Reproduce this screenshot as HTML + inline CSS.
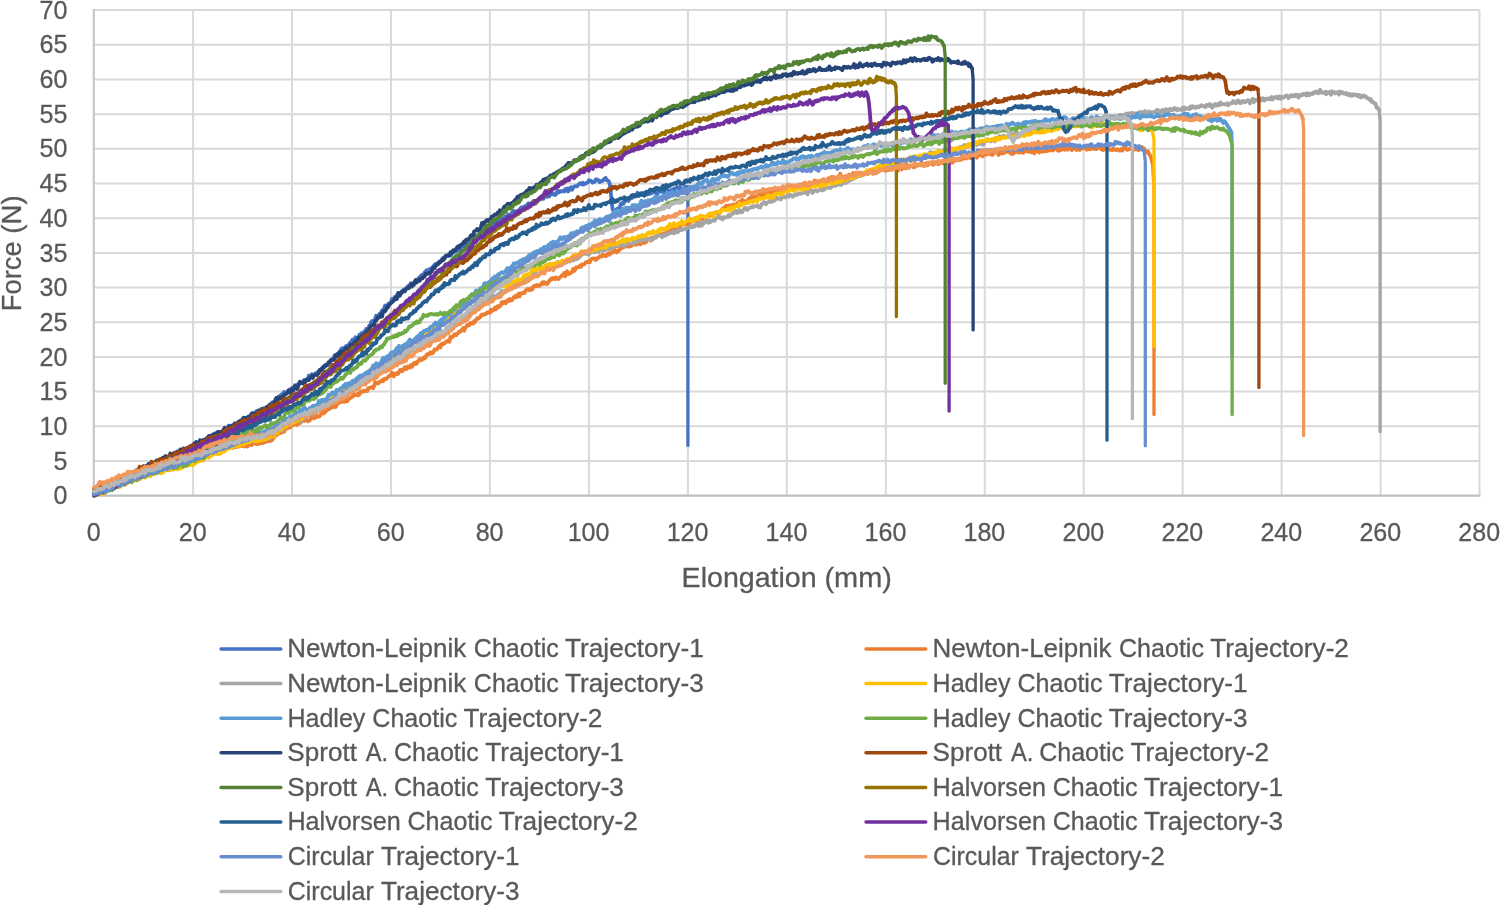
<!DOCTYPE html>
<html lang="en"><head><meta charset="utf-8"><title>Force vs Elongation</title>
<style>
html,body{margin:0;padding:0;background:#fff}
svg{display:block}
text{font-family:"Liberation Sans",sans-serif;fill:#595959;stroke:#595959;stroke-width:0.3px}
</style></head>
<body>
<svg width="1500" height="905" viewBox="0 0 1500 905">
<rect width="1500" height="905" fill="#ffffff"/>
<path d="M94.1,461.0H1479.5M94.1,426.3H1479.5M94.1,391.6H1479.5M94.1,357.0H1479.5M94.1,322.3H1479.5M94.1,287.6H1479.5M94.1,252.9H1479.5M94.1,218.2H1479.5M94.1,183.5H1479.5M94.1,148.8H1479.5M94.1,114.2H1479.5M94.1,79.5H1479.5M94.1,44.8H1479.5M94.1,10.1H1479.5M193.1,10.1V495.7M292.0,10.1V495.7M391.0,10.1V495.7M489.9,10.1V495.7M588.9,10.1V495.7M687.9,10.1V495.7M786.8,10.1V495.7M885.8,10.1V495.7M984.7,10.1V495.7M1083.7,10.1V495.7M1182.7,10.1V495.7M1281.6,10.1V495.7M1380.6,10.1V495.7M1479.5,10.1V495.7" stroke="#D9D9D9" stroke-width="2" fill="none"/>
<path d="M93.8,9.1V496.7" stroke="#C8C8C8" stroke-width="2.2" fill="none"/>
<path d="M93.1,495.7H1480.5" stroke="#BFBFBF" stroke-width="2.2" fill="none"/>
<g font-size="26" text-anchor="end" lengthAdjust="spacingAndGlyphs">
<text x="67.4" y="504.3" textLength="13.9" lengthAdjust="spacingAndGlyphs">0</text><text x="67.4" y="469.6" textLength="13.9" lengthAdjust="spacingAndGlyphs">5</text><text x="67.4" y="434.9" textLength="27.9" lengthAdjust="spacingAndGlyphs">10</text><text x="67.4" y="400.2" textLength="27.9" lengthAdjust="spacingAndGlyphs">15</text><text x="67.4" y="365.6" textLength="27.9" lengthAdjust="spacingAndGlyphs">20</text><text x="67.4" y="330.9" textLength="27.9" lengthAdjust="spacingAndGlyphs">25</text><text x="67.4" y="296.2" textLength="27.9" lengthAdjust="spacingAndGlyphs">30</text><text x="67.4" y="261.5" textLength="27.9" lengthAdjust="spacingAndGlyphs">35</text><text x="67.4" y="226.8" textLength="27.9" lengthAdjust="spacingAndGlyphs">40</text><text x="67.4" y="192.1" textLength="27.9" lengthAdjust="spacingAndGlyphs">45</text><text x="67.4" y="157.4" textLength="27.9" lengthAdjust="spacingAndGlyphs">50</text><text x="67.4" y="122.8" textLength="27.9" lengthAdjust="spacingAndGlyphs">55</text><text x="67.4" y="88.1" textLength="27.9" lengthAdjust="spacingAndGlyphs">60</text><text x="67.4" y="53.4" textLength="27.9" lengthAdjust="spacingAndGlyphs">65</text><text x="67.4" y="18.7" textLength="27.9" lengthAdjust="spacingAndGlyphs">70</text>
</g>
<g font-size="26" text-anchor="middle">
<text x="93.8" y="540.7" textLength="13.9" lengthAdjust="spacingAndGlyphs">0</text><text x="192.8" y="540.7" textLength="27.9" lengthAdjust="spacingAndGlyphs">20</text><text x="291.7" y="540.7" textLength="27.9" lengthAdjust="spacingAndGlyphs">40</text><text x="390.7" y="540.7" textLength="27.9" lengthAdjust="spacingAndGlyphs">60</text><text x="489.6" y="540.7" textLength="27.9" lengthAdjust="spacingAndGlyphs">80</text><text x="588.6" y="540.7" textLength="41.8" lengthAdjust="spacingAndGlyphs">100</text><text x="687.6" y="540.7" textLength="41.8" lengthAdjust="spacingAndGlyphs">120</text><text x="786.5" y="540.7" textLength="41.8" lengthAdjust="spacingAndGlyphs">140</text><text x="885.5" y="540.7" textLength="41.8" lengthAdjust="spacingAndGlyphs">160</text><text x="984.4" y="540.7" textLength="41.8" lengthAdjust="spacingAndGlyphs">180</text><text x="1083.4" y="540.7" textLength="41.8" lengthAdjust="spacingAndGlyphs">200</text><text x="1182.4" y="540.7" textLength="41.8" lengthAdjust="spacingAndGlyphs">220</text><text x="1281.3" y="540.7" textLength="41.8" lengthAdjust="spacingAndGlyphs">240</text><text x="1380.3" y="540.7" textLength="41.8" lengthAdjust="spacingAndGlyphs">260</text><text x="1479.2" y="540.7" textLength="41.8" lengthAdjust="spacingAndGlyphs">280</text>
</g>
<g font-size="28.5"><text y="586.8"><tspan x="681.59" textLength="135.06" lengthAdjust="spacingAndGlyphs">Elongation</tspan> <tspan x="824.48" textLength="67.53" lengthAdjust="spacingAndGlyphs">(mm)</tspan></text></g>
<g font-size="28.5" transform="translate(21.4,0) rotate(-90)"><text y="0"><tspan x="-311.2" textLength="69.8" lengthAdjust="spacingAndGlyphs">Force</tspan> <tspan x="-233.7" textLength="38.3" lengthAdjust="spacingAndGlyphs">(N)</tspan></text></g>
<g fill="none" stroke-width="3.8" stroke-linejoin="round" stroke-linecap="round">
<path stroke="#4472C4" d="M94.1,492.9 95.1,492.4 96.1,491.6 97.1,491.1 98.1,491.4 99.0,489.5 100.0,488.9 101.0,488.5 102.0,487.8 103.0,486.9 104.0,485.4 105.0,487.5 106.0,486.8 107.0,484.5 108.0,486.9 108.9,485.2 109.9,485.6 110.9,484.8 111.9,483.8 112.9,485.5 113.9,484.3 114.9,484.3 115.9,482.7 116.9,482.4 117.9,479.8 118.8,480.9 119.8,478.4 120.8,479.8 121.8,479.1 122.8,478.6 123.8,478.5 124.8,479.0 125.8,477.3 126.8,476.7 127.7,476.0 128.7,475.3 129.7,476.2 130.7,475.5 131.7,475.3 132.7,475.8 133.7,473.4 134.7,473.9 135.7,472.9 136.7,470.0 137.6,471.0 138.6,470.8 139.6,469.6 140.6,468.7 141.6,467.7 142.6,469.5 143.6,467.1 144.6,468.2 145.6,469.0 146.5,468.6 147.5,466.1 148.5,465.6 149.5,464.7 150.5,466.2 151.5,465.5 152.5,465.7 153.5,466.1 154.5,464.1 155.5,461.9 156.4,461.5 157.4,462.7 158.4,460.5 159.4,461.5 160.4,460.5 161.4,459.4 162.4,460.1 163.4,460.3 164.4,458.5 165.4,458.6 166.3,458.7 167.3,457.3 168.3,457.2 169.3,456.3 170.3,457.0 171.3,455.1 172.3,456.0 173.3,455.2 174.3,455.8 175.2,452.7 176.2,452.8 177.2,452.1 178.2,453.7 179.2,451.7 180.2,451.7 181.2,449.9 182.2,451.9 183.2,449.9 184.2,448.7 185.1,450.2 186.1,448.8 187.1,449.5 188.1,448.4 189.1,447.5 190.1,446.0 191.1,446.4 192.1,447.0 193.1,445.3 194.0,445.2 195.0,443.7 196.0,444.4 197.0,442.3 198.0,442.7 199.0,442.4 200.0,441.3 201.0,442.2 202.0,442.1 203.0,440.8 203.9,440.9 204.9,440.3 205.9,440.2 206.9,439.5 207.9,437.9 208.9,436.2 209.9,438.8 210.9,436.1 211.9,435.8 212.9,435.2 213.8,435.5 214.8,435.8 215.8,435.0 216.8,435.1 217.8,435.2 218.8,433.3 219.8,432.5 220.8,432.5 221.8,431.4 222.7,432.7 223.7,429.7 224.7,430.1 225.7,429.4 226.7,428.3 227.7,429.0 228.7,425.6 229.7,426.2 230.7,425.8 231.7,426.5 232.6,427.0 233.6,425.6 234.6,426.0 235.6,424.5 236.6,423.9 237.6,422.4 238.6,422.4 239.6,422.2 240.6,420.5 241.6,421.2 242.5,421.2 243.5,420.8 244.5,418.4 245.5,418.7 246.5,418.9 247.5,419.8 248.5,418.5 249.5,416.6 250.5,415.4 251.4,413.8 252.4,415.5 253.4,414.2 254.4,412.8 255.4,415.6 256.4,411.3 257.4,413.3 258.4,413.1 259.4,410.5 260.4,410.1 261.3,408.9 262.3,408.8 263.3,408.7 264.3,408.6 265.3,408.6 266.3,407.0 267.3,408.7 268.3,406.5 269.3,404.8 270.2,405.8 271.2,403.4 272.2,402.5 273.2,402.7 274.2,402.1 275.2,400.8 276.2,399.8 277.2,399.9 278.2,397.1 279.2,396.4 280.1,396.0 281.1,394.8 282.1,394.1 283.1,396.0 284.1,391.9 285.1,394.4 286.1,392.7 287.1,392.9 288.1,390.6 289.1,389.8 290.0,389.3 291.0,391.7 292.0,388.0 293.0,387.4 294.0,389.0 295.0,385.1 296.0,385.6 297.0,385.7 298.0,384.1 298.9,384.2 299.9,382.8 300.9,382.6 301.9,382.6 302.9,382.3 303.9,380.1 304.9,379.7 305.9,380.2 306.9,379.5 307.9,379.1 308.8,375.6 309.8,376.4 310.8,376.3 311.8,374.3 312.8,375.5 313.8,375.2 314.8,374.2 315.8,373.0 316.8,372.7 317.7,372.2 318.7,371.1 319.7,370.8 320.7,370.6 321.7,368.2 322.7,368.1 323.7,367.4 324.7,365.8 325.7,364.8 326.7,365.4 327.6,364.4 328.6,363.9 329.6,362.8 330.6,360.2 331.6,359.9 332.6,359.4 333.6,358.8 334.6,355.4 335.6,355.8 336.6,354.5 337.5,353.7 338.5,353.7 339.5,351.6 340.5,350.7 341.5,348.5 342.5,348.1 343.5,349.2 344.5,347.8 345.5,346.7 346.4,345.7 347.4,346.0 348.4,346.1 349.4,343.7 350.4,342.3 351.4,343.1 352.4,339.6 353.4,339.5 354.4,340.2 355.4,337.3 356.3,339.6 357.3,338.8 358.3,338.2 359.3,334.9 360.3,335.5 361.3,333.4 362.3,332.7 363.3,332.9 364.3,331.5 365.3,331.6 366.2,328.9 367.2,329.4 368.2,328.4 369.2,325.7 370.2,325.3 371.2,322.1 372.2,321.0 373.2,322.8 374.2,320.3 375.1,319.1 376.1,315.7 377.1,316.8 378.1,315.9 379.1,314.3 380.1,313.3 381.1,312.7 382.1,310.5 383.1,309.7 384.1,308.9 385.0,305.6 386.0,305.4 387.0,305.5 388.0,304.9 389.0,303.2 390.0,302.9 391.0,302.2 392.0,298.8 393.0,298.7 393.9,298.4 394.9,296.8 395.9,296.6 396.9,295.3 397.9,292.9 398.9,293.7 399.9,293.5 400.9,293.5 401.9,291.0 402.9,290.7 403.8,289.4 404.8,290.5 405.8,288.8 406.8,287.5 407.8,286.4 408.8,285.7 409.8,285.4 410.8,283.1 411.8,283.4 412.8,285.0 413.7,283.8 414.7,281.9 415.7,280.5 416.7,281.3 417.7,280.4 418.7,278.1 419.7,277.2 420.7,276.2 421.7,275.0 422.6,274.9 423.6,274.8 424.6,272.4 425.6,271.6 426.6,270.2 427.6,270.4 428.6,270.2 429.6,269.2 430.6,268.4 431.6,269.3 432.5,267.2 433.5,266.3 434.5,264.8 435.5,263.9 436.5,263.9 437.5,263.5 438.5,263.6 439.5,261.4 440.5,261.2 441.4,260.5 442.4,258.5 443.4,257.6 444.4,258.1 445.4,255.8 446.4,255.8 447.4,255.8 448.4,256.2 449.4,255.7 450.4,253.4 451.3,255.3 452.3,251.6 453.3,251.4 454.3,251.9 455.3,249.7 456.3,250.2 457.3,251.2 458.3,250.1 459.3,249.8 460.3,249.4 461.2,245.9 462.2,246.6 463.2,246.5 464.2,245.0 465.2,244.4 466.2,244.5 467.2,244.4 468.2,244.7 469.2,241.3 470.1,241.2 471.1,239.5 472.1,239.4 473.1,240.2 474.1,238.7 475.1,235.9 476.1,236.9 477.1,235.4 478.1,237.3 479.1,235.5 480.0,232.7 481.0,234.5 482.0,231.3 483.0,231.7 484.0,231.3 485.0,228.7 486.0,229.8 487.0,228.0 488.0,228.6 489.0,227.3 489.9,225.7 490.9,224.9 491.9,225.4 492.9,227.0 493.9,222.8 494.9,223.8 495.9,221.5 496.9,222.5 497.9,221.8 498.8,220.8 499.8,220.4 500.8,218.2 501.8,220.7 502.8,219.5 503.8,217.9 504.8,216.9 505.8,216.7 506.8,216.0 507.8,214.6 508.7,215.6 509.7,215.3 510.7,214.3 511.7,212.9 512.7,214.1 513.7,210.8 514.7,212.2 515.7,212.0 516.7,211.2 517.6,211.3 518.6,210.7 519.6,209.6 520.6,208.2 521.6,207.3 522.6,207.9 523.6,207.3 524.6,206.2 525.6,208.0 526.6,206.2 527.5,204.4 528.5,203.3 529.5,204.4 530.5,205.5 531.5,204.6 532.5,202.3 533.5,200.9 534.5,202.4 535.5,203.6 536.5,201.9 537.4,200.8 538.4,199.8 539.4,199.8 540.4,197.4 541.4,198.9 542.4,195.9 543.4,198.9 544.4,196.5 545.4,196.0 546.3,195.9 547.3,196.8 548.3,196.0 549.3,196.4 550.3,194.8 551.3,194.2 552.3,193.3 553.3,194.6 554.3,194.2 555.3,195.1 556.2,192.7 557.2,193.2 558.2,191.0 559.2,192.1 560.2,191.1 561.2,191.6 562.2,191.0 563.2,190.8 564.2,191.4 565.1,189.3 566.1,190.5 567.1,188.4 568.1,191.5 569.1,189.8 570.1,187.9 571.1,187.3 572.1,189.7 573.1,187.3 574.1,186.7 575.0,186.2 576.0,186.4 577.0,186.4 578.0,185.0 579.0,184.2 580.0,183.2 581.0,183.7 582.0,184.4 583.0,182.8 584.0,184.4 584.9,183.7 585.9,183.4 586.9,182.7 587.9,182.3 588.9,180.3 589.9,181.2 590.9,180.8 591.9,181.9 592.9,182.6 593.8,181.9 594.8,181.8 595.8,179.3 596.8,179.4 597.8,179.8 598.8,180.7 599.8,182.0 600.8,181.1 601.8,181.0 602.8,180.9 603.7,179.8 604.7,178.4 605.7,177.9 606.7,180.2 607.7,180.5 608.7,181.1 609.7,183.9 610.7,191.3 611.7,203.1 612.7,209.7 613.6,210.4 614.6,211.7 615.6,211.2 616.6,209.3 617.6,208.6 618.6,208.3 619.6,208.8 620.6,204.0 621.6,204.2 622.5,202.7 623.5,203.8 624.5,201.7 625.5,200.9 626.5,200.4 627.5,198.9 628.5,201.0 629.5,197.9 630.5,198.5 631.5,198.3 632.4,197.4 633.4,196.6 634.4,196.3 635.4,196.6 636.4,195.3 637.4,192.8 638.4,194.1 639.4,195.2 640.4,193.6 641.3,193.4 642.3,194.9 643.3,193.0 644.3,195.3 645.3,193.7 646.3,192.1 647.3,194.5 648.3,194.1 649.3,194.2 650.3,192.0 651.2,193.4 652.2,192.9 653.2,192.4 654.2,191.8 655.2,191.7 656.2,193.1 657.2,194.1 658.2,191.1 659.2,191.5 660.2,190.9 661.1,191.8 662.1,191.4 663.1,189.9 664.1,192.3 665.1,191.2 666.1,192.4 667.1,189.8 668.1,190.2 669.1,191.2 670.0,191.9 671.0,190.3 672.0,189.8 673.0,190.1 674.0,188.6 675.0,190.3 676.0,188.6 677.0,187.3 678.0,189.0 679.0,187.5 679.9,186.7 680.9,189.4 681.9,189.2 682.9,189.8 683.9,188.2 684.9,186.6 685.9,188.1 686.9,187.3 687.4,187.0"/>
<path stroke="#4472C4" stroke-width="3.3" d="M687.4,187.0L687.9,197.4V445.5"/>
<path stroke="#ED7D31" d="M94.1,493.6 95.1,493.6 96.1,492.8 97.1,492.2 98.1,492.4 99.0,491.7 100.0,490.1 101.0,490.0 102.0,490.2 103.0,490.0 104.0,490.9 105.0,489.1 106.0,491.3 107.0,489.8 108.0,489.4 108.9,490.4 109.9,488.8 110.9,486.5 111.9,487.9 112.9,488.8 113.9,487.4 114.9,486.0 115.9,486.0 116.9,486.0 117.9,486.9 118.8,485.1 119.8,484.5 120.8,483.3 121.8,482.6 122.8,482.8 123.8,484.7 124.8,484.6 125.8,484.0 126.8,482.2 127.7,482.5 128.7,480.2 129.7,480.6 130.7,480.2 131.7,479.3 132.7,479.1 133.7,480.6 134.7,476.9 135.7,476.9 136.7,476.7 137.6,478.5 138.6,479.6 139.6,479.1 140.6,478.2 141.6,475.8 142.6,475.0 143.6,474.0 144.6,473.0 145.6,474.0 146.5,474.2 147.5,474.7 148.5,474.5 149.5,475.1 150.5,473.1 151.5,472.6 152.5,472.8 153.5,473.0 154.5,471.6 155.5,470.3 156.4,471.0 157.4,470.7 158.4,471.1 159.4,470.7 160.4,470.4 161.4,469.9 162.4,469.9 163.4,468.9 164.4,467.7 165.4,469.4 166.3,467.2 167.3,468.3 168.3,468.3 169.3,469.5 170.3,469.8 171.3,466.4 172.3,467.5 173.3,465.8 174.3,465.9 175.2,465.4 176.2,463.9 177.2,464.8 178.2,467.7 179.2,466.5 180.2,463.6 181.2,461.9 182.2,463.3 183.2,463.8 184.2,464.2 185.1,462.0 186.1,463.6 187.1,463.0 188.1,461.3 189.1,460.9 190.1,461.1 191.1,459.6 192.1,461.1 193.1,461.0 194.0,459.8 195.0,458.8 196.0,459.1 197.0,456.4 198.0,458.4 199.0,457.2 200.0,457.9 201.0,456.9 202.0,457.0 203.0,456.6 203.9,454.5 204.9,455.7 205.9,453.7 206.9,455.3 207.9,454.8 208.9,453.0 209.9,455.8 210.9,455.0 211.9,452.9 212.9,451.8 213.8,451.3 214.8,451.7 215.8,452.6 216.8,450.3 217.8,450.0 218.8,451.5 219.8,450.2 220.8,448.0 221.8,449.2 222.7,450.4 223.7,449.9 224.7,449.5 225.7,448.4 226.7,447.4 227.7,448.6 228.7,448.4 229.7,446.6 230.7,446.3 231.7,445.5 232.6,447.8 233.6,447.7 234.6,445.5 235.6,447.0 236.6,446.0 237.6,445.9 238.6,446.5 239.6,444.3 240.6,445.3 241.6,446.1 242.5,445.6 243.5,444.9 244.5,446.4 245.5,445.8 246.5,445.9 247.5,446.5 248.5,443.7 249.5,442.6 250.5,442.4 251.4,445.3 252.4,443.5 253.4,442.8 254.4,443.7 255.4,442.4 256.4,444.0 257.4,444.0 258.4,443.7 259.4,443.5 260.4,443.4 261.3,441.4 262.3,443.1 263.3,442.5 264.3,442.5 265.3,439.4 266.3,441.8 267.3,440.5 268.3,438.7 269.3,441.1 270.2,441.0 271.2,440.1 272.2,440.2 273.2,437.1 274.2,437.6 275.2,435.4 276.2,435.1 277.2,434.9 278.2,433.3 279.2,433.4 280.1,431.3 281.1,432.8 282.1,431.9 283.1,429.3 284.1,431.8 285.1,429.0 286.1,428.8 287.1,428.5 288.1,428.1 289.1,425.7 290.0,427.5 291.0,425.0 292.0,424.7 293.0,425.2 294.0,424.4 295.0,423.3 296.0,424.0 297.0,425.0 298.0,423.3 298.9,423.7 299.9,423.1 300.9,422.3 301.9,421.3 302.9,419.8 303.9,420.8 304.9,420.8 305.9,419.7 306.9,419.7 307.9,421.4 308.8,420.4 309.8,420.5 310.8,418.5 311.8,417.1 312.8,417.4 313.8,418.4 314.8,416.4 315.8,417.5 316.8,415.9 317.7,416.7 318.7,416.7 319.7,416.1 320.7,414.3 321.7,414.0 322.7,412.3 323.7,413.3 324.7,411.3 325.7,411.7 326.7,409.5 327.6,408.8 328.6,409.4 329.6,408.7 330.6,408.0 331.6,407.2 332.6,407.3 333.6,405.5 334.6,406.3 335.6,407.1 336.6,404.7 337.5,404.2 338.5,402.8 339.5,402.4 340.5,402.3 341.5,401.9 342.5,401.4 343.5,401.7 344.5,401.9 345.5,401.1 346.4,399.8 347.4,401.2 348.4,399.3 349.4,398.9 350.4,397.6 351.4,397.6 352.4,396.4 353.4,396.0 354.4,394.1 355.4,395.1 356.3,394.8 357.3,394.1 358.3,395.5 359.3,394.6 360.3,391.8 361.3,391.8 362.3,391.9 363.3,390.7 364.3,391.3 365.3,390.9 366.2,390.3 367.2,391.2 368.2,388.2 369.2,388.3 370.2,387.6 371.2,387.3 372.2,387.0 373.2,388.2 374.2,385.5 375.1,382.6 376.1,382.7 377.1,383.4 378.1,383.7 379.1,382.3 380.1,381.5 381.1,381.5 382.1,380.3 383.1,381.2 384.1,378.9 385.0,378.9 386.0,379.1 387.0,378.2 388.0,377.0 389.0,376.0 390.0,375.9 391.0,374.8 392.0,372.4 393.0,375.8 393.9,376.3 394.9,373.9 395.9,374.2 396.9,373.0 397.9,374.0 398.9,372.2 399.9,370.3 400.9,369.8 401.9,371.3 402.9,370.5 403.8,368.7 404.8,367.2 405.8,369.1 406.8,368.8 407.8,366.5 408.8,367.1 409.8,367.5 410.8,365.1 411.8,366.8 412.8,365.5 413.7,363.3 414.7,364.0 415.7,362.4 416.7,363.8 417.7,361.5 418.7,360.6 419.7,358.9 420.7,360.0 421.7,360.1 422.6,359.1 423.6,357.4 424.6,358.4 425.6,357.3 426.6,354.5 427.6,354.3 428.6,353.7 429.6,354.1 430.6,352.2 431.6,353.4 432.5,353.3 433.5,352.1 434.5,349.3 435.5,349.4 436.5,349.7 437.5,348.5 438.5,347.0 439.5,345.6 440.5,347.4 441.4,344.3 442.4,343.6 443.4,344.2 444.4,343.5 445.4,342.1 446.4,341.9 447.4,340.8 448.4,341.3 449.4,341.8 450.4,336.9 451.3,337.6 452.3,337.1 453.3,336.1 454.3,334.5 455.3,334.1 456.3,335.1 457.3,333.7 458.3,332.8 459.3,331.4 460.3,331.8 461.2,330.3 462.2,329.7 463.2,328.0 464.2,330.7 465.2,327.9 466.2,326.6 467.2,325.2 468.2,325.1 469.2,325.4 470.1,323.4 471.1,322.9 472.1,323.5 473.1,323.7 474.1,321.2 475.1,321.8 476.1,319.9 477.1,318.2 478.1,318.5 479.1,318.0 480.0,317.4 481.0,315.4 482.0,314.5 483.0,315.0 484.0,314.1 485.0,314.1 486.0,314.1 487.0,312.4 488.0,312.3 489.0,312.6 489.9,312.9 490.9,309.8 491.9,311.0 492.9,310.7 493.9,309.4 494.9,307.6 495.9,309.3 496.9,306.7 497.9,306.0 498.8,307.0 499.8,306.5 500.8,305.0 501.8,302.2 502.8,303.3 503.8,301.9 504.8,301.7 505.8,303.3 506.8,301.8 507.8,300.1 508.7,300.9 509.7,299.0 510.7,300.5 511.7,300.4 512.7,298.8 513.7,297.2 514.7,297.4 515.7,295.7 516.7,297.2 517.6,296.0 518.6,293.8 519.6,296.4 520.6,293.5 521.6,293.6 522.6,293.0 523.6,292.4 524.6,293.0 525.6,290.4 526.6,290.0 527.5,288.9 528.5,289.3 529.5,290.2 530.5,288.4 531.5,289.8 532.5,289.2 533.5,286.0 534.5,285.8 535.5,286.2 536.5,284.9 537.4,286.0 538.4,285.1 539.4,285.7 540.4,284.9 541.4,283.9 542.4,282.2 543.4,283.8 544.4,282.1 545.4,282.6 546.3,284.0 547.3,284.0 548.3,282.6 549.3,280.4 550.3,280.4 551.3,278.4 552.3,279.3 553.3,277.9 554.3,278.5 555.3,279.2 556.2,277.5 557.2,278.5 558.2,279.0 559.2,278.1 560.2,277.3 561.2,276.2 562.2,275.1 563.2,274.8 564.2,273.0 565.1,276.4 566.1,274.7 567.1,271.3 568.1,273.1 569.1,274.0 570.1,273.2 571.1,272.8 572.1,271.7 573.1,269.0 574.1,271.1 575.0,270.1 576.0,267.4 577.0,267.5 578.0,267.0 579.0,267.2 580.0,265.4 581.0,266.7 582.0,264.5 583.0,264.6 584.0,264.4 584.9,263.9 585.9,262.2 586.9,262.0 587.9,262.2 588.9,261.1 589.9,262.1 590.9,259.6 591.9,258.7 592.9,258.4 593.8,258.8 594.8,258.5 595.8,259.9 596.8,258.9 597.8,258.0 598.8,257.4 599.8,256.2 600.8,256.7 601.8,256.6 602.8,254.4 603.7,255.2 604.7,255.4 605.7,256.3 606.7,255.4 607.7,254.1 608.7,253.2 609.7,254.7 610.7,252.9 611.7,252.1 612.7,252.5 613.6,251.7 614.6,250.0 615.6,251.5 616.6,252.4 617.6,251.0 618.6,251.0 619.6,249.9 620.6,248.5 621.6,247.7 622.5,247.9 623.5,246.6 624.5,247.1 625.5,246.3 626.5,246.4 627.5,246.3 628.5,246.7 629.5,246.0 630.5,246.3 631.5,245.7 632.4,245.0 633.4,243.4 634.4,244.2 635.4,243.3 636.4,244.8 637.4,243.8 638.4,242.0 639.4,242.5 640.4,244.4 641.3,242.7 642.3,242.2 643.3,242.8 644.3,243.1 645.3,242.0 646.3,241.8 647.3,239.8 648.3,239.4 649.3,239.0 650.3,238.0 651.2,240.5 652.2,238.8 653.2,237.5 654.2,237.8 655.2,237.4 656.2,237.0 657.2,235.7 658.2,235.2 659.2,233.7 660.2,234.2 661.1,234.2 662.1,234.0 663.1,234.5 664.1,233.4 665.1,232.3 666.1,232.1 667.1,233.3 668.1,233.6 669.1,231.1 670.0,230.8 671.0,230.3 672.0,231.0 673.0,229.1 674.0,228.3 675.0,229.0 676.0,228.0 677.0,229.0 678.0,227.9 679.0,229.3 679.9,227.5 680.9,224.1 681.9,224.9 682.9,223.8 683.9,224.4 684.9,224.5 685.9,224.0 686.9,224.4 687.9,223.1 688.8,223.9 689.8,222.8 690.8,219.2 691.8,220.9 692.8,221.6 693.8,220.2 694.8,220.2 695.8,220.6 696.8,221.1 697.8,220.1 698.7,219.8 699.7,219.0 700.7,218.2 701.7,218.0 702.7,218.8 703.7,217.1 704.7,216.8 705.7,218.1 706.7,216.2 707.7,215.7 708.6,214.9 709.6,215.9 710.6,215.0 711.6,214.4 712.6,215.1 713.6,213.2 714.6,213.3 715.6,212.3 716.6,213.2 717.5,213.4 718.5,212.9 719.5,213.3 720.5,211.7 721.5,210.1 722.5,208.4 723.5,208.0 724.5,207.3 725.5,206.6 726.5,205.4 727.4,206.6 728.4,205.7 729.4,205.4 730.4,208.2 731.4,205.6 732.4,205.0 733.4,204.5 734.4,205.0 735.4,205.1 736.4,204.5 737.3,203.1 738.3,202.7 739.3,201.5 740.3,203.7 741.3,201.4 742.3,199.8 743.3,202.1 744.3,201.1 745.3,202.1 746.2,203.1 747.2,201.4 748.2,199.4 749.2,198.5 750.2,198.5 751.2,197.0 752.2,196.7 753.2,194.9 754.2,197.9 755.2,197.5 756.1,197.0 757.1,196.5 758.1,196.0 759.1,192.9 760.1,194.9 761.1,194.0 762.1,195.8 763.1,195.2 764.1,193.2 765.0,192.3 766.0,194.6 767.0,190.9 768.0,191.7 769.0,192.9 770.0,191.6 771.0,192.4 772.0,193.4 773.0,191.7 774.0,190.5 774.9,189.9 775.9,192.5 776.9,191.9 777.9,190.7 778.9,189.2 779.9,188.4 780.9,189.6 781.9,190.5 782.9,188.6 783.9,189.3 784.8,188.5 785.8,187.6 786.8,187.6 787.8,189.0 788.8,189.3 789.8,189.2 790.8,186.8 791.8,185.8 792.8,187.6 793.7,187.3 794.7,187.6 795.7,186.7 796.7,187.2 797.7,187.0 798.7,184.7 799.7,184.6 800.7,185.5 801.7,184.4 802.7,185.9 803.6,184.9 804.6,186.0 805.6,185.6 806.6,183.5 807.6,185.3 808.6,184.6 809.6,185.2 810.6,185.1 811.6,183.5 812.5,182.9 813.5,184.3 814.5,180.6 815.5,180.7 816.5,183.0 817.5,181.7 818.5,181.5 819.5,182.0 820.5,182.6 821.5,181.2 822.4,181.0 823.4,179.2 824.4,179.6 825.4,180.8 826.4,180.7 827.4,179.7 828.4,178.3 829.4,180.0 830.4,178.5 831.4,177.1 832.3,179.5 833.3,176.9 834.3,178.2 835.3,177.8 836.3,178.1 837.3,177.2 838.3,176.6 839.3,176.3 840.3,173.7 841.2,178.7 842.2,177.4 843.2,177.7 844.2,176.6 845.2,176.7 846.2,176.1 847.2,175.7 848.2,176.0 849.2,174.6 850.2,176.4 851.1,175.5 852.1,174.6 853.1,172.9 854.1,175.3 855.1,175.2 856.1,173.4 857.1,173.6 858.1,174.9 859.1,172.4 860.1,172.9 861.0,173.2 862.0,173.4 863.0,172.8 864.0,173.1 865.0,172.3 866.0,172.0 867.0,173.2 868.0,174.0 869.0,170.8 869.9,172.2 870.9,169.8 871.9,170.9 872.9,173.9 873.9,171.4 874.9,172.1 875.9,173.3 876.9,171.0 877.9,171.9 878.9,171.0 879.8,169.3 880.8,169.4 881.8,169.9 882.8,169.9 883.8,169.7 884.8,170.4 885.8,170.8 886.8,170.3 887.8,169.5 888.7,170.0 889.7,169.5 890.7,169.0 891.7,169.6 892.7,167.8 893.7,167.3 894.7,168.1 895.7,169.1 896.7,170.3 897.7,171.1 898.6,167.5 899.6,167.9 900.6,168.5 901.6,169.4 902.6,168.2 903.6,166.6 904.6,166.9 905.6,168.2 906.6,164.1 907.6,165.8 908.5,167.5 909.5,166.2 910.5,165.8 911.5,165.3 912.5,165.7 913.5,167.3 914.5,165.8 915.5,166.5 916.5,165.6 917.4,165.6 918.4,164.6 919.4,164.8 920.4,165.3 921.4,162.2 922.4,164.7 923.4,164.9 924.4,164.0 925.4,163.7 926.4,163.1 927.3,165.4 928.3,164.7 929.3,162.6 930.3,163.0 931.3,162.9 932.3,164.3 933.3,164.7 934.3,164.0 935.3,162.8 936.2,162.1 937.2,161.8 938.2,164.3 939.2,162.9 940.2,162.4 941.2,162.9 942.2,162.7 943.2,163.2 944.2,162.2 945.2,163.8 946.1,160.4 947.1,160.9 948.1,159.5 949.1,161.4 950.1,162.6 951.1,159.4 952.1,162.6 953.1,161.9 954.1,159.9 955.1,158.6 956.0,160.4 957.0,160.1 958.0,160.0 959.0,159.0 960.0,160.1 961.0,158.7 962.0,158.0 963.0,158.9 964.0,158.6 964.9,156.2 965.9,157.6 966.9,158.4 967.9,156.8 968.9,156.2 969.9,157.7 970.9,158.2 971.9,155.8 972.9,155.6 973.9,155.1 974.8,154.5 975.8,157.0 976.8,157.7 977.8,155.1 978.8,154.5 979.8,155.1 980.8,154.5 981.8,155.7 982.8,156.2 983.8,155.1 984.7,154.3 985.7,153.9 986.7,154.5 987.7,153.8 988.7,153.0 989.7,153.7 990.7,154.5 991.7,152.4 992.7,154.7 993.6,153.6 994.6,151.5 995.6,150.7 996.6,151.5 997.6,153.4 998.6,154.9 999.6,153.8 1000.6,153.0 1001.6,152.4 1002.6,153.5 1003.5,153.1 1004.5,152.5 1005.5,152.4 1006.5,151.1 1007.5,151.5 1008.5,151.3 1009.5,152.4 1010.5,152.1 1011.5,154.0 1012.4,152.6 1013.4,153.7 1014.4,152.2 1015.4,151.4 1016.4,151.8 1017.4,150.5 1018.4,152.5 1019.4,152.0 1020.4,152.4 1021.4,152.1 1022.3,150.5 1023.3,152.8 1024.3,150.2 1025.3,150.0 1026.3,150.9 1027.3,151.6 1028.3,151.1 1029.3,151.7 1030.3,150.0 1031.3,152.2 1032.2,152.4 1033.2,151.4 1034.2,153.5 1035.2,150.0 1036.2,151.2 1037.2,150.3 1038.2,150.5 1039.2,152.6 1040.2,151.1 1041.1,150.3 1042.1,151.7 1043.1,151.7 1044.1,151.4 1045.1,149.4 1046.1,151.2 1047.1,151.2 1048.1,150.3 1049.1,149.8 1050.1,150.5 1051.0,148.3 1052.0,148.0 1053.0,150.6 1054.0,148.2 1055.0,149.0 1056.0,148.8 1057.0,148.7 1058.0,150.7 1059.0,150.8 1059.9,149.0 1060.9,150.0 1061.9,146.6 1062.9,149.3 1063.9,148.2 1064.9,149.8 1065.9,146.9 1066.9,146.6 1067.9,149.8 1068.9,148.3 1069.8,148.3 1070.8,146.8 1071.8,150.3 1072.8,148.7 1073.8,147.5 1074.8,148.5 1075.8,149.2 1076.8,150.1 1077.8,148.4 1078.8,148.7 1079.7,149.9 1080.7,148.4 1081.7,148.9 1082.7,148.4 1083.7,147.6 1084.7,147.3 1085.7,148.3 1086.7,149.7 1087.7,149.1 1088.6,149.2 1089.6,147.7 1090.6,149.2 1091.6,147.4 1092.6,148.5 1093.6,148.1 1094.6,149.0 1095.6,147.6 1096.6,149.1 1097.6,146.9 1098.5,147.7 1099.5,147.6 1100.5,148.0 1101.5,149.4 1102.5,147.6 1103.5,150.0 1104.5,148.7 1105.5,148.1 1106.5,147.8 1107.5,149.3 1108.4,149.3 1109.4,149.2 1110.4,149.9 1111.4,149.4 1112.4,150.0 1113.4,148.6 1114.4,149.3 1115.4,150.0 1116.4,149.9 1117.3,149.2 1118.3,150.1 1119.3,150.6 1120.3,150.4 1121.3,148.9 1122.3,150.6 1123.3,148.8 1124.3,147.7 1125.3,148.9 1126.3,148.9 1127.2,149.8 1128.2,149.6 1129.2,149.2 1130.2,148.2 1131.2,148.8 1132.2,149.7 1133.2,149.2 1134.2,149.6 1135.2,147.0 1136.1,149.1 1137.1,147.3 1138.1,150.1 1139.1,149.9 1140.1,147.6 1141.1,149.1 1142.1,147.1 1143.1,148.4 1144.1,148.5 1145.1,151.8 1146.0,151.2 1147.0,152.3 1148.0,151.3 1149.0,154.1 1150.0,155.1 1151.0,157.4 1152.0,161.1 1153.0,165.5 1153.7,180.1"/>
<path stroke="#ED7D31" stroke-width="3.3" d="M1153.7,180.1L1154.0,190.5V414.5"/>
<path stroke="#A5A5A5" d="M94.1,492.2 95.1,491.5 96.1,491.0 97.1,491.4 98.1,491.1 99.0,489.6 100.0,489.6 101.0,488.3 102.0,490.8 103.0,487.0 104.0,486.1 105.0,488.9 106.0,487.8 107.0,487.8 108.0,486.9 108.9,485.1 109.9,485.8 110.9,485.8 111.9,483.9 112.9,482.7 113.9,484.0 114.9,483.0 115.9,484.4 116.9,481.7 117.9,479.5 118.8,480.6 119.8,481.1 120.8,482.7 121.8,480.8 122.8,481.9 123.8,478.6 124.8,476.9 125.8,476.6 126.8,477.1 127.7,476.6 128.7,477.4 129.7,476.1 130.7,475.7 131.7,475.4 132.7,477.9 133.7,475.0 134.7,474.4 135.7,475.3 136.7,474.1 137.6,473.3 138.6,475.7 139.6,472.6 140.6,473.4 141.6,474.1 142.6,473.0 143.6,473.4 144.6,472.9 145.6,473.1 146.5,472.4 147.5,472.5 148.5,471.4 149.5,471.3 150.5,471.1 151.5,468.4 152.5,468.9 153.5,468.4 154.5,466.7 155.5,467.2 156.4,467.9 157.4,468.8 158.4,466.8 159.4,466.3 160.4,465.5 161.4,466.3 162.4,466.4 163.4,467.7 164.4,465.3 165.4,466.6 166.3,465.7 167.3,464.3 168.3,464.1 169.3,464.1 170.3,463.3 171.3,465.2 172.3,463.6 173.3,461.7 174.3,461.3 175.2,463.6 176.2,461.3 177.2,461.2 178.2,462.3 179.2,462.5 180.2,461.2 181.2,459.2 182.2,459.5 183.2,460.8 184.2,459.6 185.1,458.3 186.1,458.9 187.1,459.2 188.1,458.3 189.1,460.5 190.1,457.9 191.1,458.7 192.1,457.5 193.1,456.8 194.0,456.8 195.0,456.8 196.0,456.4 197.0,454.8 198.0,456.5 199.0,455.9 200.0,454.6 201.0,453.5 202.0,453.9 203.0,454.2 203.9,452.8 204.9,453.3 205.9,450.5 206.9,450.8 207.9,450.0 208.9,452.3 209.9,452.1 210.9,451.5 211.9,452.0 212.9,451.1 213.8,449.5 214.8,451.0 215.8,450.3 216.8,448.1 217.8,448.7 218.8,448.3 219.8,448.4 220.8,448.8 221.8,448.4 222.7,447.5 223.7,447.9 224.7,447.1 225.7,447.4 226.7,446.8 227.7,444.8 228.7,445.4 229.7,447.2 230.7,446.2 231.7,443.9 232.6,443.2 233.6,445.9 234.6,444.7 235.6,444.6 236.6,446.8 237.6,444.4 238.6,442.0 239.6,444.1 240.6,443.7 241.6,442.1 242.5,443.1 243.5,442.9 244.5,442.0 245.5,443.3 246.5,441.5 247.5,442.8 248.5,441.4 249.5,440.4 250.5,439.2 251.4,441.3 252.4,440.3 253.4,440.2 254.4,441.9 255.4,440.4 256.4,439.8 257.4,439.3 258.4,437.4 259.4,438.8 260.4,438.9 261.3,438.7 262.3,438.5 263.3,437.7 264.3,436.1 265.3,438.2 266.3,437.4 267.3,439.1 268.3,438.4 269.3,436.3 270.2,437.9 271.2,434.9 272.2,433.1 273.2,434.6 274.2,434.4 275.2,433.3 276.2,433.2 277.2,432.1 278.2,431.9 279.2,429.8 280.1,429.5 281.1,429.2 282.1,430.8 283.1,428.8 284.1,427.3 285.1,425.8 286.1,426.7 287.1,425.3 288.1,424.2 289.1,425.0 290.0,423.5 291.0,423.4 292.0,423.7 293.0,422.3 294.0,420.3 295.0,420.6 296.0,420.8 297.0,419.6 298.0,419.2 298.9,419.3 299.9,420.9 300.9,421.5 301.9,420.3 302.9,416.4 303.9,416.5 304.9,418.3 305.9,415.8 306.9,417.1 307.9,415.4 308.8,414.0 309.8,414.6 310.8,413.4 311.8,412.7 312.8,414.7 313.8,412.8 314.8,411.5 315.8,411.8 316.8,412.1 317.7,409.0 318.7,409.0 319.7,409.4 320.7,409.2 321.7,407.9 322.7,406.0 323.7,406.9 324.7,405.6 325.7,405.2 326.7,405.0 327.6,404.2 328.6,403.5 329.6,403.9 330.6,403.9 331.6,401.3 332.6,399.8 333.6,399.9 334.6,400.9 335.6,399.7 336.6,399.5 337.5,400.0 338.5,399.4 339.5,398.3 340.5,396.4 341.5,397.3 342.5,394.7 343.5,394.9 344.5,393.2 345.5,392.7 346.4,392.9 347.4,392.5 348.4,391.4 349.4,390.8 350.4,389.8 351.4,388.1 352.4,388.6 353.4,387.4 354.4,387.4 355.4,388.1 356.3,386.9 357.3,386.1 358.3,385.1 359.3,385.6 360.3,383.7 361.3,384.2 362.3,383.4 363.3,381.9 364.3,381.5 365.3,382.0 366.2,382.0 367.2,380.7 368.2,380.1 369.2,376.7 370.2,378.7 371.2,378.7 372.2,374.8 373.2,377.5 374.2,376.3 375.1,374.4 376.1,374.2 377.1,373.3 378.1,371.4 379.1,369.8 380.1,371.1 381.1,370.5 382.1,370.5 383.1,370.1 384.1,369.5 385.0,368.2 386.0,368.1 387.0,366.8 388.0,366.9 389.0,366.8 390.0,365.4 391.0,364.6 392.0,364.0 393.0,363.5 393.9,361.9 394.9,362.9 395.9,360.6 396.9,361.1 397.9,360.2 398.9,358.1 399.9,357.4 400.9,359.2 401.9,356.8 402.9,354.9 403.8,356.1 404.8,355.2 405.8,352.9 406.8,354.4 407.8,351.1 408.8,352.8 409.8,352.0 410.8,351.0 411.8,350.1 412.8,348.4 413.7,347.7 414.7,347.2 415.7,346.4 416.7,347.5 417.7,346.2 418.7,344.1 419.7,345.4 420.7,342.6 421.7,343.4 422.6,344.1 423.6,342.2 424.6,341.5 425.6,342.5 426.6,342.2 427.6,342.2 428.6,341.5 429.6,342.5 430.6,340.8 431.6,338.2 432.5,339.2 433.5,338.3 434.5,337.2 435.5,337.3 436.5,337.6 437.5,337.2 438.5,336.6 439.5,335.0 440.5,335.0 441.4,333.4 442.4,331.4 443.4,331.8 444.4,333.2 445.4,331.2 446.4,330.9 447.4,330.5 448.4,330.2 449.4,329.2 450.4,324.9 451.3,323.5 452.3,324.0 453.3,326.1 454.3,324.6 455.3,323.2 456.3,323.7 457.3,322.3 458.3,320.8 459.3,319.4 460.3,319.5 461.2,318.9 462.2,318.8 463.2,318.2 464.2,317.0 465.2,316.3 466.2,314.7 467.2,314.1 468.2,313.9 469.2,311.5 470.1,312.1 471.1,310.8 472.1,309.9 473.1,310.1 474.1,309.0 475.1,307.9 476.1,307.9 477.1,307.9 478.1,303.8 479.1,305.6 480.0,304.9 481.0,304.4 482.0,303.2 483.0,301.7 484.0,300.8 485.0,301.5 486.0,300.1 487.0,299.0 488.0,299.1 489.0,297.6 489.9,297.6 490.9,296.8 491.9,298.0 492.9,295.1 493.9,296.1 494.9,296.7 495.9,296.4 496.9,295.7 497.9,294.2 498.8,296.0 499.8,294.4 500.8,291.8 501.8,290.8 502.8,292.6 503.8,291.5 504.8,290.8 505.8,291.0 506.8,290.8 507.8,289.1 508.7,289.3 509.7,288.5 510.7,287.4 511.7,288.3 512.7,287.9 513.7,284.3 514.7,286.3 515.7,284.2 516.7,283.5 517.6,283.6 518.6,283.6 519.6,282.8 520.6,282.9 521.6,281.5 522.6,281.1 523.6,280.7 524.6,279.8 525.6,277.8 526.6,277.5 527.5,277.2 528.5,274.4 529.5,275.4 530.5,274.2 531.5,274.7 532.5,274.3 533.5,272.0 534.5,270.6 535.5,273.6 536.5,269.9 537.4,268.8 538.4,268.9 539.4,267.9 540.4,268.8 541.4,267.3 542.4,268.2 543.4,267.1 544.4,266.9 545.4,266.1 546.3,267.1 547.3,265.5 548.3,265.0 549.3,264.0 550.3,265.3 551.3,264.4 552.3,265.4 553.3,264.1 554.3,264.8 555.3,265.2 556.2,264.7 557.2,262.4 558.2,262.0 559.2,263.3 560.2,263.1 561.2,262.6 562.2,264.2 563.2,260.9 564.2,262.9 565.1,263.1 566.1,261.9 567.1,262.1 568.1,260.7 569.1,259.7 570.1,260.3 571.1,259.6 572.1,259.8 573.1,260.5 574.1,259.9 575.0,256.4 576.0,257.6 577.0,259.2 578.0,258.3 579.0,257.6 580.0,255.9 581.0,255.8 582.0,254.3 583.0,253.2 584.0,254.0 584.9,253.7 585.9,252.7 586.9,254.0 587.9,253.6 588.9,254.6 589.9,252.1 590.9,252.9 591.9,251.7 592.9,249.3 593.8,252.4 594.8,251.7 595.8,251.8 596.8,251.6 597.8,249.8 598.8,251.8 599.8,250.0 600.8,249.4 601.8,248.2 602.8,250.5 603.7,250.2 604.7,248.0 605.7,250.0 606.7,248.2 607.7,246.9 608.7,249.1 609.7,248.8 610.7,246.9 611.7,248.5 612.7,246.5 613.6,245.8 614.6,246.6 615.6,246.5 616.6,246.1 617.6,246.5 618.6,244.9 619.6,244.3 620.6,245.0 621.6,244.3 622.5,245.6 623.5,245.2 624.5,246.2 625.5,244.8 626.5,243.1 627.5,243.3 628.5,243.7 629.5,243.4 630.5,243.2 631.5,241.4 632.4,243.2 633.4,240.9 634.4,241.1 635.4,242.7 636.4,240.9 637.4,240.4 638.4,241.0 639.4,238.8 640.4,240.7 641.3,240.3 642.3,239.4 643.3,239.0 644.3,239.6 645.3,238.6 646.3,239.7 647.3,238.9 648.3,239.0 649.3,238.8 650.3,239.6 651.2,238.6 652.2,239.4 653.2,239.2 654.2,237.8 655.2,236.2 656.2,237.6 657.2,236.2 658.2,234.2 659.2,235.3 660.2,235.1 661.1,235.7 662.1,237.2 663.1,235.8 664.1,234.8 665.1,235.8 666.1,234.4 667.1,234.7 668.1,233.2 669.1,233.5 670.0,233.2 671.0,232.8 672.0,232.9 673.0,231.0 674.0,233.2 675.0,232.7 676.0,231.7 677.0,231.1 678.0,232.1 679.0,229.7 679.9,230.3 680.9,229.3 681.9,230.0 682.9,229.7 683.9,228.8 684.9,229.1 685.9,229.3 686.9,228.0 687.9,227.1 688.8,227.5 689.8,226.8 690.8,227.4 691.8,226.2 692.8,227.0 693.8,225.6 694.8,226.5 695.8,225.1 696.8,223.7 697.8,224.5 698.7,226.1 699.7,223.1 700.7,224.4 701.7,225.8 702.7,221.8 703.7,223.5 704.7,222.2 705.7,222.1 706.7,220.3 707.7,220.0 708.6,222.8 709.6,220.9 710.6,221.9 711.6,220.8 712.6,220.4 713.6,219.9 714.6,220.7 715.6,218.9 716.6,218.2 717.5,217.7 718.5,216.2 719.5,217.5 720.5,218.3 721.5,217.3 722.5,219.4 723.5,217.1 724.5,217.6 725.5,217.3 726.5,217.1 727.4,216.8 728.4,215.1 729.4,216.4 730.4,215.5 731.4,214.2 732.4,214.0 733.4,212.1 734.4,212.7 735.4,210.8 736.4,211.3 737.3,213.0 738.3,212.2 739.3,210.0 740.3,212.1 741.3,211.7 742.3,212.2 743.3,210.2 744.3,208.6 745.3,207.8 746.2,208.9 747.2,210.1 748.2,208.5 749.2,208.4 750.2,207.3 751.2,207.3 752.2,206.1 753.2,207.3 754.2,206.4 755.2,206.2 756.1,206.2 757.1,205.2 758.1,207.0 759.1,206.9 760.1,207.6 761.1,205.0 762.1,203.7 763.1,203.7 764.1,202.1 765.0,203.1 766.0,204.1 767.0,202.7 768.0,202.3 769.0,201.8 770.0,200.6 771.0,202.0 772.0,201.8 773.0,200.7 774.0,199.1 774.9,200.4 775.9,198.3 776.9,197.4 777.9,198.7 778.9,198.8 779.9,198.3 780.9,199.4 781.9,196.5 782.9,197.2 783.9,196.4 784.8,197.5 785.8,196.6 786.8,196.5 787.8,194.7 788.8,196.8 789.8,194.6 790.8,195.2 791.8,195.4 792.8,196.8 793.7,195.4 794.7,195.3 795.7,194.2 796.7,194.8 797.7,194.7 798.7,193.2 799.7,193.4 800.7,193.9 801.7,193.1 802.7,192.4 803.6,192.8 804.6,192.6 805.6,191.0 806.6,192.1 807.6,194.3 808.6,191.4 809.6,190.2 810.6,190.1 811.6,190.1 812.5,193.0 813.5,192.0 814.5,190.7 815.5,190.3 816.5,190.4 817.5,191.3 818.5,190.7 819.5,190.1 820.5,188.9 821.5,187.3 822.4,190.5 823.4,189.2 824.4,189.6 825.4,187.6 826.4,187.8 827.4,187.4 828.4,187.4 829.4,188.0 830.4,187.8 831.4,187.3 832.3,185.9 833.3,184.3 834.3,184.8 835.3,185.9 836.3,184.0 837.3,184.6 838.3,184.8 839.3,184.1 840.3,184.6 841.2,184.9 842.2,183.8 843.2,183.0 844.2,182.3 845.2,183.0 846.2,181.6 847.2,182.5 848.2,179.4 849.2,180.2 850.2,180.5 851.1,178.5 852.1,178.4 853.1,179.1 854.1,176.2 855.1,177.9 856.1,176.6 857.1,177.1 858.1,175.6 859.1,175.1 860.1,176.0 861.0,175.9 862.0,173.9 863.0,174.4 864.0,173.3 865.0,173.5 866.0,172.4 867.0,172.4 868.0,173.1 869.0,170.9 869.9,171.8 870.9,171.4 871.9,170.8 872.9,169.3 873.9,170.5 874.9,169.9 875.9,169.5 876.9,169.4 877.9,169.9 878.9,171.4 879.8,169.3 880.8,167.0 881.8,167.4 882.8,167.4 883.8,166.9 884.8,165.5 885.8,166.1 886.8,166.1 887.8,165.1 888.7,164.4 889.7,164.6 890.7,164.5 891.7,166.3 892.7,166.2 893.7,164.3 894.7,164.2 895.7,164.1 896.7,162.9 897.7,162.1 898.6,159.5 899.6,162.5 900.6,161.8 901.6,159.4 902.6,161.8 903.6,160.8 904.6,162.1 905.6,159.9 906.6,161.1 907.6,159.8 908.5,159.1 909.5,160.0 910.5,161.0 911.5,160.6 912.5,159.3 913.5,158.5 914.5,158.0 915.5,159.3 916.5,157.2 917.4,157.9 918.4,158.3 919.4,158.6 920.4,158.7 921.4,159.7 922.4,158.1 923.4,156.9 924.4,154.9 925.4,155.1 926.4,156.4 927.3,154.8 928.3,156.0 929.3,152.8 930.3,151.9 931.3,153.8 932.3,154.7 933.3,152.6 934.3,152.8 935.3,152.6 936.2,152.5 937.2,153.3 938.2,152.0 939.2,151.1 940.2,151.5 941.2,151.9 942.2,151.7 943.2,150.7 944.2,150.0 945.2,151.1 946.1,151.8 947.1,150.2 948.1,150.4 949.1,149.8 950.1,147.8 951.1,148.0 952.1,151.0 953.1,150.2 954.1,148.8 955.1,150.1 956.0,150.4 957.0,148.7 958.0,148.3 959.0,147.7 960.0,146.9 961.0,147.4 962.0,146.7 963.0,146.4 964.0,145.0 964.9,147.4 965.9,145.3 966.9,146.8 967.9,146.7 968.9,144.9 969.9,144.4 970.9,144.3 971.9,144.4 972.9,144.2 973.9,144.6 974.8,143.8 975.8,142.2 976.8,145.0 977.8,143.4 978.8,143.3 979.8,144.0 980.8,142.8 981.8,142.2 982.8,144.7 983.8,144.0 984.7,141.7 985.7,141.4 986.7,139.7 987.7,141.1 988.7,139.5 989.7,140.6 990.7,141.3 991.7,139.7 992.7,139.8 993.6,139.3 994.6,141.4 995.6,138.6 996.6,138.5 997.6,137.9 998.6,137.4 999.6,136.1 1000.6,137.4 1001.6,137.4 1002.6,136.3 1003.5,135.6 1004.5,135.9 1005.5,136.6 1006.5,136.6 1007.5,136.8 1008.5,136.7 1009.5,135.0 1010.5,135.7 1011.5,134.5 1012.4,135.4 1013.4,133.5 1014.4,134.1 1015.4,132.6 1016.4,132.8 1017.4,133.2 1018.4,134.1 1019.4,134.0 1020.4,133.3 1021.4,132.7 1022.3,133.0 1023.3,131.7 1024.3,131.4 1025.3,131.9 1026.3,130.1 1027.3,131.1 1028.3,132.6 1029.3,131.5 1030.3,131.0 1031.3,131.1 1032.2,130.4 1033.2,131.1 1034.2,130.3 1035.2,129.7 1036.2,129.0 1037.2,129.6 1038.2,129.8 1039.2,129.3 1040.2,128.7 1041.1,129.0 1042.1,128.6 1043.1,129.4 1044.1,126.7 1045.1,128.8 1046.1,125.5 1047.1,127.5 1048.1,126.2 1049.1,127.5 1050.1,126.6 1051.0,126.5 1052.0,126.8 1053.0,127.4 1054.0,126.6 1055.0,127.3 1056.0,124.8 1057.0,126.4 1058.0,124.2 1059.0,125.4 1059.9,126.7 1060.9,123.2 1061.9,123.4 1062.9,124.6 1063.9,124.7 1064.9,124.7 1065.9,122.9 1066.9,124.8 1067.9,124.2 1068.9,122.7 1069.8,121.4 1070.8,123.4 1071.8,123.5 1072.8,123.5 1073.8,121.5 1074.8,123.0 1075.8,122.5 1076.8,121.7 1077.8,121.2 1078.8,120.7 1079.7,122.2 1080.7,121.4 1081.7,121.0 1082.7,120.3 1083.7,119.7 1084.7,120.0 1085.7,121.4 1086.7,120.6 1087.7,121.6 1088.6,119.3 1089.6,120.1 1090.6,120.2 1091.6,119.7 1092.6,120.3 1093.6,118.8 1094.6,118.6 1095.6,118.9 1096.6,119.2 1097.6,122.3 1098.5,119.8 1099.5,118.7 1100.5,118.3 1101.5,121.6 1102.5,118.2 1103.5,117.3 1104.5,118.6 1105.5,118.9 1106.5,117.8 1107.5,118.6 1108.4,118.8 1109.4,119.0 1110.4,116.3 1111.4,117.0 1112.4,117.6 1113.4,117.9 1114.4,116.1 1115.4,116.8 1116.4,116.6 1117.3,116.1 1118.3,116.1 1119.3,115.5 1120.3,114.8 1121.3,116.7 1122.3,116.7 1123.3,115.1 1124.3,116.1 1125.3,115.1 1126.3,113.5 1127.2,114.1 1128.2,113.6 1129.2,113.3 1130.2,113.3 1131.2,113.9 1132.2,112.7 1133.2,114.5 1134.2,114.5 1135.2,113.2 1136.1,114.2 1137.1,113.3 1138.1,113.5 1139.1,112.1 1140.1,112.2 1141.1,111.9 1142.1,113.2 1143.1,114.6 1144.1,111.7 1145.1,110.9 1146.0,113.0 1147.0,113.5 1148.0,114.2 1149.0,111.5 1150.0,113.5 1151.0,112.3 1152.0,111.9 1153.0,112.4 1154.0,112.2 1155.0,112.1 1155.9,110.9 1156.9,110.0 1157.9,109.9 1158.9,112.3 1159.9,112.5 1160.9,111.5 1161.9,110.3 1162.9,109.9 1163.9,112.5 1164.8,110.5 1165.8,109.2 1166.8,109.6 1167.8,109.9 1168.8,111.7 1169.8,108.9 1170.8,109.0 1171.8,110.0 1172.8,110.1 1173.8,108.7 1174.7,107.9 1175.7,109.2 1176.7,110.3 1177.7,108.8 1178.7,109.8 1179.7,109.3 1180.7,109.4 1181.7,110.0 1182.7,107.6 1183.6,109.8 1184.6,107.5 1185.6,109.1 1186.6,108.7 1187.6,108.5 1188.6,108.0 1189.6,109.1 1190.6,106.5 1191.6,107.9 1192.6,106.2 1193.5,106.6 1194.5,107.5 1195.5,108.1 1196.5,106.8 1197.5,106.5 1198.5,107.3 1199.5,106.7 1200.5,105.8 1201.5,105.3 1202.5,106.1 1203.4,106.2 1204.4,106.7 1205.4,107.1 1206.4,104.9 1207.4,105.2 1208.4,105.7 1209.4,104.2 1210.4,104.4 1211.4,106.7 1212.3,107.7 1213.3,105.2 1214.3,105.5 1215.3,104.0 1216.3,105.7 1217.3,104.1 1218.3,103.9 1219.3,105.3 1220.3,102.4 1221.3,104.3 1222.2,103.8 1223.2,104.1 1224.2,104.2 1225.2,104.5 1226.2,104.4 1227.2,103.3 1228.2,105.2 1229.2,104.0 1230.2,103.5 1231.2,103.4 1232.1,103.2 1233.1,101.0 1234.1,102.5 1235.1,102.9 1236.1,103.3 1237.1,101.0 1238.1,100.5 1239.1,102.4 1240.1,103.0 1241.0,103.1 1242.0,101.1 1243.0,101.5 1244.0,101.0 1245.0,102.3 1246.0,101.6 1247.0,101.3 1248.0,100.0 1249.0,101.5 1250.0,103.5 1250.9,101.5 1251.9,99.9 1252.9,98.8 1253.9,102.3 1254.9,100.0 1255.9,99.6 1256.9,100.1 1257.9,100.5 1258.9,99.8 1259.8,100.2 1260.8,98.7 1261.8,100.4 1262.8,98.2 1263.8,99.6 1264.8,100.4 1265.8,98.6 1266.8,99.1 1267.8,98.4 1268.8,98.4 1269.7,99.3 1270.7,99.2 1271.7,96.9 1272.7,99.5 1273.7,98.3 1274.7,97.2 1275.7,97.4 1276.7,96.8 1277.7,98.5 1278.7,96.9 1279.6,96.3 1280.6,98.8 1281.6,97.0 1282.6,97.5 1283.6,97.6 1284.6,96.3 1285.6,96.4 1286.6,95.4 1287.6,96.1 1288.5,98.1 1289.5,97.2 1290.5,95.8 1291.5,95.1 1292.5,96.3 1293.5,95.4 1294.5,96.3 1295.5,94.6 1296.5,95.0 1297.5,94.9 1298.4,97.6 1299.4,95.4 1300.4,94.7 1301.4,95.4 1302.4,95.1 1303.4,93.7 1304.4,94.4 1305.4,93.8 1306.4,95.5 1307.3,93.2 1308.3,95.1 1309.3,95.2 1310.3,93.5 1311.3,93.7 1312.3,94.1 1313.3,92.6 1314.3,93.1 1315.3,91.7 1316.3,92.5 1317.2,91.6 1318.2,93.3 1319.2,92.6 1320.2,89.8 1321.2,91.6 1322.2,92.9 1323.2,92.8 1324.2,92.7 1325.2,91.8 1326.2,94.2 1327.1,92.0 1328.1,92.3 1329.1,93.0 1330.1,91.8 1331.1,94.8 1332.1,91.3 1333.1,92.3 1334.1,91.9 1335.1,93.5 1336.0,92.7 1337.0,92.8 1338.0,92.1 1339.0,94.5 1340.0,91.5 1341.0,93.1 1342.0,91.9 1343.0,93.3 1344.0,93.7 1345.0,93.8 1345.9,92.9 1346.9,93.3 1347.9,94.9 1348.9,95.0 1349.9,94.1 1350.9,95.7 1351.9,94.6 1352.9,95.6 1353.9,94.2 1354.9,94.7 1355.8,94.8 1356.8,95.7 1357.8,94.8 1358.8,96.4 1359.8,95.1 1360.8,97.4 1361.8,96.4 1362.8,96.9 1363.8,95.4 1364.7,96.0 1365.7,96.3 1366.7,97.9 1367.7,97.9 1368.7,99.2 1369.7,99.8 1370.7,98.9 1371.7,101.9 1372.7,101.7 1373.7,102.3 1374.6,103.6 1375.6,103.9 1376.6,107.8 1377.6,107.6 1378.6,108.9 1379.1,110.0"/>
<path stroke="#A5A5A5" stroke-width="3.3" d="M1379.1,110.0L1380.1,120.4V431.5"/>
<path stroke="#FFC000" d="M94.1,495.7 95.1,495.5 96.1,494.6 97.1,494.8 98.1,493.2 99.0,494.5 100.0,493.8 101.0,493.1 102.0,494.3 103.0,491.0 104.0,492.4 105.0,492.0 106.0,491.0 107.0,489.2 108.0,490.1 108.9,487.4 109.9,488.6 110.9,488.4 111.9,487.4 112.9,487.4 113.9,487.9 114.9,487.2 115.9,486.1 116.9,484.2 117.9,485.0 118.8,484.5 119.8,486.9 120.8,485.1 121.8,484.3 122.8,482.1 123.8,481.8 124.8,482.8 125.8,482.2 126.8,482.3 127.7,482.6 128.7,481.6 129.7,481.6 130.7,480.7 131.7,479.9 132.7,480.4 133.7,478.9 134.7,480.4 135.7,479.1 136.7,478.5 137.6,480.1 138.6,477.8 139.6,477.2 140.6,475.9 141.6,476.9 142.6,476.2 143.6,475.9 144.6,477.6 145.6,475.9 146.5,477.1 147.5,475.3 148.5,474.3 149.5,474.2 150.5,476.3 151.5,473.0 152.5,473.3 153.5,472.5 154.5,473.8 155.5,473.7 156.4,471.1 157.4,472.8 158.4,473.0 159.4,472.9 160.4,471.2 161.4,473.2 162.4,472.1 163.4,472.3 164.4,469.0 165.4,469.5 166.3,470.3 167.3,470.0 168.3,470.3 169.3,470.3 170.3,469.8 171.3,467.8 172.3,469.4 173.3,469.6 174.3,469.0 175.2,467.4 176.2,468.1 177.2,469.3 178.2,468.1 179.2,467.7 180.2,468.7 181.2,468.1 182.2,466.6 183.2,467.0 184.2,464.7 185.1,465.2 186.1,465.8 187.1,465.2 188.1,465.6 189.1,465.2 190.1,463.7 191.1,463.9 192.1,465.3 193.1,464.9 194.0,462.7 195.0,463.6 196.0,462.6 197.0,460.7 198.0,461.5 199.0,461.4 200.0,461.2 201.0,459.3 202.0,460.4 203.0,460.6 203.9,459.1 204.9,457.1 205.9,457.5 206.9,456.3 207.9,456.0 208.9,457.7 209.9,456.5 210.9,456.1 211.9,455.6 212.9,454.1 213.8,453.3 214.8,453.5 215.8,452.9 216.8,454.3 217.8,452.6 218.8,453.9 219.8,453.1 220.8,453.5 221.8,451.0 222.7,451.7 223.7,450.2 224.7,451.4 225.7,449.7 226.7,448.5 227.7,448.7 228.7,448.3 229.7,448.0 230.7,447.8 231.7,447.8 232.6,447.8 233.6,445.8 234.6,446.3 235.6,445.8 236.6,445.4 237.6,446.5 238.6,446.3 239.6,446.0 240.6,442.6 241.6,443.8 242.5,442.9 243.5,444.8 244.5,443.5 245.5,442.6 246.5,442.8 247.5,441.1 248.5,442.0 249.5,442.1 250.5,440.5 251.4,439.5 252.4,440.6 253.4,441.2 254.4,441.0 255.4,439.5 256.4,441.3 257.4,441.3 258.4,441.2 259.4,439.1 260.4,439.0 261.3,440.2 262.3,440.0 263.3,439.1 264.3,439.4 265.3,439.6 266.3,438.9 267.3,437.8 268.3,437.9 269.3,436.9 270.2,436.8 271.2,436.5 272.2,435.2 273.2,434.3 274.2,436.2 275.2,433.7 276.2,433.4 277.2,433.4 278.2,430.9 279.2,430.5 280.1,429.4 281.1,429.9 282.1,427.1 283.1,427.3 284.1,427.6 285.1,424.8 286.1,426.5 287.1,423.8 288.1,424.6 289.1,424.6 290.0,424.3 291.0,423.9 292.0,423.4 293.0,421.7 294.0,421.4 295.0,422.3 296.0,420.3 297.0,421.2 298.0,418.9 298.9,419.2 299.9,418.7 300.9,416.7 301.9,419.0 302.9,414.6 303.9,412.7 304.9,413.9 305.9,414.2 306.9,415.2 307.9,413.3 308.8,413.7 309.8,413.4 310.8,413.3 311.8,410.7 312.8,410.4 313.8,412.2 314.8,410.7 315.8,411.1 316.8,408.7 317.7,409.5 318.7,408.2 319.7,406.8 320.7,406.9 321.7,407.4 322.7,405.8 323.7,406.0 324.7,402.8 325.7,402.1 326.7,404.3 327.6,403.3 328.6,399.2 329.6,399.4 330.6,399.7 331.6,398.1 332.6,397.8 333.6,396.6 334.6,397.3 335.6,394.7 336.6,395.1 337.5,395.9 338.5,394.3 339.5,393.7 340.5,392.3 341.5,391.6 342.5,390.9 343.5,391.2 344.5,389.7 345.5,389.5 346.4,386.8 347.4,388.7 348.4,387.5 349.4,387.0 350.4,386.7 351.4,384.6 352.4,383.9 353.4,383.4 354.4,381.4 355.4,382.6 356.3,381.3 357.3,380.8 358.3,380.1 359.3,381.0 360.3,380.3 361.3,377.7 362.3,378.6 363.3,376.0 364.3,374.6 365.3,375.9 366.2,374.6 367.2,374.0 368.2,372.0 369.2,370.6 370.2,370.7 371.2,370.0 372.2,369.0 373.2,370.5 374.2,369.2 375.1,367.4 376.1,367.9 377.1,365.2 378.1,366.8 379.1,365.4 380.1,364.4 381.1,363.1 382.1,364.0 383.1,362.8 384.1,361.3 385.0,360.8 386.0,359.6 387.0,360.2 388.0,360.1 389.0,361.2 390.0,359.3 391.0,357.6 392.0,357.8 393.0,356.2 393.9,354.0 394.9,354.2 395.9,352.3 396.9,351.6 397.9,351.5 398.9,350.2 399.9,348.9 400.9,350.4 401.9,347.1 402.9,349.3 403.8,347.0 404.8,346.9 405.8,346.3 406.8,345.0 407.8,345.0 408.8,344.3 409.8,343.5 410.8,343.5 411.8,341.7 412.8,342.2 413.7,340.2 414.7,341.1 415.7,339.4 416.7,339.3 417.7,336.7 418.7,338.2 419.7,335.9 420.7,336.6 421.7,337.2 422.6,333.8 423.6,333.3 424.6,331.9 425.6,333.2 426.6,331.8 427.6,330.4 428.6,331.0 429.6,327.8 430.6,329.9 431.6,328.4 432.5,329.4 433.5,328.9 434.5,327.9 435.5,327.0 436.5,326.1 437.5,325.1 438.5,326.9 439.5,324.5 440.5,324.4 441.4,325.1 442.4,323.6 443.4,321.5 444.4,320.8 445.4,322.3 446.4,321.0 447.4,319.9 448.4,317.3 449.4,318.0 450.4,318.1 451.3,316.8 452.3,318.4 453.3,315.6 454.3,313.8 455.3,313.5 456.3,314.9 457.3,310.4 458.3,310.7 459.3,311.0 460.3,310.5 461.2,308.8 462.2,309.0 463.2,308.4 464.2,306.9 465.2,307.7 466.2,305.3 467.2,306.0 468.2,304.1 469.2,302.6 470.1,302.1 471.1,301.1 472.1,301.5 473.1,301.4 474.1,299.0 475.1,299.0 476.1,299.1 477.1,298.4 478.1,298.1 479.1,296.0 480.0,295.5 481.0,294.0 482.0,295.8 483.0,294.4 484.0,293.9 485.0,295.0 486.0,293.0 487.0,291.5 488.0,292.4 489.0,292.5 489.9,288.8 490.9,291.3 491.9,288.6 492.9,288.8 493.9,288.3 494.9,289.0 495.9,289.2 496.9,286.6 497.9,285.5 498.8,287.5 499.8,285.4 500.8,286.1 501.8,285.3 502.8,285.9 503.8,286.1 504.8,286.8 505.8,286.7 506.8,285.1 507.8,284.8 508.7,285.2 509.7,285.3 510.7,284.4 511.7,282.9 512.7,281.9 513.7,281.3 514.7,281.8 515.7,280.9 516.7,281.9 517.6,278.9 518.6,279.5 519.6,280.1 520.6,279.8 521.6,279.3 522.6,277.9 523.6,275.9 524.6,276.6 525.6,274.6 526.6,274.4 527.5,275.6 528.5,274.8 529.5,274.2 530.5,273.1 531.5,270.3 532.5,268.9 533.5,270.3 534.5,270.1 535.5,270.5 536.5,268.4 537.4,269.6 538.4,269.2 539.4,268.2 540.4,267.1 541.4,267.0 542.4,269.4 543.4,267.0 544.4,267.3 545.4,266.3 546.3,265.1 547.3,267.6 548.3,265.9 549.3,264.6 550.3,266.6 551.3,263.8 552.3,263.7 553.3,264.1 554.3,264.8 555.3,263.4 556.2,262.6 557.2,263.8 558.2,263.6 559.2,263.7 560.2,262.3 561.2,261.7 562.2,260.7 563.2,260.8 564.2,261.0 565.1,260.3 566.1,260.6 567.1,258.7 568.1,260.0 569.1,259.7 570.1,258.3 571.1,259.4 572.1,257.0 573.1,255.4 574.1,255.4 575.0,254.8 576.0,254.6 577.0,254.9 578.0,254.7 579.0,255.2 580.0,253.5 581.0,252.5 582.0,251.1 583.0,252.7 584.0,251.9 584.9,251.3 585.9,251.6 586.9,251.7 587.9,251.4 588.9,251.0 589.9,248.9 590.9,251.5 591.9,251.1 592.9,251.0 593.8,249.2 594.8,248.4 595.8,249.6 596.8,247.8 597.8,249.2 598.8,246.5 599.8,247.2 600.8,246.4 601.8,248.2 602.8,246.2 603.7,246.4 604.7,247.0 605.7,247.7 606.7,245.3 607.7,244.9 608.7,245.5 609.7,244.1 610.7,243.6 611.7,243.2 612.7,244.9 613.6,243.3 614.6,243.4 615.6,244.1 616.6,243.1 617.6,243.5 618.6,241.9 619.6,242.6 620.6,241.7 621.6,240.9 622.5,239.6 623.5,240.4 624.5,242.2 625.5,239.4 626.5,240.0 627.5,238.9 628.5,239.6 629.5,239.8 630.5,240.6 631.5,238.9 632.4,237.7 633.4,238.6 634.4,238.6 635.4,238.5 636.4,237.7 637.4,237.1 638.4,236.1 639.4,237.0 640.4,236.1 641.3,236.8 642.3,235.0 643.3,235.1 644.3,236.4 645.3,236.1 646.3,235.1 647.3,233.3 648.3,233.8 649.3,232.2 650.3,232.8 651.2,233.7 652.2,233.6 653.2,230.9 654.2,232.5 655.2,232.6 656.2,232.3 657.2,232.4 658.2,230.1 659.2,229.3 660.2,231.0 661.1,228.3 662.1,228.3 663.1,229.0 664.1,230.0 665.1,228.7 666.1,228.4 667.1,226.9 668.1,227.4 669.1,225.9 670.0,223.9 671.0,226.4 672.0,226.4 673.0,224.3 674.0,223.0 675.0,226.2 676.0,225.1 677.0,225.8 678.0,223.7 679.0,223.2 679.9,223.7 680.9,222.6 681.9,221.1 682.9,224.8 683.9,223.8 684.9,222.6 685.9,221.6 686.9,220.8 687.9,220.7 688.8,218.8 689.8,219.9 690.8,220.6 691.8,220.4 692.8,221.3 693.8,219.3 694.8,218.0 695.8,219.4 696.8,217.4 697.8,219.1 698.7,217.0 699.7,217.4 700.7,215.4 701.7,216.3 702.7,216.1 703.7,216.6 704.7,217.1 705.7,216.5 706.7,216.5 707.7,216.9 708.6,213.9 709.6,213.4 710.6,213.6 711.6,213.4 712.6,215.0 713.6,216.5 714.6,213.3 715.6,212.8 716.6,212.4 717.5,211.7 718.5,211.6 719.5,212.6 720.5,211.1 721.5,210.8 722.5,209.3 723.5,209.8 724.5,210.0 725.5,209.8 726.5,210.3 727.4,209.8 728.4,208.2 729.4,210.4 730.4,209.3 731.4,207.2 732.4,208.0 733.4,209.0 734.4,206.9 735.4,206.2 736.4,206.0 737.3,205.8 738.3,207.0 739.3,203.0 740.3,205.4 741.3,205.4 742.3,203.9 743.3,203.6 744.3,203.8 745.3,203.5 746.2,202.6 747.2,202.4 748.2,203.2 749.2,202.2 750.2,201.6 751.2,201.2 752.2,201.2 753.2,202.0 754.2,200.4 755.2,199.9 756.1,199.9 757.1,201.5 758.1,199.6 759.1,197.9 760.1,198.4 761.1,199.0 762.1,198.3 763.1,198.2 764.1,198.2 765.0,197.3 766.0,197.0 767.0,197.6 768.0,195.0 769.0,195.2 770.0,197.7 771.0,196.3 772.0,195.8 773.0,197.8 774.0,196.5 774.9,193.8 775.9,194.3 776.9,193.6 777.9,193.5 778.9,193.5 779.9,193.7 780.9,194.2 781.9,194.6 782.9,193.6 783.9,191.3 784.8,190.9 785.8,190.2 786.8,191.4 787.8,191.9 788.8,189.6 789.8,189.5 790.8,189.8 791.8,189.9 792.8,190.4 793.7,188.6 794.7,191.1 795.7,189.9 796.7,188.6 797.7,188.9 798.7,187.2 799.7,188.0 800.7,189.0 801.7,189.3 802.7,190.5 803.6,187.3 804.6,187.7 805.6,187.1 806.6,188.7 807.6,188.6 808.6,186.9 809.6,187.5 810.6,187.0 811.6,185.3 812.5,186.0 813.5,186.0 814.5,186.0 815.5,186.6 816.5,185.7 817.5,185.7 818.5,183.3 819.5,184.3 820.5,186.6 821.5,185.5 822.4,185.7 823.4,183.5 824.4,184.4 825.4,185.4 826.4,184.3 827.4,182.6 828.4,182.3 829.4,182.9 830.4,182.6 831.4,183.9 832.3,183.0 833.3,182.6 834.3,183.1 835.3,181.7 836.3,182.8 837.3,180.7 838.3,181.7 839.3,181.9 840.3,182.0 841.2,181.0 842.2,180.0 843.2,179.8 844.2,180.5 845.2,179.4 846.2,180.2 847.2,179.1 848.2,178.0 849.2,177.8 850.2,178.3 851.1,178.1 852.1,176.8 853.1,176.6 854.1,178.2 855.1,177.4 856.1,176.2 857.1,175.3 858.1,175.0 859.1,173.3 860.1,175.2 861.0,172.8 862.0,174.0 863.0,173.0 864.0,173.3 865.0,172.3 866.0,173.4 867.0,170.3 868.0,171.5 869.0,171.0 869.9,172.9 870.9,170.8 871.9,170.8 872.9,168.9 873.9,168.7 874.9,169.3 875.9,169.8 876.9,166.7 877.9,167.5 878.9,166.0 879.8,165.3 880.8,164.7 881.8,167.0 882.8,167.1 883.8,165.9 884.8,165.7 885.8,164.0 886.8,163.8 887.8,163.2 888.7,163.5 889.7,163.1 890.7,162.7 891.7,162.7 892.7,163.4 893.7,161.4 894.7,162.2 895.7,163.2 896.7,163.4 897.7,160.9 898.6,161.2 899.6,161.1 900.6,161.8 901.6,160.4 902.6,159.2 903.6,159.4 904.6,160.7 905.6,159.8 906.6,159.2 907.6,160.0 908.5,160.2 909.5,160.0 910.5,157.0 911.5,157.0 912.5,158.1 913.5,157.5 914.5,156.3 915.5,156.0 916.5,156.2 917.4,157.6 918.4,157.7 919.4,156.7 920.4,155.6 921.4,155.4 922.4,155.9 923.4,156.3 924.4,154.1 925.4,156.0 926.4,155.2 927.3,154.9 928.3,154.4 929.3,153.4 930.3,156.2 931.3,157.3 932.3,154.3 933.3,153.1 934.3,152.9 935.3,152.7 936.2,153.2 937.2,153.2 938.2,150.8 939.2,152.8 940.2,151.3 941.2,152.3 942.2,152.1 943.2,153.0 944.2,152.1 945.2,152.3 946.1,153.1 947.1,152.3 948.1,152.9 949.1,150.3 950.1,151.4 951.1,150.8 952.1,148.5 953.1,148.8 954.1,149.8 955.1,148.5 956.0,148.6 957.0,148.1 958.0,149.2 959.0,147.6 960.0,147.6 961.0,148.0 962.0,148.5 963.0,147.7 964.0,147.6 964.9,146.6 965.9,146.1 966.9,146.5 967.9,144.4 968.9,144.4 969.9,146.4 970.9,143.8 971.9,145.4 972.9,146.1 973.9,144.3 974.8,142.8 975.8,142.0 976.8,143.7 977.8,142.7 978.8,142.4 979.8,140.9 980.8,140.6 981.8,140.8 982.8,140.8 983.8,140.8 984.7,140.8 985.7,140.8 986.7,141.2 987.7,139.2 988.7,140.1 989.7,139.9 990.7,140.0 991.7,139.3 992.7,140.0 993.6,139.2 994.6,139.4 995.6,137.7 996.6,140.3 997.6,137.7 998.6,138.1 999.6,139.4 1000.6,137.8 1001.6,138.2 1002.6,137.4 1003.5,137.9 1004.5,137.5 1005.5,137.4 1006.5,137.5 1007.5,137.6 1008.5,136.4 1009.5,136.1 1010.5,136.1 1011.5,137.0 1012.4,136.7 1013.4,136.7 1014.4,136.3 1015.4,136.3 1016.4,135.5 1017.4,136.3 1018.4,135.2 1019.4,136.6 1020.4,135.9 1021.4,135.9 1022.3,135.7 1023.3,134.4 1024.3,136.1 1025.3,135.1 1026.3,134.6 1027.3,133.7 1028.3,134.7 1029.3,134.9 1030.3,134.4 1031.3,133.8 1032.2,133.4 1033.2,131.9 1034.2,131.6 1035.2,132.3 1036.2,132.7 1037.2,132.1 1038.2,132.1 1039.2,132.7 1040.2,132.9 1041.1,130.6 1042.1,131.3 1043.1,132.5 1044.1,130.6 1045.1,132.1 1046.1,131.5 1047.1,130.8 1048.1,130.8 1049.1,130.8 1050.1,130.8 1051.0,130.6 1052.0,130.9 1053.0,129.4 1054.0,128.2 1055.0,129.6 1056.0,128.4 1057.0,127.7 1058.0,129.3 1059.0,127.5 1059.9,127.2 1060.9,127.8 1061.9,128.1 1062.9,126.7 1063.9,126.5 1064.9,127.3 1065.9,128.9 1066.9,125.5 1067.9,128.7 1068.9,126.6 1069.8,128.6 1070.8,127.0 1071.8,126.8 1072.8,126.1 1073.8,125.5 1074.8,125.0 1075.8,126.5 1076.8,125.0 1077.8,125.0 1078.8,126.3 1079.7,125.3 1080.7,125.8 1081.7,124.8 1082.7,126.0 1083.7,125.0 1084.7,123.8 1085.7,125.4 1086.7,124.9 1087.7,123.3 1088.6,122.4 1089.6,126.0 1090.6,125.9 1091.6,127.4 1092.6,127.0 1093.6,123.8 1094.6,125.3 1095.6,125.6 1096.6,125.5 1097.6,124.2 1098.5,126.1 1099.5,125.9 1100.5,125.4 1101.5,125.9 1102.5,124.9 1103.5,123.6 1104.5,125.4 1105.5,124.9 1106.5,123.5 1107.5,124.6 1108.4,126.1 1109.4,124.8 1110.4,124.7 1111.4,123.8 1112.4,125.4 1113.4,124.6 1114.4,124.2 1115.4,126.9 1116.4,125.6 1117.3,123.4 1118.3,125.7 1119.3,124.0 1120.3,125.2 1121.3,126.5 1122.3,127.8 1123.3,126.4 1124.3,126.8 1125.3,124.1 1126.3,127.4 1127.2,124.9 1128.2,125.9 1129.2,124.9 1130.2,127.3 1131.2,126.2 1132.2,127.2 1133.2,125.7 1134.2,125.2 1135.2,126.1 1136.1,126.6 1137.1,126.1 1138.1,126.5 1139.1,128.0 1140.1,130.1 1141.1,128.9 1142.1,130.5 1143.1,129.6 1144.1,126.2 1145.1,126.6 1146.0,128.8 1147.0,128.6 1148.0,127.8 1149.0,129.2 1150.0,130.2 1151.0,129.8 1152.0,129.4"/>
<path stroke="#FFC000" stroke-width="3.3" d="M1152.0,129.4L1154.0,139.8V346.6"/>
<path stroke="#5B9BD5" d="M94.1,492.9 95.1,492.4 96.1,492.2 97.1,491.6 98.1,491.0 99.0,490.4 100.0,487.8 101.0,489.4 102.0,489.3 103.0,489.0 104.0,487.1 105.0,488.0 106.0,487.6 107.0,486.3 108.0,485.9 108.9,487.1 109.9,484.1 110.9,484.8 111.9,484.1 112.9,484.3 113.9,482.8 114.9,484.2 115.9,484.2 116.9,483.0 117.9,481.5 118.8,482.3 119.8,481.2 120.8,480.0 121.8,482.3 122.8,479.7 123.8,479.2 124.8,480.2 125.8,479.6 126.8,479.5 127.7,477.9 128.7,478.6 129.7,477.2 130.7,476.1 131.7,478.7 132.7,476.6 133.7,476.5 134.7,476.6 135.7,475.6 136.7,475.6 137.6,476.7 138.6,475.5 139.6,474.5 140.6,474.7 141.6,474.7 142.6,470.6 143.6,470.6 144.6,470.6 145.6,471.2 146.5,473.0 147.5,471.3 148.5,470.0 149.5,470.6 150.5,470.6 151.5,469.4 152.5,467.2 153.5,468.3 154.5,468.3 155.5,468.8 156.4,466.4 157.4,466.8 158.4,467.1 159.4,467.1 160.4,467.1 161.4,465.9 162.4,463.9 163.4,465.1 164.4,464.8 165.4,465.8 166.3,464.5 167.3,466.0 168.3,463.2 169.3,464.3 170.3,463.1 171.3,463.1 172.3,461.6 173.3,461.9 174.3,461.8 175.2,463.5 176.2,463.2 177.2,463.0 178.2,462.5 179.2,462.0 180.2,460.0 181.2,460.3 182.2,460.1 183.2,460.9 184.2,461.0 185.1,461.0 186.1,458.3 187.1,458.6 188.1,457.6 189.1,457.8 190.1,458.7 191.1,457.6 192.1,459.3 193.1,456.6 194.0,456.6 195.0,456.2 196.0,455.9 197.0,455.0 198.0,455.4 199.0,454.9 200.0,455.1 201.0,454.4 202.0,453.4 203.0,452.2 203.9,453.1 204.9,453.8 205.9,453.7 206.9,451.9 207.9,451.9 208.9,450.4 209.9,448.9 210.9,450.5 211.9,448.3 212.9,447.8 213.8,449.7 214.8,449.1 215.8,447.3 216.8,448.4 217.8,448.3 218.8,446.2 219.8,446.7 220.8,446.4 221.8,444.6 222.7,444.4 223.7,443.8 224.7,442.2 225.7,441.8 226.7,444.3 227.7,441.9 228.7,442.0 229.7,441.7 230.7,440.7 231.7,439.5 232.6,439.9 233.6,440.6 234.6,439.5 235.6,440.9 236.6,438.9 237.6,438.5 238.6,439.4 239.6,439.6 240.6,439.3 241.6,438.3 242.5,436.9 243.5,437.2 244.5,437.5 245.5,436.7 246.5,435.1 247.5,436.1 248.5,436.6 249.5,433.4 250.5,435.6 251.4,434.4 252.4,433.8 253.4,434.4 254.4,434.5 255.4,432.6 256.4,433.3 257.4,432.8 258.4,433.0 259.4,431.3 260.4,433.5 261.3,433.8 262.3,433.1 263.3,431.9 264.3,431.6 265.3,430.9 266.3,431.2 267.3,429.8 268.3,431.0 269.3,430.6 270.2,429.2 271.2,429.0 272.2,428.6 273.2,427.8 274.2,427.2 275.2,425.6 276.2,424.5 277.2,423.3 278.2,423.6 279.2,424.1 280.1,423.9 281.1,423.3 282.1,423.3 283.1,420.5 284.1,418.6 285.1,419.5 286.1,418.8 287.1,420.6 288.1,418.4 289.1,417.8 290.0,416.4 291.0,416.7 292.0,416.1 293.0,415.8 294.0,415.0 295.0,412.1 296.0,412.7 297.0,414.3 298.0,413.1 298.9,412.5 299.9,409.7 300.9,412.6 301.9,410.4 302.9,409.5 303.9,407.8 304.9,407.8 305.9,409.1 306.9,410.5 307.9,409.9 308.8,409.1 309.8,408.0 310.8,407.9 311.8,408.3 312.8,405.8 313.8,405.7 314.8,405.5 315.8,405.3 316.8,405.0 317.7,404.8 318.7,400.9 319.7,402.6 320.7,402.5 321.7,400.0 322.7,401.0 323.7,399.8 324.7,400.3 325.7,399.3 326.7,400.0 327.6,397.3 328.6,394.7 329.6,395.4 330.6,394.9 331.6,393.4 332.6,392.6 333.6,393.9 334.6,393.5 335.6,392.3 336.6,390.0 337.5,391.3 338.5,390.4 339.5,389.3 340.5,388.5 341.5,387.8 342.5,387.6 343.5,385.7 344.5,386.8 345.5,383.9 346.4,384.7 347.4,383.8 348.4,384.9 349.4,383.0 350.4,383.7 351.4,383.6 352.4,380.9 353.4,380.7 354.4,381.1 355.4,381.6 356.3,378.4 357.3,378.3 358.3,377.1 359.3,376.3 360.3,375.5 361.3,378.2 362.3,379.0 363.3,374.8 364.3,376.2 365.3,373.1 366.2,372.6 367.2,372.3 368.2,371.6 369.2,372.3 370.2,370.1 371.2,369.2 372.2,368.0 373.2,365.5 374.2,366.8 375.1,365.3 376.1,363.3 377.1,364.6 378.1,364.5 379.1,363.6 380.1,363.3 381.1,363.0 382.1,359.9 383.1,358.0 384.1,358.0 385.0,358.5 386.0,357.9 387.0,356.4 388.0,356.4 389.0,355.2 390.0,354.9 391.0,352.9 392.0,352.3 393.0,352.1 393.9,352.6 394.9,351.7 395.9,349.7 396.9,348.0 397.9,349.4 398.9,345.9 399.9,347.6 400.9,347.6 401.9,346.2 402.9,346.3 403.8,345.3 404.8,344.4 405.8,344.4 406.8,343.6 407.8,342.5 408.8,341.0 409.8,339.5 410.8,340.9 411.8,342.1 412.8,340.7 413.7,341.1 414.7,338.9 415.7,338.6 416.7,337.0 417.7,336.6 418.7,335.6 419.7,335.4 420.7,333.1 421.7,335.5 422.6,332.5 423.6,331.2 424.6,330.8 425.6,330.7 426.6,329.7 427.6,330.1 428.6,330.4 429.6,328.1 430.6,327.1 431.6,326.3 432.5,326.6 433.5,324.8 434.5,324.4 435.5,322.5 436.5,323.6 437.5,325.1 438.5,323.8 439.5,321.2 440.5,322.1 441.4,319.5 442.4,320.0 443.4,318.4 444.4,317.2 445.4,317.6 446.4,315.6 447.4,314.1 448.4,314.9 449.4,314.0 450.4,313.6 451.3,311.6 452.3,310.2 453.3,310.8 454.3,310.0 455.3,308.0 456.3,307.9 457.3,305.6 458.3,306.5 459.3,306.7 460.3,306.5 461.2,305.2 462.2,305.5 463.2,302.8 464.2,300.3 465.2,302.6 466.2,302.0 467.2,301.0 468.2,299.2 469.2,299.0 470.1,296.3 471.1,295.1 472.1,296.1 473.1,295.1 474.1,294.7 475.1,292.6 476.1,290.4 477.1,292.1 478.1,291.1 479.1,291.0 480.0,288.7 481.0,287.8 482.0,288.1 483.0,287.1 484.0,284.0 485.0,283.1 486.0,285.0 487.0,283.9 488.0,283.4 489.0,281.9 489.9,282.7 490.9,280.5 491.9,279.2 492.9,278.2 493.9,280.0 494.9,276.4 495.9,277.9 496.9,278.0 497.9,274.7 498.8,274.0 499.8,274.3 500.8,272.9 501.8,272.3 502.8,272.2 503.8,273.0 504.8,271.8 505.8,270.7 506.8,268.9 507.8,267.9 508.7,268.7 509.7,268.8 510.7,268.4 511.7,266.1 512.7,266.6 513.7,263.4 514.7,264.2 515.7,263.8 516.7,262.6 517.6,262.5 518.6,262.7 519.6,261.4 520.6,260.4 521.6,260.7 522.6,259.9 523.6,259.1 524.6,260.3 525.6,259.1 526.6,257.7 527.5,257.9 528.5,255.8 529.5,254.9 530.5,256.8 531.5,255.0 532.5,253.1 533.5,253.3 534.5,252.2 535.5,251.6 536.5,253.0 537.4,251.0 538.4,251.2 539.4,252.2 540.4,249.3 541.4,249.7 542.4,248.9 543.4,247.7 544.4,246.8 545.4,247.6 546.3,247.9 547.3,247.2 548.3,245.0 549.3,245.7 550.3,243.5 551.3,242.6 552.3,244.3 553.3,241.7 554.3,243.1 555.3,242.4 556.2,241.9 557.2,242.4 558.2,240.9 559.2,239.7 560.2,237.4 561.2,237.5 562.2,239.1 563.2,238.2 564.2,236.9 565.1,237.5 566.1,237.8 567.1,236.7 568.1,237.2 569.1,235.7 570.1,235.5 571.1,233.3 572.1,234.1 573.1,234.8 574.1,232.4 575.0,232.7 576.0,232.8 577.0,231.3 578.0,231.9 579.0,232.3 580.0,231.4 581.0,228.5 582.0,227.4 583.0,228.6 584.0,227.3 584.9,228.7 585.9,226.0 586.9,226.1 587.9,225.1 588.9,225.3 589.9,224.5 590.9,225.3 591.9,223.2 592.9,223.5 593.8,222.4 594.8,220.5 595.8,224.0 596.8,220.8 597.8,220.5 598.8,220.2 599.8,219.0 600.8,220.1 601.8,221.3 602.8,219.9 603.7,219.1 604.7,220.7 605.7,217.5 606.7,216.6 607.7,217.6 608.7,216.2 609.7,215.8 610.7,215.6 611.7,215.1 612.7,213.5 613.6,213.6 614.6,211.5 615.6,212.6 616.6,211.3 617.6,210.5 618.6,213.1 619.6,211.4 620.6,210.6 621.6,210.0 622.5,209.7 623.5,208.5 624.5,208.3 625.5,209.1 626.5,207.5 627.5,208.5 628.5,207.7 629.5,208.0 630.5,208.3 631.5,208.1 632.4,205.2 633.4,205.2 634.4,206.2 635.4,204.9 636.4,205.8 637.4,205.6 638.4,206.3 639.4,204.6 640.4,202.9 641.3,200.6 642.3,202.9 643.3,202.2 644.3,201.7 645.3,200.9 646.3,202.0 647.3,202.5 648.3,200.3 649.3,201.8 650.3,200.0 651.2,200.4 652.2,199.5 653.2,198.7 654.2,200.4 655.2,196.6 656.2,199.1 657.2,198.9 658.2,197.1 659.2,200.3 660.2,198.3 661.1,196.6 662.1,196.6 663.1,196.0 664.1,195.9 665.1,195.8 666.1,195.5 667.1,192.7 668.1,193.4 669.1,194.9 670.0,194.1 671.0,192.6 672.0,191.6 673.0,194.0 674.0,193.2 675.0,195.1 676.0,193.3 677.0,190.7 678.0,191.2 679.0,192.0 679.9,192.7 680.9,191.3 681.9,190.5 682.9,189.8 683.9,188.8 684.9,189.0 685.9,190.8 686.9,189.7 687.9,189.1 688.8,189.4 689.8,186.7 690.8,188.5 691.8,186.9 692.8,186.6 693.8,186.3 694.8,186.3 695.8,186.5 696.8,185.3 697.8,184.0 698.7,185.3 699.7,182.8 700.7,184.1 701.7,182.6 702.7,183.3 703.7,181.1 704.7,180.6 705.7,180.2 706.7,179.5 707.7,181.3 708.6,184.2 709.6,182.9 710.6,182.3 711.6,179.9 712.6,179.1 713.6,180.9 714.6,179.2 715.6,179.8 716.6,179.6 717.5,178.5 718.5,179.6 719.5,177.4 720.5,177.1 721.5,175.6 722.5,175.9 723.5,176.3 724.5,175.3 725.5,176.2 726.5,175.7 727.4,176.7 728.4,176.2 729.4,175.2 730.4,173.9 731.4,172.9 732.4,172.6 733.4,174.3 734.4,174.0 735.4,174.6 736.4,175.0 737.3,172.6 738.3,174.3 739.3,172.1 740.3,172.9 741.3,172.5 742.3,171.1 743.3,172.4 744.3,171.0 745.3,172.1 746.2,171.2 747.2,171.1 748.2,170.5 749.2,171.6 750.2,170.5 751.2,169.7 752.2,170.5 753.2,169.2 754.2,168.9 755.2,169.0 756.1,169.1 757.1,168.3 758.1,168.9 759.1,167.8 760.1,167.7 761.1,166.4 762.1,167.4 763.1,168.1 764.1,166.6 765.0,166.7 766.0,164.9 767.0,166.8 768.0,166.3 769.0,165.9 770.0,165.6 771.0,164.8 772.0,162.3 773.0,164.3 774.0,162.9 774.9,164.6 775.9,164.6 776.9,164.2 777.9,161.9 778.9,162.7 779.9,162.6 780.9,163.3 781.9,162.8 782.9,160.0 783.9,162.7 784.8,163.8 785.8,162.0 786.8,162.3 787.8,162.7 788.8,163.4 789.8,160.7 790.8,160.3 791.8,160.4 792.8,159.0 793.7,158.1 794.7,158.7 795.7,158.0 796.7,159.9 797.7,158.4 798.7,159.4 799.7,158.6 800.7,156.8 801.7,157.8 802.7,156.1 803.6,156.5 804.6,156.8 805.6,158.6 806.6,157.4 807.6,156.8 808.6,156.0 809.6,156.5 810.6,157.9 811.6,155.6 812.5,157.6 813.5,157.0 814.5,158.1 815.5,156.3 816.5,155.0 817.5,154.7 818.5,156.2 819.5,154.7 820.5,154.1 821.5,153.6 822.4,153.2 823.4,153.4 824.4,152.0 825.4,154.4 826.4,152.8 827.4,152.9 828.4,154.1 829.4,152.8 830.4,152.9 831.4,153.3 832.3,151.7 833.3,151.9 834.3,150.8 835.3,151.9 836.3,150.2 837.3,150.7 838.3,150.7 839.3,150.1 840.3,148.9 841.2,150.6 842.2,150.4 843.2,150.4 844.2,150.1 845.2,152.0 846.2,148.8 847.2,148.0 848.2,147.9 849.2,149.3 850.2,151.1 851.1,150.6 852.1,149.2 853.1,149.4 854.1,150.4 855.1,149.5 856.1,150.1 857.1,150.0 858.1,148.3 859.1,148.9 860.1,149.2 861.0,148.6 862.0,148.2 863.0,147.0 864.0,146.3 865.0,146.1 866.0,147.2 867.0,147.4 868.0,144.9 869.0,146.2 869.9,147.0 870.9,145.5 871.9,147.2 872.9,144.8 873.9,144.2 874.9,144.8 875.9,148.5 876.9,145.8 877.9,145.0 878.9,145.2 879.8,142.9 880.8,145.7 881.8,146.1 882.8,144.5 883.8,145.2 884.8,144.0 885.8,144.6 886.8,145.1 887.8,145.6 888.7,144.6 889.7,144.8 890.7,143.4 891.7,143.4 892.7,145.7 893.7,143.1 894.7,143.9 895.7,144.7 896.7,141.4 897.7,142.8 898.6,142.8 899.6,142.3 900.6,143.6 901.6,142.4 902.6,142.0 903.6,142.7 904.6,141.8 905.6,141.1 906.6,141.1 907.6,143.1 908.5,141.8 909.5,140.7 910.5,139.3 911.5,139.8 912.5,139.9 913.5,141.4 914.5,139.7 915.5,137.5 916.5,139.5 917.4,139.8 918.4,139.2 919.4,138.3 920.4,139.1 921.4,138.7 922.4,139.6 923.4,138.9 924.4,138.2 925.4,138.4 926.4,138.8 927.3,136.0 928.3,137.1 929.3,136.4 930.3,138.3 931.3,137.3 932.3,137.1 933.3,134.8 934.3,135.4 935.3,136.1 936.2,135.4 937.2,135.5 938.2,134.9 939.2,136.7 940.2,137.5 941.2,135.5 942.2,134.7 943.2,134.5 944.2,133.1 945.2,134.2 946.1,133.9 947.1,134.4 948.1,135.7 949.1,135.0 950.1,134.2 951.1,133.4 952.1,131.5 953.1,132.3 954.1,133.0 955.1,134.5 956.0,132.2 957.0,132.8 958.0,134.9 959.0,132.5 960.0,132.2 961.0,131.7 962.0,131.5 963.0,132.5 964.0,131.9 964.9,132.5 965.9,131.6 966.9,130.9 967.9,130.4 968.9,131.5 969.9,129.3 970.9,130.7 971.9,132.8 972.9,129.6 973.9,129.3 974.8,128.7 975.8,129.8 976.8,130.0 977.8,130.4 978.8,129.1 979.8,128.7 980.8,128.5 981.8,128.1 982.8,129.5 983.8,128.7 984.7,127.9 985.7,128.7 986.7,126.6 987.7,129.9 988.7,127.6 989.7,127.5 990.7,127.2 991.7,127.1 992.7,127.3 993.6,126.7 994.6,126.8 995.6,127.8 996.6,126.0 997.6,125.7 998.6,127.2 999.6,125.6 1000.6,125.8 1001.6,125.3 1002.6,125.6 1003.5,126.5 1004.5,125.5 1005.5,127.1 1006.5,123.9 1007.5,125.6 1008.5,125.6 1009.5,124.0 1010.5,124.3 1011.5,123.6 1012.4,122.5 1013.4,123.4 1014.4,124.3 1015.4,125.0 1016.4,124.2 1017.4,124.7 1018.4,123.5 1019.4,126.3 1020.4,124.7 1021.4,124.2 1022.3,124.5 1023.3,122.8 1024.3,122.3 1025.3,124.9 1026.3,121.9 1027.3,122.9 1028.3,122.4 1029.3,121.9 1030.3,122.5 1031.3,121.8 1032.2,121.2 1033.2,122.1 1034.2,121.3 1035.2,120.7 1036.2,121.6 1037.2,121.7 1038.2,121.8 1039.2,121.9 1040.2,121.6 1041.1,122.5 1042.1,121.5 1043.1,122.0 1044.1,120.7 1045.1,119.1 1046.1,119.5 1047.1,120.9 1048.1,120.1 1049.1,120.4 1050.1,121.0 1051.0,119.7 1052.0,118.9 1053.0,119.1 1054.0,119.7 1055.0,120.5 1056.0,119.9 1057.0,118.8 1058.0,118.9 1059.0,118.3 1059.9,119.4 1060.9,121.8 1061.9,118.5 1062.9,118.2 1063.9,117.2 1064.9,117.1 1065.9,117.7 1066.9,119.0 1067.9,120.0 1068.9,119.8 1069.8,119.9 1070.8,120.4 1071.8,119.6 1072.8,118.0 1073.8,119.4 1074.8,118.7 1075.8,118.1 1076.8,119.4 1077.8,119.0 1078.8,119.3 1079.7,120.4 1080.7,118.6 1081.7,118.1 1082.7,118.0 1083.7,118.9 1084.7,120.0 1085.7,118.0 1086.7,120.8 1087.7,118.8 1088.6,119.1 1089.6,120.0 1090.6,117.9 1091.6,117.1 1092.6,118.7 1093.6,119.0 1094.6,118.3 1095.6,118.3 1096.6,116.2 1097.6,118.8 1098.5,119.2 1099.5,118.0 1100.5,118.6 1101.5,118.7 1102.5,118.7 1103.5,117.9 1104.5,116.5 1105.5,118.4 1106.5,116.9 1107.5,118.6 1108.4,119.0 1109.4,117.2 1110.4,117.4 1111.4,117.0 1112.4,117.0 1113.4,118.3 1114.4,118.8 1115.4,117.5 1116.4,118.6 1117.3,118.2 1118.3,116.3 1119.3,118.9 1120.3,119.0 1121.3,117.2 1122.3,116.5 1123.3,117.6 1124.3,117.2 1125.3,117.8 1126.3,117.8 1127.2,117.2 1128.2,116.4 1129.2,118.4 1130.2,119.0 1131.2,117.2 1132.2,117.7 1133.2,116.6 1134.2,116.9 1135.2,117.4 1136.1,117.0 1137.1,113.8 1138.1,116.2 1139.1,117.4 1140.1,118.4 1141.1,116.5 1142.1,115.1 1143.1,116.3 1144.1,116.3 1145.1,116.5 1146.0,115.9 1147.0,116.5 1148.0,116.0 1149.0,116.1 1150.0,116.3 1151.0,114.7 1152.0,116.7 1153.0,116.7 1154.0,117.4 1155.0,116.8 1155.9,116.3 1156.9,114.4 1157.9,116.1 1158.9,116.2 1159.9,115.9 1160.9,116.6 1161.9,116.2 1162.9,117.8 1163.9,115.7 1164.8,115.1 1165.8,115.0 1166.8,114.0 1167.8,114.8 1168.8,114.6 1169.8,115.0 1170.8,115.3 1171.8,114.9 1172.8,114.8 1173.8,114.7 1174.7,116.7 1175.7,116.7 1176.7,116.4 1177.7,116.7 1178.7,116.2 1179.7,116.3 1180.7,116.6 1181.7,115.6 1182.7,114.3 1183.6,113.9 1184.6,113.6 1185.6,113.6 1186.6,117.5 1187.6,113.9 1188.6,114.9 1189.6,116.8 1190.6,116.4 1191.6,116.1 1192.6,116.5 1193.5,114.8 1194.5,115.9 1195.5,114.3 1196.5,114.2 1197.5,117.6 1198.5,117.1 1199.5,115.9 1200.5,116.1 1201.5,116.7 1202.5,117.1 1203.4,117.6 1204.4,117.8 1205.4,116.7 1206.4,117.4 1207.4,118.6 1208.4,120.0 1209.4,118.2 1210.4,118.7 1211.4,121.2 1212.3,119.0 1213.3,120.2 1214.3,119.1 1215.3,119.6 1216.3,118.5 1217.3,120.8 1218.3,118.5 1219.3,120.1 1220.3,118.8 1221.3,120.5 1222.2,121.6 1223.2,122.9 1224.2,121.1 1225.2,122.0 1226.2,123.6 1227.2,125.2 1228.2,126.8 1229.2,128.2 1230.2,129.8 1231.2,132.1 1231.6,132.9"/>
<path stroke="#5B9BD5" stroke-width="3.3" d="M1231.6,132.9L1232.1,143.3V357.0"/>
<path stroke="#70AD47" d="M94.1,495.7 95.1,495.1 96.1,494.1 97.1,494.3 98.1,494.1 99.0,492.8 100.0,493.0 101.0,491.9 102.0,490.5 103.0,491.1 104.0,490.1 105.0,493.0 106.0,489.8 107.0,490.3 108.0,490.8 108.9,489.8 109.9,490.3 110.9,490.0 111.9,490.4 112.9,488.9 113.9,488.9 114.9,487.9 115.9,485.8 116.9,485.9 117.9,486.9 118.8,485.0 119.8,483.8 120.8,484.3 121.8,484.1 122.8,483.9 123.8,484.4 124.8,482.2 125.8,482.2 126.8,482.3 127.7,482.0 128.7,481.7 129.7,479.9 130.7,481.2 131.7,482.3 132.7,480.5 133.7,479.1 134.7,478.6 135.7,479.2 136.7,480.2 137.6,476.3 138.6,478.5 139.6,477.7 140.6,477.2 141.6,477.4 142.6,476.8 143.6,477.2 144.6,476.7 145.6,476.0 146.5,474.9 147.5,472.1 148.5,474.6 149.5,472.6 150.5,473.0 151.5,473.3 152.5,474.1 153.5,472.8 154.5,473.2 155.5,472.0 156.4,471.5 157.4,472.6 158.4,470.3 159.4,470.9 160.4,470.4 161.4,469.8 162.4,470.1 163.4,468.5 164.4,467.4 165.4,468.4 166.3,467.6 167.3,466.4 168.3,467.2 169.3,467.9 170.3,466.5 171.3,467.1 172.3,467.2 173.3,468.4 174.3,466.9 175.2,467.3 176.2,466.0 177.2,467.7 178.2,466.9 179.2,463.9 180.2,463.1 181.2,464.0 182.2,464.1 183.2,466.6 184.2,464.0 185.1,464.5 186.1,465.6 187.1,464.4 188.1,464.1 189.1,462.1 190.1,462.1 191.1,459.5 192.1,459.7 193.1,460.6 194.0,460.0 195.0,461.3 196.0,458.9 197.0,459.4 198.0,458.7 199.0,458.3 200.0,458.0 201.0,458.0 202.0,456.7 203.0,455.9 203.9,458.5 204.9,456.3 205.9,455.2 206.9,454.9 207.9,453.6 208.9,452.2 209.9,452.1 210.9,452.2 211.9,450.3 212.9,450.1 213.8,449.6 214.8,447.3 215.8,447.4 216.8,448.9 217.8,446.2 218.8,447.6 219.8,446.3 220.8,447.7 221.8,444.6 222.7,446.4 223.7,444.0 224.7,441.8 225.7,442.5 226.7,442.7 227.7,443.2 228.7,442.0 229.7,440.1 230.7,442.6 231.7,441.3 232.6,438.4 233.6,439.0 234.6,437.1 235.6,436.8 236.6,437.8 237.6,436.6 238.6,434.5 239.6,435.5 240.6,434.9 241.6,433.8 242.5,434.3 243.5,433.9 244.5,432.8 245.5,433.1 246.5,432.8 247.5,431.9 248.5,430.1 249.5,431.5 250.5,432.0 251.4,428.4 252.4,429.5 253.4,432.4 254.4,431.2 255.4,431.9 256.4,429.3 257.4,430.6 258.4,430.0 259.4,427.2 260.4,428.9 261.3,428.3 262.3,427.6 263.3,426.4 264.3,426.0 265.3,425.1 266.3,427.1 267.3,426.0 268.3,427.4 269.3,425.6 270.2,425.3 271.2,422.9 272.2,423.4 273.2,423.6 274.2,423.1 275.2,423.1 276.2,422.1 277.2,421.6 278.2,420.3 279.2,419.9 280.1,418.7 281.1,417.1 282.1,418.1 283.1,417.5 284.1,417.3 285.1,413.3 286.1,412.7 287.1,412.8 288.1,412.6 289.1,413.1 290.0,410.8 291.0,410.7 292.0,409.6 293.0,409.1 294.0,411.5 295.0,410.1 296.0,408.3 297.0,406.5 298.0,407.2 298.9,405.7 299.9,405.6 300.9,405.8 301.9,403.7 302.9,404.6 303.9,404.5 304.9,401.1 305.9,400.3 306.9,400.9 307.9,399.8 308.8,400.9 309.8,400.4 310.8,399.1 311.8,398.7 312.8,397.9 313.8,399.2 314.8,396.6 315.8,397.7 316.8,396.3 317.7,392.8 318.7,393.4 319.7,394.4 320.7,393.3 321.7,393.5 322.7,392.8 323.7,392.0 324.7,390.8 325.7,389.6 326.7,388.3 327.6,386.1 328.6,386.6 329.6,386.3 330.6,387.1 331.6,384.1 332.6,384.2 333.6,382.2 334.6,382.7 335.6,380.6 336.6,381.8 337.5,381.0 338.5,380.2 339.5,379.6 340.5,378.3 341.5,377.5 342.5,378.7 343.5,377.6 344.5,376.4 345.5,374.3 346.4,374.3 347.4,372.8 348.4,372.0 349.4,371.5 350.4,373.0 351.4,368.9 352.4,369.1 353.4,369.6 354.4,368.2 355.4,368.1 356.3,367.0 357.3,367.1 358.3,363.4 359.3,364.4 360.3,363.3 361.3,363.8 362.3,361.7 363.3,360.2 364.3,360.5 365.3,360.8 366.2,359.2 367.2,358.5 368.2,356.8 369.2,356.3 370.2,355.2 371.2,354.8 372.2,354.2 373.2,353.1 374.2,350.9 375.1,351.1 376.1,349.5 377.1,349.7 378.1,348.9 379.1,348.8 380.1,347.0 381.1,346.5 382.1,347.3 383.1,345.0 384.1,344.5 385.0,342.3 386.0,341.4 387.0,338.5 388.0,338.6 389.0,338.5 390.0,337.8 391.0,337.6 392.0,337.3 393.0,336.2 393.9,337.1 394.9,336.1 395.9,335.1 396.9,336.2 397.9,335.6 398.9,333.6 399.9,334.0 400.9,334.4 401.9,333.0 402.9,333.2 403.8,333.0 404.8,330.7 405.8,331.5 406.8,330.6 407.8,329.3 408.8,327.2 409.8,326.3 410.8,326.8 411.8,325.6 412.8,325.1 413.7,323.3 414.7,322.8 415.7,323.2 416.7,321.5 417.7,322.7 418.7,321.5 419.7,322.1 420.7,319.0 421.7,318.8 422.6,317.4 423.6,314.7 424.6,315.9 425.6,315.8 426.6,316.1 427.6,314.9 428.6,315.3 429.6,314.1 430.6,313.9 431.6,313.9 432.5,314.4 433.5,314.5 434.5,314.3 435.5,314.4 436.5,313.8 437.5,314.8 438.5,314.4 439.5,313.8 440.5,312.6 441.4,313.8 442.4,314.5 443.4,314.7 444.4,312.7 445.4,314.1 446.4,313.9 447.4,313.0 448.4,312.9 449.4,312.1 450.4,310.6 451.3,310.5 452.3,311.2 453.3,308.5 454.3,307.3 455.3,307.8 456.3,305.1 457.3,305.6 458.3,305.3 459.3,306.2 460.3,302.2 461.2,301.2 462.2,301.2 463.2,300.1 464.2,301.5 465.2,300.8 466.2,299.3 467.2,298.7 468.2,299.1 469.2,297.4 470.1,296.0 471.1,296.1 472.1,294.0 473.1,294.3 474.1,294.7 475.1,294.7 476.1,294.7 477.1,292.5 478.1,293.8 479.1,291.6 480.0,290.6 481.0,291.8 482.0,289.6 483.0,289.4 484.0,287.2 485.0,287.6 486.0,287.9 487.0,286.8 488.0,285.2 489.0,286.7 489.9,286.6 490.9,284.7 491.9,282.7 492.9,285.2 493.9,282.3 494.9,282.3 495.9,281.6 496.9,281.2 497.9,281.8 498.8,281.7 499.8,278.5 500.8,281.0 501.8,279.6 502.8,277.8 503.8,278.6 504.8,277.4 505.8,277.5 506.8,277.8 507.8,276.1 508.7,276.4 509.7,276.5 510.7,274.7 511.7,274.9 512.7,274.1 513.7,274.5 514.7,272.3 515.7,272.0 516.7,272.1 517.6,272.2 518.6,271.8 519.6,271.2 520.6,271.6 521.6,268.9 522.6,270.3 523.6,268.4 524.6,267.7 525.6,268.4 526.6,267.8 527.5,268.6 528.5,267.2 529.5,266.9 530.5,265.1 531.5,266.0 532.5,265.6 533.5,264.1 534.5,265.9 535.5,264.9 536.5,262.6 537.4,263.1 538.4,261.9 539.4,265.0 540.4,263.0 541.4,261.9 542.4,262.6 543.4,260.0 544.4,261.5 545.4,260.6 546.3,259.1 547.3,258.7 548.3,258.8 549.3,259.1 550.3,257.7 551.3,258.0 552.3,255.8 553.3,256.6 554.3,257.2 555.3,254.9 556.2,253.5 557.2,254.3 558.2,254.8 559.2,255.5 560.2,254.2 561.2,252.3 562.2,251.9 563.2,253.6 564.2,251.3 565.1,252.1 566.1,249.8 567.1,247.9 568.1,248.6 569.1,247.0 570.1,247.6 571.1,246.8 572.1,245.3 573.1,244.4 574.1,245.1 575.0,242.9 576.0,243.0 577.0,245.6 578.0,242.0 579.0,240.9 580.0,243.5 581.0,240.6 582.0,238.7 583.0,238.5 584.0,239.0 584.9,238.6 585.9,237.0 586.9,236.7 587.9,235.1 588.9,234.8 589.9,233.1 590.9,234.5 591.9,233.4 592.9,232.8 593.8,232.6 594.8,231.5 595.8,233.2 596.8,232.1 597.8,229.4 598.8,230.0 599.8,230.3 600.8,228.8 601.8,229.7 602.8,230.5 603.7,228.9 604.7,227.9 605.7,228.5 606.7,226.3 607.7,226.9 608.7,226.8 609.7,227.0 610.7,224.3 611.7,223.2 612.7,226.1 613.6,225.2 614.6,225.2 615.6,223.1 616.6,223.9 617.6,222.6 618.6,223.3 619.6,224.1 620.6,221.5 621.6,222.2 622.5,222.2 623.5,222.6 624.5,221.1 625.5,219.6 626.5,220.7 627.5,217.9 628.5,217.8 629.5,218.8 630.5,218.3 631.5,218.9 632.4,218.0 633.4,219.1 634.4,219.1 635.4,215.5 636.4,216.5 637.4,215.7 638.4,216.8 639.4,215.2 640.4,215.1 641.3,216.7 642.3,215.0 643.3,214.0 644.3,213.5 645.3,211.5 646.3,211.4 647.3,213.1 648.3,212.4 649.3,211.6 650.3,211.0 651.2,210.6 652.2,211.5 653.2,209.9 654.2,209.8 655.2,211.2 656.2,211.2 657.2,210.3 658.2,209.2 659.2,209.3 660.2,208.6 661.1,208.9 662.1,207.7 663.1,206.3 664.1,205.8 665.1,207.3 666.1,204.8 667.1,203.5 668.1,205.2 669.1,202.6 670.0,203.6 671.0,204.6 672.0,201.9 673.0,202.8 674.0,203.0 675.0,200.5 676.0,200.1 677.0,201.5 678.0,201.8 679.0,200.8 679.9,200.0 680.9,199.0 681.9,201.9 682.9,199.4 683.9,198.8 684.9,199.2 685.9,198.5 686.9,197.5 687.9,199.3 688.8,199.3 689.8,197.6 690.8,197.3 691.8,196.9 692.8,196.0 693.8,193.9 694.8,195.6 695.8,195.0 696.8,194.0 697.8,194.6 698.7,194.5 699.7,193.5 700.7,192.9 701.7,193.8 702.7,192.3 703.7,192.1 704.7,191.9 705.7,191.1 706.7,193.0 707.7,190.9 708.6,191.6 709.6,191.0 710.6,190.8 711.6,191.4 712.6,189.9 713.6,187.8 714.6,188.9 715.6,187.8 716.6,189.4 717.5,189.0 718.5,187.9 719.5,188.0 720.5,188.0 721.5,186.2 722.5,185.9 723.5,185.3 724.5,185.7 725.5,185.6 726.5,185.5 727.4,183.8 728.4,184.4 729.4,182.9 730.4,182.6 731.4,181.5 732.4,183.4 733.4,181.6 734.4,183.6 735.4,181.2 736.4,181.3 737.3,180.6 738.3,183.5 739.3,180.1 740.3,181.0 741.3,181.0 742.3,182.1 743.3,181.4 744.3,179.1 745.3,178.0 746.2,178.7 747.2,179.8 748.2,178.3 749.2,179.8 750.2,178.6 751.2,178.3 752.2,176.3 753.2,178.4 754.2,177.5 755.2,176.5 756.1,175.8 757.1,177.5 758.1,176.5 759.1,177.6 760.1,174.6 761.1,175.1 762.1,175.0 763.1,175.2 764.1,173.0 765.0,173.9 766.0,174.6 767.0,172.5 768.0,172.5 769.0,172.9 770.0,173.8 771.0,172.8 772.0,172.0 773.0,172.1 774.0,171.9 774.9,170.5 775.9,172.0 776.9,170.6 777.9,171.4 778.9,172.1 779.9,170.1 780.9,169.8 781.9,170.9 782.9,171.1 783.9,169.0 784.8,169.4 785.8,171.2 786.8,170.5 787.8,168.9 788.8,169.4 789.8,167.9 790.8,168.7 791.8,167.8 792.8,167.9 793.7,167.6 794.7,167.6 795.7,167.7 796.7,168.7 797.7,166.1 798.7,167.1 799.7,167.6 800.7,164.9 801.7,166.5 802.7,164.6 803.6,167.6 804.6,165.4 805.6,165.5 806.6,165.9 807.6,164.2 808.6,165.7 809.6,164.8 810.6,165.2 811.6,163.8 812.5,165.5 813.5,164.2 814.5,163.9 815.5,165.8 816.5,161.0 817.5,162.7 818.5,162.7 819.5,162.3 820.5,163.2 821.5,163.3 822.4,164.8 823.4,163.2 824.4,162.6 825.4,161.7 826.4,161.7 827.4,161.1 828.4,160.9 829.4,160.7 830.4,160.5 831.4,160.5 832.3,159.4 833.3,161.6 834.3,160.6 835.3,159.1 836.3,159.6 837.3,160.4 838.3,159.9 839.3,159.5 840.3,159.0 841.2,157.0 842.2,157.2 843.2,158.7 844.2,158.3 845.2,156.3 846.2,158.3 847.2,157.2 848.2,157.8 849.2,158.6 850.2,157.8 851.1,157.4 852.1,155.8 853.1,157.4 854.1,155.4 855.1,156.4 856.1,156.2 857.1,157.0 858.1,157.9 859.1,155.9 860.1,156.3 861.0,155.4 862.0,155.3 863.0,157.0 864.0,155.7 865.0,155.1 866.0,154.6 867.0,154.3 868.0,153.8 869.0,154.5 869.9,153.6 870.9,153.9 871.9,153.3 872.9,153.0 873.9,152.9 874.9,150.9 875.9,153.3 876.9,154.2 877.9,152.1 878.9,152.5 879.8,151.6 880.8,151.9 881.8,151.2 882.8,151.7 883.8,151.7 884.8,149.3 885.8,149.4 886.8,151.5 887.8,151.0 888.7,149.3 889.7,149.9 890.7,150.9 891.7,149.5 892.7,148.7 893.7,149.4 894.7,148.8 895.7,149.5 896.7,147.8 897.7,146.7 898.6,148.1 899.6,148.9 900.6,147.5 901.6,147.8 902.6,147.7 903.6,148.6 904.6,148.3 905.6,148.3 906.6,147.8 907.6,147.1 908.5,147.4 909.5,144.9 910.5,146.2 911.5,146.5 912.5,145.9 913.5,144.8 914.5,144.4 915.5,146.2 916.5,146.2 917.4,145.9 918.4,144.9 919.4,144.6 920.4,142.9 921.4,142.6 922.4,144.5 923.4,146.3 924.4,145.7 925.4,144.8 926.4,143.8 927.3,142.9 928.3,144.2 929.3,142.2 930.3,141.6 931.3,144.5 932.3,143.9 933.3,140.7 934.3,142.3 935.3,142.2 936.2,138.4 937.2,141.1 938.2,141.7 939.2,143.9 940.2,141.9 941.2,141.1 942.2,142.0 943.2,139.7 944.2,141.6 945.2,139.5 946.1,139.9 947.1,140.7 948.1,139.4 949.1,138.2 950.1,138.6 951.1,140.5 952.1,138.5 953.1,139.1 954.1,137.8 955.1,137.5 956.0,138.3 957.0,137.0 958.0,138.1 959.0,136.3 960.0,137.4 961.0,136.4 962.0,136.4 963.0,137.4 964.0,135.5 964.9,137.7 965.9,135.5 966.9,136.4 967.9,136.0 968.9,136.0 969.9,136.3 970.9,135.2 971.9,136.5 972.9,138.4 973.9,135.8 974.8,136.8 975.8,134.3 976.8,135.0 977.8,134.8 978.8,135.9 979.8,133.9 980.8,135.2 981.8,135.3 982.8,135.3 983.8,134.8 984.7,132.7 985.7,132.9 986.7,133.4 987.7,133.8 988.7,133.2 989.7,131.4 990.7,132.0 991.7,132.0 992.7,130.5 993.6,131.7 994.6,131.3 995.6,132.6 996.6,131.9 997.6,131.6 998.6,130.9 999.6,130.3 1000.6,131.0 1001.6,130.1 1002.6,129.6 1003.5,130.6 1004.5,130.1 1005.5,129.4 1006.5,131.0 1007.5,128.6 1008.5,129.6 1009.5,129.2 1010.5,130.7 1011.5,128.8 1012.4,128.3 1013.4,128.9 1014.4,129.4 1015.4,128.4 1016.4,130.1 1017.4,128.0 1018.4,127.5 1019.4,127.3 1020.4,127.0 1021.4,128.2 1022.3,128.0 1023.3,127.5 1024.3,127.4 1025.3,128.7 1026.3,128.1 1027.3,128.4 1028.3,127.7 1029.3,127.7 1030.3,126.8 1031.3,126.7 1032.2,126.0 1033.2,127.3 1034.2,125.7 1035.2,125.8 1036.2,123.6 1037.2,125.8 1038.2,128.8 1039.2,125.4 1040.2,127.5 1041.1,126.7 1042.1,126.8 1043.1,126.6 1044.1,125.1 1045.1,125.5 1046.1,126.0 1047.1,126.8 1048.1,126.8 1049.1,126.3 1050.1,126.1 1051.0,126.4 1052.0,128.1 1053.0,126.2 1054.0,126.1 1055.0,127.0 1056.0,125.9 1057.0,125.5 1058.0,126.2 1059.0,123.7 1059.9,126.6 1060.9,126.1 1061.9,125.7 1062.9,125.7 1063.9,124.5 1064.9,126.3 1065.9,126.6 1066.9,123.9 1067.9,125.4 1068.9,124.9 1069.8,124.8 1070.8,124.3 1071.8,124.5 1072.8,126.0 1073.8,125.4 1074.8,124.8 1075.8,124.1 1076.8,123.2 1077.8,125.6 1078.8,124.6 1079.7,124.5 1080.7,124.4 1081.7,126.6 1082.7,125.9 1083.7,125.0 1084.7,125.5 1085.7,125.2 1086.7,124.9 1087.7,124.2 1088.6,126.1 1089.6,126.5 1090.6,126.1 1091.6,124.4 1092.6,125.6 1093.6,124.0 1094.6,124.1 1095.6,124.7 1096.6,125.9 1097.6,124.9 1098.5,124.9 1099.5,125.1 1100.5,126.0 1101.5,125.4 1102.5,125.4 1103.5,125.1 1104.5,124.5 1105.5,125.1 1106.5,125.7 1107.5,123.1 1108.4,123.7 1109.4,122.5 1110.4,123.4 1111.4,124.9 1112.4,124.1 1113.4,124.2 1114.4,124.0 1115.4,124.0 1116.4,124.5 1117.3,124.0 1118.3,123.8 1119.3,126.5 1120.3,124.7 1121.3,124.3 1122.3,125.2 1123.3,123.4 1124.3,124.7 1125.3,124.0 1126.3,123.8 1127.2,124.3 1128.2,126.2 1129.2,126.1 1130.2,126.2 1131.2,127.2 1132.2,126.7 1133.2,125.9 1134.2,128.0 1135.2,126.6 1136.1,128.0 1137.1,128.6 1138.1,127.2 1139.1,128.5 1140.1,127.0 1141.1,127.2 1142.1,127.5 1143.1,128.8 1144.1,128.4 1145.1,127.2 1146.0,126.5 1147.0,128.8 1148.0,130.3 1149.0,128.7 1150.0,127.9 1151.0,127.5 1152.0,126.9 1153.0,128.6 1154.0,128.8 1155.0,129.3 1155.9,128.0 1156.9,128.7 1157.9,128.0 1158.9,128.1 1159.9,128.0 1160.9,128.6 1161.9,128.4 1162.9,129.3 1163.9,128.6 1164.8,128.8 1165.8,128.9 1166.8,128.7 1167.8,128.8 1168.8,129.3 1169.8,129.5 1170.8,129.8 1171.8,131.0 1172.8,128.9 1173.8,128.3 1174.7,131.1 1175.7,128.0 1176.7,128.1 1177.7,128.8 1178.7,129.3 1179.7,129.4 1180.7,130.3 1181.7,130.5 1182.7,130.1 1183.6,129.6 1184.6,131.6 1185.6,131.1 1186.6,131.6 1187.6,131.7 1188.6,132.4 1189.6,132.1 1190.6,131.9 1191.6,133.3 1192.6,132.3 1193.5,132.6 1194.5,133.4 1195.5,132.2 1196.5,134.0 1197.5,133.7 1198.5,134.6 1199.5,135.0 1200.5,131.8 1201.5,132.9 1202.5,133.4 1203.4,132.0 1204.4,131.1 1205.4,131.7 1206.4,130.5 1207.4,128.3 1208.4,128.0 1209.4,128.7 1210.4,129.6 1211.4,126.9 1212.3,126.5 1213.3,128.1 1214.3,128.4 1215.3,127.6 1216.3,127.2 1217.3,127.1 1218.3,128.3 1219.3,129.0 1220.3,129.0 1221.3,129.6 1222.2,129.0 1223.2,128.2 1224.2,130.0 1225.2,130.8 1226.2,130.9 1227.2,131.6 1228.2,133.6 1229.2,135.0"/>
<path stroke="#70AD47" stroke-width="3.3" d="M1229.2,135.0L1232.1,145.4V414.5"/>
<path stroke="#264478" d="M94.1,493.6 95.1,493.1 96.1,492.4 97.1,492.1 98.1,490.9 99.0,491.9 100.0,489.3 101.0,489.9 102.0,489.7 103.0,490.1 104.0,490.2 105.0,488.7 106.0,487.0 107.0,486.6 108.0,485.6 108.9,486.2 109.9,485.3 110.9,485.2 111.9,485.5 112.9,484.3 113.9,484.1 114.9,482.3 115.9,482.5 116.9,482.0 117.9,480.7 118.8,479.8 119.8,480.1 120.8,479.7 121.8,479.1 122.8,477.8 123.8,479.2 124.8,479.3 125.8,475.3 126.8,477.0 127.7,476.7 128.7,478.3 129.7,476.3 130.7,475.3 131.7,475.1 132.7,474.6 133.7,473.8 134.7,472.8 135.7,471.5 136.7,473.0 137.6,473.1 138.6,470.8 139.6,470.4 140.6,470.9 141.6,471.0 142.6,470.0 143.6,468.7 144.6,467.4 145.6,466.4 146.5,465.9 147.5,466.8 148.5,463.8 149.5,463.8 150.5,464.5 151.5,464.1 152.5,462.7 153.5,463.4 154.5,463.0 155.5,462.2 156.4,460.6 157.4,462.8 158.4,460.3 159.4,462.5 160.4,461.2 161.4,459.5 162.4,458.0 163.4,459.6 164.4,457.1 165.4,456.1 166.3,457.1 167.3,457.0 168.3,456.6 169.3,457.6 170.3,453.4 171.3,454.2 172.3,455.6 173.3,453.6 174.3,453.0 175.2,453.2 176.2,452.7 177.2,451.5 178.2,452.3 179.2,452.4 180.2,449.5 181.2,450.2 182.2,450.8 183.2,448.5 184.2,451.7 185.1,450.7 186.1,448.4 187.1,448.0 188.1,447.6 189.1,447.7 190.1,447.3 191.1,446.8 192.1,446.4 193.1,444.8 194.0,443.6 195.0,443.3 196.0,442.1 197.0,444.5 198.0,443.1 199.0,443.4 200.0,440.3 201.0,441.4 202.0,440.3 203.0,440.0 203.9,440.6 204.9,440.6 205.9,438.8 206.9,437.9 207.9,438.5 208.9,436.0 209.9,436.9 210.9,435.8 211.9,435.4 212.9,434.5 213.8,436.6 214.8,433.5 215.8,433.4 216.8,433.0 217.8,431.9 218.8,431.9 219.8,433.3 220.8,432.0 221.8,432.0 222.7,431.0 223.7,429.5 224.7,427.8 225.7,430.0 226.7,429.6 227.7,427.9 228.7,426.7 229.7,426.4 230.7,426.8 231.7,425.7 232.6,425.3 233.6,425.8 234.6,423.4 235.6,425.2 236.6,423.6 237.6,422.9 238.6,422.0 239.6,421.1 240.6,421.7 241.6,420.8 242.5,419.2 243.5,417.7 244.5,419.4 245.5,417.8 246.5,417.7 247.5,418.1 248.5,416.6 249.5,417.5 250.5,416.5 251.4,415.8 252.4,413.2 253.4,415.4 254.4,413.5 255.4,413.3 256.4,413.1 257.4,412.7 258.4,410.6 259.4,411.8 260.4,410.4 261.3,410.4 262.3,409.3 263.3,408.5 264.3,410.1 265.3,409.5 266.3,408.0 267.3,407.3 268.3,408.0 269.3,405.9 270.2,404.6 271.2,404.7 272.2,404.0 273.2,404.6 274.2,401.8 275.2,400.1 276.2,398.0 277.2,399.6 278.2,397.5 279.2,399.0 280.1,397.6 281.1,397.1 282.1,398.0 283.1,396.7 284.1,395.0 285.1,394.3 286.1,394.0 287.1,393.1 288.1,391.4 289.1,390.3 290.0,392.7 291.0,390.9 292.0,389.5 293.0,391.0 294.0,388.0 295.0,386.1 296.0,388.1 297.0,388.9 298.0,386.9 298.9,384.2 299.9,381.8 300.9,383.1 301.9,383.1 302.9,383.5 303.9,381.6 304.9,382.2 305.9,381.0 306.9,379.3 307.9,379.5 308.8,380.0 309.8,378.4 310.8,376.7 311.8,375.9 312.8,378.0 313.8,375.7 314.8,374.8 315.8,374.9 316.8,375.0 317.7,374.2 318.7,373.3 319.7,369.9 320.7,370.4 321.7,369.9 322.7,368.4 323.7,366.5 324.7,366.8 325.7,365.4 326.7,364.7 327.6,364.8 328.6,362.1 329.6,362.1 330.6,360.6 331.6,359.4 332.6,360.2 333.6,359.8 334.6,358.8 335.6,355.5 336.6,356.3 337.5,356.1 338.5,353.5 339.5,354.7 340.5,351.6 341.5,353.1 342.5,351.4 343.5,350.8 344.5,349.7 345.5,348.4 346.4,348.0 347.4,349.0 348.4,348.5 349.4,346.6 350.4,344.8 351.4,344.9 352.4,344.4 353.4,344.9 354.4,342.2 355.4,341.2 356.3,341.7 357.3,340.4 358.3,337.7 359.3,338.7 360.3,338.2 361.3,336.0 362.3,337.6 363.3,335.4 364.3,334.1 365.3,333.7 366.2,332.4 367.2,331.4 368.2,329.8 369.2,329.2 370.2,327.1 371.2,325.7 372.2,325.4 373.2,324.7 374.2,325.4 375.1,321.2 376.1,320.5 377.1,319.2 378.1,317.1 379.1,317.4 380.1,316.6 381.1,314.1 382.1,316.6 383.1,311.8 384.1,310.7 385.0,311.3 386.0,310.0 387.0,306.9 388.0,307.4 389.0,304.9 390.0,304.1 391.0,303.2 392.0,302.3 393.0,301.2 393.9,300.6 394.9,299.2 395.9,297.4 396.9,299.0 397.9,295.2 398.9,293.0 399.9,295.7 400.9,292.6 401.9,292.5 402.9,291.2 403.8,291.1 404.8,291.4 405.8,289.2 406.8,288.8 407.8,287.6 408.8,288.2 409.8,286.7 410.8,284.9 411.8,286.6 412.8,284.3 413.7,285.1 414.7,282.1 415.7,280.0 416.7,282.6 417.7,281.0 418.7,279.7 419.7,280.8 420.7,278.5 421.7,278.5 422.6,278.4 423.6,276.6 424.6,276.5 425.6,273.6 426.6,274.0 427.6,273.8 428.6,273.0 429.6,273.5 430.6,272.4 431.6,271.6 432.5,269.1 433.5,267.7 434.5,268.2 435.5,265.9 436.5,265.1 437.5,264.6 438.5,262.6 439.5,262.6 440.5,262.0 441.4,261.2 442.4,259.5 443.4,260.0 444.4,258.7 445.4,257.0 446.4,255.5 447.4,255.2 448.4,254.8 449.4,255.3 450.4,252.3 451.3,253.2 452.3,252.8 453.3,250.3 454.3,251.0 455.3,250.5 456.3,248.5 457.3,247.0 458.3,246.4 459.3,247.5 460.3,245.1 461.2,244.9 462.2,244.4 463.2,242.6 464.2,241.4 465.2,242.5 466.2,239.7 467.2,239.7 468.2,238.9 469.2,238.8 470.1,237.0 471.1,235.2 472.1,235.5 473.1,235.8 474.1,231.5 475.1,231.1 476.1,230.6 477.1,229.0 478.1,230.2 479.1,229.2 480.0,228.9 481.0,227.0 482.0,223.0 483.0,223.0 484.0,224.2 485.0,221.8 486.0,221.1 487.0,219.9 488.0,221.0 489.0,219.7 489.9,219.8 490.9,218.4 491.9,216.5 492.9,216.5 493.9,215.8 494.9,214.3 495.9,214.5 496.9,214.6 497.9,212.4 498.8,213.8 499.8,210.3 500.8,211.4 501.8,210.5 502.8,210.5 503.8,207.4 504.8,206.3 505.8,206.1 506.8,205.1 507.8,203.7 508.7,204.1 509.7,204.8 510.7,203.9 511.7,202.9 512.7,204.3 513.7,201.6 514.7,200.7 515.7,199.2 516.7,198.7 517.6,196.6 518.6,197.5 519.6,196.3 520.6,194.9 521.6,195.0 522.6,194.2 523.6,195.2 524.6,193.1 525.6,192.7 526.6,190.8 527.5,191.0 528.5,190.1 529.5,187.9 530.5,190.0 531.5,188.3 532.5,188.9 533.5,187.8 534.5,187.1 535.5,187.2 536.5,184.7 537.4,185.6 538.4,184.7 539.4,183.7 540.4,183.1 541.4,181.8 542.4,182.0 543.4,179.6 544.4,179.5 545.4,179.0 546.3,178.6 547.3,178.5 548.3,177.8 549.3,176.9 550.3,175.6 551.3,175.3 552.3,175.6 553.3,174.3 554.3,174.9 555.3,173.2 556.2,172.8 557.2,171.9 558.2,171.2 559.2,171.3 560.2,170.3 561.2,169.7 562.2,168.8 563.2,168.0 564.2,167.7 565.1,167.7 566.1,165.4 567.1,166.5 568.1,163.1 569.1,162.8 570.1,163.1 571.1,163.3 572.1,162.7 573.1,162.6 574.1,160.4 575.0,160.2 576.0,160.6 577.0,159.9 578.0,159.4 579.0,159.1 580.0,157.7 581.0,157.7 582.0,156.0 583.0,155.9 584.0,156.6 584.9,155.0 585.9,153.3 586.9,154.0 587.9,154.0 588.9,154.1 589.9,152.7 590.9,151.1 591.9,150.8 592.9,152.2 593.8,150.1 594.8,151.0 595.8,149.4 596.8,148.6 597.8,147.8 598.8,147.4 599.8,147.4 600.8,147.1 601.8,145.6 602.8,145.3 603.7,143.6 604.7,143.9 605.7,142.4 606.7,142.4 607.7,142.6 608.7,140.3 609.7,141.8 610.7,141.2 611.7,139.4 612.7,138.3 613.6,138.5 614.6,138.4 615.6,137.7 616.6,136.0 617.6,138.0 618.6,137.9 619.6,136.5 620.6,136.0 621.6,134.9 622.5,133.9 623.5,133.9 624.5,133.0 625.5,132.7 626.5,132.1 627.5,131.5 628.5,131.0 629.5,130.9 630.5,128.8 631.5,128.5 632.4,129.5 633.4,126.5 634.4,126.6 635.4,127.1 636.4,126.3 637.4,126.7 638.4,126.1 639.4,125.8 640.4,124.0 641.3,121.6 642.3,122.2 643.3,122.0 644.3,121.9 645.3,120.5 646.3,120.2 647.3,121.6 648.3,121.3 649.3,120.4 650.3,118.7 651.2,118.9 652.2,120.7 653.2,118.1 654.2,116.3 655.2,116.8 656.2,117.3 657.2,115.9 658.2,114.9 659.2,114.8 660.2,114.7 661.1,115.7 662.1,112.9 663.1,113.9 664.1,112.0 665.1,113.1 666.1,113.2 667.1,109.4 668.1,112.2 669.1,110.2 670.0,110.5 671.0,108.4 672.0,109.3 673.0,108.9 674.0,106.7 675.0,108.3 676.0,107.9 677.0,107.0 678.0,108.1 679.0,106.5 679.9,107.0 680.9,105.3 681.9,105.8 682.9,107.2 683.9,106.2 684.9,105.8 685.9,103.4 686.9,104.5 687.9,102.4 688.8,103.2 689.8,102.4 690.8,102.0 691.8,100.1 692.8,102.2 693.8,101.6 694.8,102.0 695.8,97.7 696.8,100.2 697.8,99.8 698.7,100.4 699.7,99.2 700.7,98.9 701.7,99.5 702.7,98.4 703.7,98.5 704.7,98.9 705.7,96.4 706.7,96.2 707.7,96.7 708.6,98.0 709.6,94.6 710.6,96.0 711.6,96.2 712.6,95.4 713.6,94.4 714.6,95.1 715.6,95.5 716.6,93.6 717.5,92.9 718.5,93.7 719.5,92.9 720.5,91.6 721.5,91.9 722.5,92.4 723.5,91.1 724.5,91.9 725.5,90.9 726.5,90.6 727.4,90.5 728.4,89.7 729.4,90.6 730.4,89.5 731.4,90.9 732.4,89.0 733.4,90.8 734.4,88.9 735.4,87.2 736.4,89.6 737.3,88.0 738.3,86.5 739.3,86.8 740.3,87.3 741.3,85.7 742.3,85.8 743.3,85.4 744.3,85.7 745.3,84.5 746.2,84.1 747.2,84.7 748.2,83.6 749.2,83.8 750.2,82.8 751.2,85.1 752.2,84.5 753.2,83.2 754.2,81.6 755.2,80.9 756.1,81.6 757.1,81.8 758.1,80.2 759.1,81.2 760.1,82.2 761.1,81.1 762.1,79.5 763.1,79.4 764.1,77.8 765.0,79.2 766.0,77.5 767.0,79.5 768.0,78.7 769.0,78.6 770.0,77.4 771.0,79.6 772.0,77.5 773.0,77.6 774.0,76.7 774.9,74.9 775.9,78.1 776.9,75.6 777.9,76.4 778.9,77.3 779.9,76.1 780.9,76.9 781.9,76.6 782.9,74.4 783.9,74.7 784.8,74.9 785.8,74.0 786.8,76.1 787.8,74.7 788.8,75.7 789.8,74.3 790.8,74.0 791.8,75.6 792.8,73.2 793.7,71.7 794.7,74.0 795.7,72.9 796.7,72.8 797.7,73.9 798.7,72.8 799.7,72.9 800.7,73.3 801.7,71.8 802.7,71.1 803.6,73.7 804.6,73.8 805.6,72.2 806.6,73.1 807.6,70.1 808.6,71.4 809.6,69.7 810.6,71.3 811.6,71.0 812.5,70.5 813.5,68.9 814.5,69.3 815.5,71.4 816.5,70.4 817.5,70.2 818.5,69.8 819.5,67.7 820.5,68.6 821.5,70.2 822.4,70.2 823.4,69.6 824.4,70.2 825.4,69.7 826.4,70.0 827.4,68.5 828.4,69.6 829.4,66.5 830.4,68.4 831.4,70.2 832.3,68.8 833.3,68.6 834.3,69.3 835.3,67.3 836.3,68.3 837.3,67.7 838.3,67.9 839.3,68.0 840.3,68.8 841.2,68.8 842.2,70.2 843.2,67.3 844.2,66.6 845.2,67.5 846.2,66.9 847.2,67.7 848.2,66.8 849.2,67.3 850.2,67.8 851.1,67.5 852.1,66.8 853.1,66.4 854.1,63.9 855.1,67.9 856.1,65.7 857.1,65.3 858.1,67.3 859.1,65.9 860.1,63.2 861.0,65.9 862.0,66.3 863.0,66.6 864.0,64.9 865.0,65.1 866.0,64.1 867.0,63.6 868.0,65.7 869.0,65.1 869.9,65.4 870.9,64.1 871.9,66.1 872.9,64.6 873.9,63.6 874.9,63.4 875.9,65.1 876.9,65.4 877.9,64.8 878.9,65.0 879.8,64.8 880.8,65.2 881.8,66.6 882.8,64.0 883.8,62.6 884.8,64.0 885.8,64.9 886.8,63.0 887.8,63.4 888.7,64.1 889.7,64.2 890.7,65.7 891.7,63.1 892.7,62.4 893.7,62.9 894.7,62.8 895.7,63.8 896.7,62.9 897.7,62.3 898.6,62.9 899.6,62.5 900.6,62.1 901.6,63.5 902.6,62.9 903.6,60.2 904.6,60.8 905.6,62.6 906.6,60.1 907.6,61.2 908.5,61.0 909.5,60.1 910.5,58.4 911.5,58.3 912.5,61.2 913.5,59.5 914.5,58.0 915.5,58.8 916.5,60.8 917.4,60.0 918.4,59.7 919.4,60.0 920.4,60.8 921.4,59.7 922.4,59.9 923.4,59.1 924.4,58.6 925.4,60.1 926.4,59.5 927.3,60.0 928.3,58.2 929.3,57.6 930.3,58.8 931.3,58.8 932.3,61.7 933.3,60.9 934.3,59.5 935.3,59.6 936.2,59.3 937.2,60.1 938.2,58.0 939.2,59.3 940.2,60.5 941.2,58.9 942.2,59.8 943.2,59.8 944.2,60.3 945.2,59.7 946.1,59.0 947.1,60.7 948.1,58.8 949.1,59.8 950.1,60.8 951.1,62.8 952.1,62.1 953.1,62.2 954.1,61.9 955.1,62.3 956.0,62.2 957.0,62.9 958.0,61.2 959.0,63.4 960.0,63.4 961.0,63.8 962.0,64.0 963.0,62.5 964.0,63.5 964.9,61.7 965.9,63.5 966.9,63.5 967.9,63.2 968.9,66.2 969.9,64.4 970.9,66.3 971.9,68.1 972.1,68.4"/>
<path stroke="#264478" stroke-width="3.3" d="M972.1,68.4L973.1,78.8V329.9"/>
<path stroke="#9E480E" d="M94.1,488.8 95.1,488.6 96.1,488.1 97.1,486.9 98.1,488.1 99.0,486.5 100.0,487.1 101.0,484.9 102.0,486.2 103.0,486.1 104.0,483.6 105.0,483.3 106.0,484.4 107.0,485.6 108.0,485.1 108.9,482.8 109.9,482.0 110.9,483.3 111.9,480.5 112.9,480.4 113.9,480.9 114.9,480.2 115.9,479.5 116.9,479.8 117.9,478.1 118.8,478.6 119.8,478.3 120.8,477.0 121.8,476.8 122.8,478.2 123.8,476.7 124.8,477.2 125.8,475.7 126.8,475.0 127.7,476.1 128.7,473.9 129.7,472.4 130.7,473.2 131.7,474.3 132.7,473.0 133.7,472.0 134.7,471.3 135.7,470.9 136.7,471.7 137.6,471.1 138.6,469.6 139.6,466.8 140.6,468.5 141.6,468.6 142.6,467.6 143.6,466.0 144.6,466.9 145.6,469.4 146.5,467.2 147.5,466.4 148.5,466.3 149.5,466.4 150.5,465.6 151.5,461.7 152.5,462.6 153.5,462.8 154.5,464.1 155.5,463.1 156.4,461.7 157.4,461.6 158.4,461.4 159.4,459.4 160.4,458.9 161.4,459.2 162.4,461.1 163.4,459.4 164.4,460.0 165.4,459.3 166.3,458.3 167.3,457.2 168.3,456.2 169.3,459.0 170.3,455.9 171.3,456.3 172.3,455.6 173.3,456.1 174.3,453.3 175.2,454.0 176.2,452.7 177.2,453.8 178.2,451.8 179.2,451.9 180.2,452.5 181.2,451.6 182.2,451.3 183.2,451.0 184.2,448.5 185.1,449.0 186.1,449.4 187.1,450.2 188.1,447.6 189.1,447.7 190.1,447.6 191.1,447.9 192.1,445.3 193.1,445.0 194.0,446.0 195.0,445.9 196.0,445.5 197.0,444.8 198.0,444.3 199.0,445.2 200.0,444.4 201.0,443.3 202.0,441.7 203.0,441.6 203.9,441.7 204.9,442.2 205.9,440.7 206.9,439.6 207.9,439.0 208.9,438.1 209.9,439.2 210.9,439.2 211.9,437.1 212.9,438.1 213.8,436.7 214.8,436.6 215.8,437.9 216.8,436.1 217.8,435.8 218.8,435.5 219.8,435.1 220.8,435.4 221.8,434.2 222.7,433.6 223.7,431.2 224.7,431.8 225.7,431.1 226.7,429.0 227.7,431.7 228.7,428.9 229.7,428.6 230.7,428.8 231.7,429.2 232.6,426.5 233.6,426.3 234.6,426.5 235.6,426.9 236.6,424.4 237.6,423.0 238.6,424.9 239.6,423.9 240.6,422.9 241.6,421.7 242.5,422.5 243.5,419.9 244.5,421.1 245.5,421.0 246.5,421.2 247.5,420.9 248.5,418.8 249.5,418.7 250.5,419.0 251.4,418.8 252.4,416.4 253.4,415.5 254.4,415.7 255.4,415.4 256.4,415.7 257.4,413.5 258.4,412.4 259.4,412.9 260.4,413.1 261.3,410.9 262.3,412.4 263.3,411.0 264.3,408.7 265.3,409.8 266.3,409.9 267.3,411.4 268.3,409.9 269.3,408.6 270.2,406.0 271.2,408.3 272.2,404.9 273.2,406.1 274.2,406.1 275.2,405.0 276.2,406.3 277.2,404.2 278.2,402.5 279.2,405.3 280.1,404.0 281.1,403.7 282.1,401.8 283.1,401.2 284.1,398.9 285.1,401.1 286.1,398.8 287.1,399.5 288.1,398.2 289.1,398.0 290.0,396.8 291.0,397.6 292.0,395.4 293.0,394.6 294.0,396.3 295.0,394.9 296.0,393.6 297.0,394.3 298.0,393.8 298.9,392.7 299.9,391.1 300.9,390.3 301.9,391.0 302.9,389.1 303.9,390.7 304.9,386.3 305.9,387.6 306.9,385.5 307.9,386.3 308.8,386.0 309.8,384.7 310.8,384.3 311.8,385.2 312.8,383.6 313.8,382.5 314.8,381.9 315.8,381.2 316.8,380.7 317.7,379.8 318.7,378.2 319.7,377.9 320.7,377.3 321.7,376.9 322.7,374.0 323.7,374.2 324.7,371.6 325.7,372.4 326.7,372.5 327.6,371.0 328.6,370.0 329.6,369.0 330.6,367.9 331.6,366.8 332.6,364.7 333.6,365.7 334.6,365.2 335.6,364.3 336.6,361.2 337.5,361.5 338.5,360.5 339.5,358.4 340.5,358.6 341.5,359.2 342.5,356.7 343.5,355.1 344.5,353.2 345.5,352.9 346.4,353.4 347.4,352.7 348.4,352.0 349.4,351.7 350.4,349.0 351.4,349.2 352.4,348.7 353.4,348.6 354.4,348.0 355.4,346.1 356.3,344.1 357.3,344.7 358.3,343.7 359.3,343.6 360.3,342.6 361.3,341.4 362.3,338.6 363.3,336.4 364.3,336.2 365.3,336.5 366.2,336.6 367.2,334.4 368.2,335.3 369.2,335.2 370.2,332.0 371.2,333.1 372.2,330.3 373.2,330.2 374.2,328.8 375.1,330.4 376.1,327.7 377.1,326.6 378.1,325.5 379.1,326.5 380.1,325.3 381.1,325.6 382.1,322.1 383.1,322.2 384.1,321.6 385.0,319.9 386.0,320.1 387.0,318.8 388.0,318.3 389.0,316.4 390.0,318.6 391.0,315.0 392.0,314.7 393.0,315.2 393.9,312.5 394.9,310.6 395.9,312.5 396.9,311.3 397.9,310.4 398.9,309.1 399.9,310.5 400.9,308.9 401.9,308.8 402.9,307.3 403.8,307.5 404.8,306.4 405.8,306.0 406.8,305.3 407.8,304.2 408.8,303.5 409.8,304.1 410.8,302.7 411.8,301.5 412.8,299.6 413.7,298.0 414.7,298.7 415.7,297.8 416.7,295.9 417.7,295.7 418.7,296.0 419.7,295.4 420.7,295.1 421.7,291.9 422.6,292.0 423.6,292.1 424.6,291.2 425.6,289.0 426.6,288.1 427.6,287.2 428.6,286.5 429.6,287.2 430.6,286.8 431.6,285.1 432.5,284.8 433.5,283.3 434.5,283.0 435.5,282.3 436.5,280.4 437.5,280.9 438.5,280.4 439.5,277.4 440.5,279.0 441.4,277.0 442.4,276.4 443.4,276.0 444.4,273.2 445.4,274.1 446.4,274.7 447.4,271.2 448.4,269.1 449.4,271.6 450.4,269.3 451.3,268.6 452.3,267.8 453.3,266.4 454.3,266.0 455.3,265.3 456.3,266.6 457.3,266.0 458.3,263.4 459.3,262.9 460.3,262.2 461.2,261.4 462.2,263.1 463.2,263.1 464.2,261.9 465.2,259.7 466.2,259.4 467.2,260.2 468.2,259.0 469.2,258.0 470.1,257.4 471.1,256.4 472.1,254.2 473.1,254.4 474.1,253.7 475.1,253.7 476.1,250.6 477.1,250.5 478.1,250.3 479.1,249.3 480.0,247.9 481.0,248.3 482.0,245.9 483.0,247.2 484.0,246.4 485.0,245.2 486.0,245.2 487.0,242.7 488.0,242.4 489.0,241.3 489.9,239.3 490.9,240.9 491.9,238.7 492.9,239.2 493.9,237.5 494.9,236.5 495.9,236.9 496.9,235.6 497.9,236.1 498.8,233.9 499.8,235.2 500.8,233.9 501.8,234.9 502.8,233.9 503.8,232.2 504.8,231.4 505.8,230.9 506.8,228.0 507.8,229.3 508.7,231.0 509.7,229.5 510.7,228.2 511.7,229.2 512.7,229.1 513.7,226.2 514.7,226.4 515.7,228.1 516.7,226.1 517.6,224.8 518.6,224.0 519.6,223.4 520.6,222.8 521.6,223.3 522.6,222.7 523.6,221.5 524.6,221.7 525.6,220.0 526.6,221.3 527.5,220.1 528.5,219.2 529.5,218.7 530.5,218.4 531.5,218.6 532.5,218.4 533.5,218.7 534.5,217.6 535.5,216.1 536.5,214.5 537.4,216.5 538.4,216.8 539.4,212.8 540.4,215.2 541.4,212.6 542.4,212.3 543.4,212.0 544.4,212.9 545.4,212.3 546.3,211.7 547.3,212.6 548.3,210.0 549.3,212.6 550.3,211.2 551.3,211.2 552.3,210.1 553.3,208.6 554.3,209.8 555.3,208.1 556.2,209.5 557.2,206.2 558.2,207.4 559.2,205.8 560.2,206.2 561.2,205.9 562.2,205.2 563.2,205.1 564.2,204.1 565.1,202.5 566.1,205.1 567.1,205.7 568.1,203.1 569.1,204.8 570.1,201.5 571.1,201.3 572.1,201.0 573.1,200.7 574.1,201.7 575.0,201.1 576.0,201.0 577.0,199.2 578.0,197.0 579.0,198.8 580.0,199.4 581.0,198.6 582.0,200.8 583.0,198.6 584.0,197.0 584.9,197.2 585.9,196.7 586.9,195.7 587.9,195.3 588.9,195.4 589.9,195.2 590.9,193.9 591.9,195.3 592.9,194.7 593.8,193.7 594.8,193.3 595.8,192.6 596.8,194.3 597.8,194.3 598.8,192.7 599.8,193.6 600.8,191.4 601.8,191.1 602.8,190.7 603.7,191.6 604.7,191.1 605.7,191.1 606.7,191.9 607.7,191.1 608.7,189.1 609.7,189.5 610.7,189.7 611.7,188.8 612.7,186.8 613.6,187.9 614.6,187.3 615.6,186.7 616.6,188.8 617.6,187.9 618.6,187.3 619.6,186.2 620.6,186.4 621.6,186.2 622.5,186.9 623.5,186.8 624.5,184.2 625.5,184.7 626.5,183.6 627.5,185.3 628.5,184.1 629.5,183.1 630.5,183.7 631.5,183.4 632.4,184.3 633.4,185.0 634.4,183.8 635.4,184.1 636.4,183.7 637.4,182.1 638.4,181.9 639.4,180.5 640.4,179.8 641.3,179.8 642.3,180.1 643.3,180.5 644.3,179.4 645.3,181.0 646.3,180.4 647.3,178.4 648.3,179.0 649.3,177.7 650.3,177.7 651.2,177.8 652.2,177.1 653.2,177.6 654.2,178.0 655.2,177.4 656.2,176.0 657.2,177.4 658.2,175.1 659.2,175.9 660.2,175.2 661.1,174.4 662.1,173.7 663.1,175.4 664.1,174.2 665.1,175.0 666.1,173.5 667.1,173.0 668.1,172.6 669.1,172.7 670.0,172.9 671.0,172.2 672.0,173.7 673.0,171.7 674.0,171.1 675.0,170.3 676.0,170.0 677.0,170.3 678.0,169.9 679.0,169.7 679.9,168.6 680.9,169.1 681.9,167.4 682.9,167.4 683.9,169.1 684.9,168.9 685.9,169.0 686.9,168.1 687.9,168.0 688.8,167.0 689.8,166.6 690.8,166.8 691.8,167.3 692.8,167.1 693.8,165.1 694.8,166.0 695.8,165.4 696.8,165.7 697.8,163.7 698.7,164.9 699.7,165.2 700.7,165.1 701.7,163.9 702.7,164.7 703.7,165.5 704.7,162.2 705.7,160.9 706.7,160.5 707.7,162.2 708.6,161.0 709.6,160.5 710.6,160.0 711.6,160.8 712.6,160.8 713.6,160.0 714.6,160.6 715.6,161.0 716.6,159.2 717.5,157.3 718.5,159.3 719.5,159.0 720.5,160.1 721.5,157.1 722.5,156.7 723.5,158.2 724.5,157.7 725.5,158.6 726.5,156.4 727.4,156.6 728.4,155.5 729.4,155.9 730.4,155.4 731.4,156.3 732.4,155.8 733.4,153.7 734.4,155.9 735.4,156.5 736.4,153.4 737.3,154.3 738.3,153.5 739.3,153.5 740.3,153.3 741.3,154.6 742.3,153.8 743.3,153.6 744.3,153.1 745.3,152.4 746.2,152.2 747.2,153.7 748.2,151.0 749.2,152.8 750.2,150.7 751.2,150.8 752.2,149.9 753.2,148.8 754.2,150.4 755.2,149.9 756.1,149.6 757.1,150.7 758.1,150.8 759.1,148.6 760.1,147.7 761.1,148.2 762.1,149.7 763.1,147.3 764.1,145.7 765.0,146.5 766.0,146.6 767.0,146.4 768.0,146.0 769.0,147.3 770.0,146.0 771.0,145.6 772.0,145.5 773.0,144.8 774.0,143.2 774.9,143.7 775.9,143.6 776.9,144.5 777.9,143.1 778.9,143.0 779.9,143.5 780.9,142.5 781.9,142.6 782.9,141.9 783.9,143.5 784.8,142.6 785.8,141.2 786.8,140.0 787.8,141.0 788.8,141.4 789.8,141.4 790.8,141.0 791.8,139.5 792.8,140.6 793.7,141.6 794.7,141.4 795.7,140.9 796.7,139.3 797.7,140.5 798.7,141.3 799.7,139.5 800.7,140.2 801.7,140.5 802.7,138.1 803.6,138.1 804.6,136.2 805.6,136.7 806.6,137.6 807.6,138.6 808.6,138.1 809.6,139.1 810.6,137.8 811.6,137.4 812.5,138.4 813.5,138.4 814.5,138.9 815.5,137.9 816.5,137.5 817.5,135.3 818.5,137.3 819.5,134.8 820.5,136.9 821.5,136.8 822.4,136.9 823.4,136.1 824.4,137.2 825.4,134.8 826.4,134.4 827.4,135.6 828.4,135.3 829.4,133.7 830.4,134.6 831.4,134.0 832.3,134.3 833.3,134.0 834.3,134.8 835.3,134.0 836.3,132.9 837.3,132.8 838.3,134.4 839.3,132.0 840.3,133.1 841.2,134.0 842.2,132.5 843.2,131.9 844.2,130.4 845.2,130.8 846.2,131.5 847.2,132.0 848.2,131.3 849.2,131.1 850.2,130.8 851.1,130.5 852.1,130.3 853.1,129.6 854.1,130.6 855.1,130.5 856.1,129.4 857.1,128.2 858.1,129.4 859.1,129.3 860.1,129.1 861.0,127.9 862.0,127.5 863.0,127.4 864.0,129.6 865.0,128.7 866.0,127.2 867.0,126.9 868.0,127.5 869.0,125.3 869.9,127.3 870.9,125.1 871.9,126.1 872.9,124.3 873.9,124.8 874.9,124.1 875.9,125.4 876.9,125.4 877.9,124.5 878.9,123.0 879.8,124.3 880.8,123.7 881.8,123.7 882.8,124.3 883.8,123.3 884.8,121.8 885.8,123.3 886.8,122.4 887.8,123.3 888.7,123.5 889.7,122.4 890.7,121.9 891.7,121.3 892.7,122.5 893.7,121.2 894.7,120.5 895.7,121.6 896.7,121.4 897.7,122.9 898.6,121.8 899.6,121.0 900.6,120.7 901.6,121.6 902.6,120.3 903.6,120.3 904.6,121.0 905.6,121.0 906.6,120.3 907.6,120.0 908.5,118.9 909.5,119.1 910.5,118.4 911.5,119.9 912.5,118.0 913.5,119.9 914.5,118.6 915.5,118.3 916.5,117.4 917.4,118.3 918.4,118.3 919.4,117.0 920.4,117.4 921.4,116.4 922.4,117.4 923.4,116.5 924.4,117.1 925.4,116.8 926.4,113.4 927.3,115.2 928.3,115.9 929.3,115.1 930.3,116.0 931.3,115.1 932.3,114.7 933.3,116.0 934.3,115.3 935.3,114.9 936.2,115.5 937.2,115.5 938.2,115.5 939.2,113.3 940.2,115.1 941.2,112.3 942.2,111.7 943.2,112.7 944.2,111.9 945.2,113.2 946.1,114.0 947.1,112.7 948.1,111.4 949.1,113.7 950.1,112.0 951.1,112.3 952.1,109.4 953.1,111.5 954.1,110.0 955.1,109.5 956.0,107.8 957.0,108.6 958.0,109.4 959.0,107.4 960.0,108.7 961.0,109.3 962.0,110.7 963.0,107.0 964.0,107.0 964.9,108.4 965.9,107.2 966.9,106.5 967.9,107.0 968.9,104.4 969.9,106.2 970.9,106.5 971.9,107.1 972.9,105.8 973.9,105.1 974.8,106.5 975.8,105.9 976.8,106.6 977.8,104.1 978.8,103.7 979.8,105.2 980.8,105.5 981.8,103.6 982.8,104.3 983.8,103.7 984.7,101.6 985.7,103.2 986.7,103.2 987.7,103.8 988.7,102.9 989.7,103.4 990.7,101.8 991.7,102.7 992.7,101.0 993.6,100.1 994.6,100.6 995.6,99.1 996.6,102.1 997.6,101.0 998.6,102.1 999.6,101.0 1000.6,101.7 1001.6,101.2 1002.6,101.4 1003.5,101.4 1004.5,98.7 1005.5,99.9 1006.5,100.1 1007.5,98.6 1008.5,98.3 1009.5,98.8 1010.5,98.2 1011.5,97.1 1012.4,97.4 1013.4,98.5 1014.4,98.0 1015.4,98.3 1016.4,97.1 1017.4,97.9 1018.4,97.7 1019.4,96.1 1020.4,97.9 1021.4,97.3 1022.3,97.8 1023.3,95.2 1024.3,96.4 1025.3,96.9 1026.3,97.0 1027.3,97.6 1028.3,96.7 1029.3,96.9 1030.3,95.6 1031.3,95.9 1032.2,95.5 1033.2,94.1 1034.2,95.4 1035.2,93.4 1036.2,93.7 1037.2,94.3 1038.2,93.7 1039.2,93.9 1040.2,94.1 1041.1,93.6 1042.1,92.2 1043.1,92.6 1044.1,91.7 1045.1,93.0 1046.1,93.6 1047.1,92.9 1048.1,91.7 1049.1,93.2 1050.1,93.1 1051.0,91.6 1052.0,91.1 1053.0,92.0 1054.0,92.5 1055.0,91.0 1056.0,90.0 1057.0,90.6 1058.0,92.0 1059.0,92.5 1059.9,91.9 1060.9,91.4 1061.9,91.4 1062.9,90.5 1063.9,91.3 1064.9,90.9 1065.9,91.0 1066.9,90.4 1067.9,91.2 1068.9,92.3 1069.8,91.7 1070.8,89.6 1071.8,91.1 1072.8,90.8 1073.8,88.5 1074.8,88.6 1075.8,87.8 1076.8,91.7 1077.8,90.0 1078.8,89.8 1079.7,90.1 1080.7,91.7 1081.7,90.4 1082.7,92.1 1083.7,89.5 1084.7,92.5 1085.7,92.3 1086.7,92.0 1087.7,91.7 1088.6,91.1 1089.6,93.8 1090.6,93.0 1091.6,91.9 1092.6,93.5 1093.6,93.0 1094.6,93.8 1095.6,92.6 1096.6,93.2 1097.6,94.1 1098.5,94.0 1099.5,94.3 1100.5,92.8 1101.5,93.3 1102.5,94.7 1103.5,95.0 1104.5,94.0 1105.5,94.0 1106.5,94.1 1107.5,94.2 1108.4,94.6 1109.4,91.7 1110.4,91.9 1111.4,93.4 1112.4,93.8 1113.4,92.4 1114.4,92.0 1115.4,91.6 1116.4,90.8 1117.3,90.6 1118.3,90.1 1119.3,91.3 1120.3,91.7 1121.3,89.6 1122.3,88.3 1123.3,88.9 1124.3,87.5 1125.3,88.8 1126.3,86.7 1127.2,86.8 1128.2,87.4 1129.2,87.8 1130.2,85.2 1131.2,84.9 1132.2,86.0 1133.2,84.3 1134.2,85.8 1135.2,84.2 1136.1,86.1 1137.1,85.3 1138.1,85.1 1139.1,83.7 1140.1,83.9 1141.1,84.0 1142.1,83.5 1143.1,82.1 1144.1,82.5 1145.1,81.5 1146.0,80.5 1147.0,81.7 1148.0,82.6 1149.0,82.9 1150.0,82.1 1151.0,82.6 1152.0,82.4 1153.0,82.9 1154.0,81.8 1155.0,81.3 1155.9,81.0 1156.9,80.2 1157.9,80.2 1158.9,81.3 1159.9,81.2 1160.9,80.3 1161.9,78.8 1162.9,79.1 1163.9,80.4 1164.8,80.8 1165.8,78.7 1166.8,77.1 1167.8,79.2 1168.8,80.9 1169.8,80.9 1170.8,78.8 1171.8,78.5 1172.8,79.6 1173.8,78.7 1174.7,79.0 1175.7,78.6 1176.7,77.9 1177.7,76.4 1178.7,76.8 1179.7,77.5 1180.7,76.0 1181.7,77.3 1182.7,78.1 1183.6,76.8 1184.6,77.4 1185.6,76.8 1186.6,78.2 1187.6,78.3 1188.6,77.7 1189.6,78.4 1190.6,79.0 1191.6,76.9 1192.6,78.7 1193.5,77.2 1194.5,76.7 1195.5,76.7 1196.5,76.0 1197.5,78.5 1198.5,77.4 1199.5,77.6 1200.5,77.3 1201.5,76.2 1202.5,76.9 1203.4,76.8 1204.4,75.9 1205.4,75.4 1206.4,76.3 1207.4,77.4 1208.4,75.9 1209.4,73.5 1210.4,74.4 1211.4,74.7 1212.3,76.9 1213.3,78.3 1214.3,75.9 1215.3,75.2 1216.3,75.7 1217.3,76.6 1218.3,74.3 1219.3,74.8 1220.3,77.1 1221.3,76.5 1222.2,76.8 1223.2,77.0 1224.2,79.0 1225.2,80.4 1226.2,87.3 1227.2,92.8 1228.2,91.8 1229.2,94.1 1230.2,93.1 1231.2,93.2 1232.1,92.6 1233.1,92.8 1234.1,94.4 1235.1,93.1 1236.1,92.3 1237.1,92.6 1238.1,92.1 1239.1,92.8 1240.1,91.8 1241.0,90.7 1242.0,91.8 1243.0,89.7 1244.0,87.5 1245.0,88.5 1246.0,88.3 1247.0,88.3 1248.0,88.8 1249.0,86.2 1250.0,86.5 1250.9,89.5 1251.9,87.8 1252.9,86.5 1253.9,89.1 1254.9,87.5 1255.9,87.8 1256.9,88.7 1257.9,89.2"/>
<path stroke="#9E480E" stroke-width="3.3" d="M1257.9,89.2L1258.9,99.6V387.5"/>
<path stroke="#548235" d="M94.1,493.6 95.1,493.2 96.1,492.1 97.1,492.7 98.1,491.3 99.0,490.3 100.0,492.6 101.0,490.8 102.0,489.3 103.0,487.0 104.0,488.7 105.0,487.4 106.0,488.3 107.0,486.5 108.0,484.4 108.9,485.0 109.9,487.7 110.9,487.2 111.9,487.2 112.9,485.9 113.9,486.3 114.9,482.5 115.9,483.4 116.9,480.9 117.9,482.2 118.8,482.0 119.8,481.8 120.8,480.7 121.8,480.1 122.8,479.5 123.8,480.1 124.8,480.6 125.8,479.0 126.8,477.7 127.7,477.5 128.7,478.8 129.7,476.5 130.7,477.1 131.7,478.0 132.7,476.1 133.7,476.9 134.7,474.0 135.7,474.2 136.7,475.2 137.6,474.7 138.6,473.9 139.6,474.0 140.6,474.1 141.6,471.2 142.6,472.7 143.6,472.6 144.6,473.3 145.6,470.5 146.5,469.9 147.5,469.2 148.5,470.4 149.5,468.0 150.5,469.5 151.5,469.3 152.5,468.1 153.5,467.5 154.5,466.2 155.5,463.8 156.4,465.5 157.4,464.0 158.4,464.0 159.4,465.2 160.4,466.0 161.4,464.1 162.4,464.6 163.4,464.1 164.4,462.7 165.4,462.8 166.3,461.2 167.3,463.4 168.3,462.4 169.3,458.1 170.3,458.8 171.3,459.2 172.3,458.6 173.3,460.3 174.3,460.0 175.2,457.6 176.2,460.0 177.2,457.3 178.2,459.5 179.2,455.8 180.2,455.6 181.2,455.9 182.2,455.1 183.2,454.6 184.2,455.2 185.1,455.5 186.1,454.2 187.1,452.7 188.1,453.6 189.1,452.4 190.1,450.3 191.1,451.5 192.1,451.5 193.1,452.5 194.0,449.0 195.0,449.9 196.0,449.8 197.0,450.4 198.0,447.7 199.0,447.9 200.0,447.2 201.0,447.1 202.0,447.7 203.0,445.9 203.9,445.1 204.9,445.7 205.9,445.3 206.9,444.1 207.9,443.8 208.9,441.4 209.9,440.2 210.9,442.2 211.9,442.4 212.9,440.2 213.8,440.0 214.8,439.8 215.8,439.5 216.8,438.1 217.8,438.0 218.8,437.5 219.8,436.6 220.8,439.4 221.8,436.7 222.7,435.8 223.7,435.5 224.7,435.5 225.7,436.1 226.7,436.4 227.7,434.0 228.7,434.7 229.7,431.5 230.7,431.3 231.7,431.7 232.6,429.9 233.6,430.0 234.6,430.2 235.6,428.0 236.6,428.5 237.6,428.3 238.6,427.4 239.6,427.0 240.6,426.4 241.6,426.9 242.5,426.4 243.5,425.2 244.5,424.9 245.5,424.1 246.5,425.5 247.5,424.3 248.5,424.0 249.5,422.8 250.5,421.6 251.4,422.0 252.4,421.3 253.4,420.8 254.4,419.9 255.4,419.8 256.4,419.7 257.4,419.4 258.4,418.7 259.4,416.6 260.4,415.7 261.3,416.2 262.3,416.8 263.3,415.7 264.3,414.6 265.3,416.5 266.3,415.1 267.3,412.4 268.3,413.3 269.3,414.2 270.2,413.2 271.2,414.1 272.2,412.2 273.2,411.4 274.2,410.7 275.2,410.1 276.2,409.6 277.2,408.1 278.2,408.0 279.2,408.1 280.1,407.4 281.1,408.7 282.1,406.4 283.1,403.4 284.1,403.2 285.1,403.2 286.1,404.1 287.1,402.9 288.1,399.9 289.1,401.1 290.0,400.9 291.0,398.8 292.0,397.2 293.0,397.1 294.0,395.8 295.0,397.3 296.0,394.8 297.0,395.7 298.0,394.4 298.9,396.0 299.9,393.5 300.9,393.2 301.9,392.0 302.9,392.7 303.9,393.1 304.9,391.4 305.9,389.6 306.9,389.9 307.9,389.7 308.8,389.0 309.8,386.4 310.8,387.0 311.8,387.7 312.8,384.5 313.8,384.7 314.8,383.8 315.8,384.9 316.8,383.1 317.7,381.5 318.7,380.2 319.7,379.9 320.7,378.4 321.7,378.4 322.7,378.4 323.7,378.5 324.7,375.0 325.7,374.5 326.7,371.8 327.6,371.2 328.6,372.8 329.6,370.8 330.6,370.0 331.6,368.9 332.6,370.1 333.6,369.0 334.6,368.0 335.6,365.6 336.6,365.6 337.5,366.1 338.5,365.3 339.5,363.7 340.5,363.7 341.5,362.6 342.5,360.7 343.5,358.7 344.5,358.3 345.5,358.0 346.4,358.2 347.4,357.5 348.4,357.6 349.4,354.6 350.4,353.5 351.4,353.3 352.4,349.6 353.4,350.6 354.4,348.6 355.4,348.8 356.3,347.8 357.3,348.6 358.3,346.6 359.3,344.9 360.3,346.9 361.3,343.1 362.3,344.2 363.3,342.8 364.3,342.0 365.3,339.8 366.2,339.0 367.2,339.4 368.2,338.6 369.2,336.7 370.2,336.6 371.2,336.0 372.2,335.0 373.2,332.7 374.2,333.9 375.1,333.3 376.1,330.5 377.1,330.3 378.1,330.3 379.1,327.5 380.1,327.7 381.1,327.3 382.1,326.8 383.1,323.3 384.1,323.5 385.0,321.2 386.0,320.8 387.0,321.2 388.0,318.2 389.0,318.6 390.0,317.0 391.0,317.9 392.0,317.4 393.0,315.7 393.9,315.1 394.9,312.5 395.9,311.9 396.9,312.6 397.9,310.7 398.9,312.3 399.9,309.5 400.9,308.3 401.9,308.8 402.9,308.1 403.8,306.1 404.8,305.6 405.8,302.6 406.8,303.9 407.8,301.9 408.8,299.8 409.8,298.8 410.8,298.7 411.8,298.9 412.8,297.9 413.7,296.4 414.7,296.0 415.7,294.9 416.7,294.6 417.7,293.4 418.7,290.5 419.7,289.9 420.7,292.0 421.7,288.8 422.6,287.0 423.6,287.7 424.6,287.1 425.6,285.4 426.6,284.2 427.6,282.9 428.6,282.6 429.6,278.7 430.6,280.3 431.6,277.9 432.5,276.8 433.5,276.4 434.5,275.0 435.5,273.3 436.5,274.0 437.5,271.7 438.5,270.6 439.5,271.2 440.5,272.3 441.4,269.2 442.4,268.0 443.4,268.1 444.4,267.1 445.4,264.5 446.4,264.8 447.4,263.7 448.4,263.8 449.4,262.9 450.4,262.2 451.3,260.6 452.3,260.0 453.3,258.6 454.3,258.1 455.3,256.8 456.3,255.7 457.3,255.2 458.3,255.2 459.3,255.3 460.3,254.8 461.2,251.9 462.2,251.2 463.2,250.7 464.2,250.5 465.2,248.5 466.2,248.2 467.2,245.9 468.2,245.9 469.2,246.0 470.1,245.2 471.1,243.4 472.1,239.9 473.1,240.8 474.1,241.2 475.1,239.5 476.1,237.6 477.1,236.2 478.1,235.1 479.1,234.1 480.0,233.6 481.0,232.7 482.0,232.7 483.0,230.6 484.0,229.9 485.0,227.0 486.0,228.9 487.0,225.5 488.0,226.5 489.0,224.6 489.9,224.7 490.9,222.0 491.9,221.6 492.9,221.3 493.9,219.1 494.9,219.3 495.9,219.2 496.9,219.2 497.9,217.3 498.8,216.4 499.8,216.7 500.8,215.3 501.8,213.6 502.8,213.9 503.8,210.6 504.8,212.2 505.8,211.3 506.8,209.8 507.8,206.9 508.7,207.7 509.7,208.2 510.7,208.7 511.7,207.1 512.7,206.5 513.7,203.9 514.7,204.4 515.7,204.2 516.7,202.7 517.6,201.3 518.6,202.7 519.6,201.2 520.6,199.8 521.6,197.9 522.6,196.2 523.6,196.4 524.6,196.4 525.6,196.7 526.6,194.3 527.5,196.1 528.5,194.4 529.5,192.8 530.5,192.7 531.5,193.1 532.5,191.6 533.5,191.5 534.5,191.4 535.5,190.0 536.5,189.4 537.4,185.4 538.4,187.7 539.4,185.8 540.4,187.4 541.4,184.3 542.4,184.0 543.4,184.4 544.4,184.3 545.4,183.1 546.3,183.9 547.3,180.8 548.3,181.6 549.3,178.2 550.3,177.5 551.3,177.2 552.3,176.8 553.3,176.2 554.3,177.7 555.3,175.9 556.2,174.3 557.2,173.6 558.2,171.9 559.2,171.3 560.2,171.5 561.2,170.7 562.2,169.1 563.2,169.6 564.2,169.1 565.1,168.9 566.1,168.7 567.1,167.8 568.1,166.1 569.1,166.7 570.1,165.2 571.1,165.1 572.1,163.7 573.1,161.9 574.1,161.0 575.0,160.3 576.0,161.3 577.0,160.8 578.0,159.7 579.0,160.0 580.0,156.9 581.0,158.8 582.0,156.8 583.0,157.9 584.0,156.9 584.9,155.7 585.9,154.5 586.9,154.3 587.9,151.8 588.9,151.6 589.9,150.3 590.9,153.0 591.9,150.5 592.9,148.4 593.8,148.1 594.8,149.6 595.8,149.5 596.8,148.8 597.8,146.6 598.8,147.6 599.8,146.7 600.8,144.6 601.8,145.3 602.8,144.6 603.7,144.4 604.7,141.4 605.7,142.4 606.7,140.9 607.7,140.8 608.7,139.6 609.7,139.0 610.7,138.9 611.7,138.1 612.7,138.8 613.6,137.2 614.6,136.6 615.6,135.4 616.6,137.2 617.6,134.7 618.6,134.4 619.6,134.6 620.6,133.7 621.6,132.1 622.5,131.0 623.5,129.5 624.5,131.1 625.5,131.1 626.5,130.1 627.5,128.1 628.5,127.9 629.5,128.5 630.5,127.0 631.5,126.5 632.4,125.9 633.4,125.5 634.4,125.9 635.4,125.3 636.4,122.7 637.4,123.6 638.4,122.5 639.4,123.7 640.4,123.5 641.3,123.3 642.3,120.8 643.3,120.3 644.3,119.4 645.3,118.6 646.3,119.2 647.3,119.4 648.3,118.9 649.3,117.9 650.3,116.8 651.2,116.1 652.2,115.2 653.2,116.2 654.2,115.4 655.2,117.0 656.2,114.8 657.2,112.8 658.2,113.7 659.2,112.0 660.2,110.2 661.1,109.6 662.1,111.0 663.1,111.0 664.1,110.1 665.1,109.7 666.1,109.6 667.1,109.3 668.1,108.3 669.1,107.5 670.0,107.5 671.0,107.3 672.0,106.3 673.0,105.8 674.0,105.6 675.0,106.3 676.0,106.5 677.0,105.4 678.0,107.3 679.0,105.5 679.9,104.8 680.9,103.3 681.9,104.4 682.9,104.2 683.9,101.8 684.9,101.2 685.9,102.3 686.9,101.0 687.9,100.9 688.8,101.4 689.8,101.3 690.8,100.4 691.8,99.3 692.8,98.6 693.8,97.5 694.8,97.9 695.8,98.7 696.8,99.2 697.8,98.0 698.7,97.0 699.7,96.6 700.7,97.4 701.7,94.1 702.7,93.9 703.7,94.8 704.7,95.3 705.7,95.4 706.7,93.5 707.7,94.1 708.6,93.0 709.6,93.1 710.6,94.1 711.6,92.9 712.6,92.5 713.6,92.5 714.6,92.0 715.6,92.5 716.6,91.3 717.5,90.9 718.5,90.1 719.5,90.8 720.5,88.5 721.5,88.1 722.5,89.3 723.5,87.9 724.5,87.9 725.5,87.3 726.5,85.7 727.4,86.4 728.4,87.6 729.4,84.9 730.4,85.9 731.4,85.1 732.4,86.2 733.4,84.0 734.4,85.2 735.4,85.4 736.4,85.7 737.3,84.3 738.3,81.7 739.3,83.4 740.3,82.2 741.3,82.3 742.3,80.5 743.3,80.5 744.3,81.7 745.3,81.7 746.2,81.3 747.2,80.9 748.2,79.2 749.2,79.0 750.2,80.2 751.2,79.3 752.2,78.4 753.2,79.4 754.2,77.1 755.2,75.5 756.1,76.9 757.1,75.0 758.1,75.4 759.1,75.4 760.1,74.6 761.1,74.4 762.1,72.6 763.1,74.0 764.1,72.8 765.0,72.8 766.0,73.1 767.0,74.0 768.0,71.7 769.0,71.4 770.0,69.9 771.0,70.1 772.0,69.9 773.0,69.8 774.0,72.3 774.9,68.7 775.9,68.1 776.9,68.3 777.9,67.7 778.9,66.0 779.9,68.2 780.9,66.6 781.9,67.2 782.9,66.5 783.9,66.4 784.8,68.4 785.8,66.4 786.8,65.0 787.8,65.1 788.8,64.4 789.8,65.3 790.8,65.0 791.8,64.8 792.8,64.9 793.7,62.1 794.7,62.8 795.7,63.2 796.7,61.7 797.7,63.4 798.7,64.2 799.7,61.7 800.7,63.1 801.7,61.5 802.7,61.5 803.6,62.0 804.6,61.3 805.6,60.6 806.6,60.1 807.6,60.1 808.6,60.0 809.6,60.7 810.6,60.6 811.6,59.9 812.5,59.6 813.5,58.1 814.5,58.2 815.5,58.9 816.5,56.6 817.5,59.3 818.5,55.4 819.5,57.1 820.5,57.5 821.5,57.4 822.4,58.6 823.4,55.7 824.4,56.3 825.4,55.6 826.4,54.2 827.4,54.7 828.4,54.1 829.4,54.4 830.4,56.1 831.4,53.1 832.3,54.7 833.3,56.6 834.3,54.6 835.3,55.1 836.3,52.5 837.3,54.0 838.3,51.8 839.3,53.1 840.3,51.9 841.2,52.3 842.2,52.3 843.2,52.5 844.2,51.2 845.2,51.7 846.2,52.1 847.2,49.6 848.2,49.4 849.2,48.9 850.2,50.0 851.1,50.6 852.1,51.5 853.1,51.2 854.1,50.7 855.1,51.0 856.1,49.5 857.1,49.2 858.1,49.1 859.1,48.8 860.1,50.1 861.0,49.1 862.0,48.6 863.0,48.5 864.0,49.6 865.0,49.1 866.0,48.4 867.0,48.0 868.0,49.1 869.0,46.7 869.9,46.0 870.9,46.7 871.9,45.7 872.9,47.2 873.9,46.8 874.9,46.1 875.9,46.3 876.9,46.0 877.9,46.9 878.9,45.3 879.8,45.2 880.8,46.1 881.8,48.1 882.8,45.7 883.8,45.8 884.8,44.3 885.8,44.7 886.8,45.0 887.8,44.1 888.7,45.5 889.7,44.3 890.7,43.9 891.7,45.1 892.7,43.5 893.7,43.5 894.7,42.3 895.7,42.3 896.7,44.0 897.7,44.4 898.6,45.7 899.6,42.6 900.6,41.7 901.6,42.1 902.6,43.0 903.6,42.9 904.6,43.6 905.6,43.8 906.6,42.8 907.6,41.5 908.5,41.1 909.5,41.8 910.5,41.6 911.5,42.0 912.5,40.8 913.5,40.2 914.5,39.5 915.5,40.1 916.5,40.8 917.4,40.5 918.4,38.4 919.4,39.3 920.4,39.4 921.4,38.8 922.4,38.8 923.4,40.1 924.4,37.8 925.4,39.7 926.4,40.2 927.3,38.6 928.3,36.3 929.3,40.0 930.3,37.5 931.3,36.3 932.3,36.8 933.3,37.0 934.3,36.8 935.3,37.7 936.2,36.9 937.2,39.5 938.2,40.2 939.2,40.4 940.2,40.7 941.2,41.0 942.2,42.4 943.2,44.4 944.2,46.2"/>
<path stroke="#548235" stroke-width="3.3" d="M944.2,46.2L945.2,56.6V383.3"/>
<path stroke="#997300" d="M94.1,493.6 95.1,493.0 96.1,492.8 97.1,493.1 98.1,491.8 99.0,491.4 100.0,491.8 101.0,491.5 102.0,491.1 103.0,490.1 104.0,489.7 105.0,490.2 106.0,489.0 107.0,489.1 108.0,489.3 108.9,487.8 109.9,486.2 110.9,486.1 111.9,485.5 112.9,484.2 113.9,484.3 114.9,484.5 115.9,484.2 116.9,482.4 117.9,483.6 118.8,483.5 119.8,482.0 120.8,481.2 121.8,482.6 122.8,480.8 123.8,480.8 124.8,480.3 125.8,480.3 126.8,480.0 127.7,478.0 128.7,478.1 129.7,478.9 130.7,478.4 131.7,478.8 132.7,479.3 133.7,477.7 134.7,475.7 135.7,475.3 136.7,476.5 137.6,473.2 138.6,473.8 139.6,475.1 140.6,474.2 141.6,473.8 142.6,473.7 143.6,471.6 144.6,470.7 145.6,471.8 146.5,470.9 147.5,470.5 148.5,470.7 149.5,471.3 150.5,471.0 151.5,469.2 152.5,468.7 153.5,468.6 154.5,468.1 155.5,467.5 156.4,467.7 157.4,468.5 158.4,468.7 159.4,465.6 160.4,465.8 161.4,466.7 162.4,465.9 163.4,464.5 164.4,463.2 165.4,463.0 166.3,463.2 167.3,462.9 168.3,463.8 169.3,462.3 170.3,462.6 171.3,461.7 172.3,462.7 173.3,460.6 174.3,460.8 175.2,459.1 176.2,460.8 177.2,458.6 178.2,458.4 179.2,458.8 180.2,457.7 181.2,458.2 182.2,456.0 183.2,458.1 184.2,454.1 185.1,456.4 186.1,456.9 187.1,457.0 188.1,454.6 189.1,454.6 190.1,454.8 191.1,454.5 192.1,454.6 193.1,452.3 194.0,451.7 195.0,451.3 196.0,452.7 197.0,450.9 198.0,451.3 199.0,450.4 200.0,450.6 201.0,449.0 202.0,447.6 203.0,448.2 203.9,447.4 204.9,447.1 205.9,447.4 206.9,445.9 207.9,446.5 208.9,445.2 209.9,444.2 210.9,442.7 211.9,444.1 212.9,442.0 213.8,440.6 214.8,441.4 215.8,440.9 216.8,440.3 217.8,439.8 218.8,440.1 219.8,439.1 220.8,441.6 221.8,440.1 222.7,438.3 223.7,436.5 224.7,437.8 225.7,437.6 226.7,436.8 227.7,434.7 228.7,435.5 229.7,433.6 230.7,431.8 231.7,432.4 232.6,431.1 233.6,430.8 234.6,429.8 235.6,431.4 236.6,431.6 237.6,429.5 238.6,428.0 239.6,429.6 240.6,428.3 241.6,429.1 242.5,428.2 243.5,428.9 244.5,427.5 245.5,427.5 246.5,424.8 247.5,425.1 248.5,423.6 249.5,422.3 250.5,425.3 251.4,422.1 252.4,422.7 253.4,422.2 254.4,422.5 255.4,423.4 256.4,422.5 257.4,421.2 258.4,421.7 259.4,420.0 260.4,418.9 261.3,419.7 262.3,418.9 263.3,416.5 264.3,418.2 265.3,415.9 266.3,417.3 267.3,414.5 268.3,414.7 269.3,415.0 270.2,414.1 271.2,411.5 272.2,413.4 273.2,413.0 274.2,410.3 275.2,409.6 276.2,410.1 277.2,408.8 278.2,409.0 279.2,407.9 280.1,407.9 281.1,407.1 282.1,406.3 283.1,406.3 284.1,405.4 285.1,404.3 286.1,403.9 287.1,404.7 288.1,402.7 289.1,399.9 290.0,400.5 291.0,400.4 292.0,400.6 293.0,401.1 294.0,399.6 295.0,399.5 296.0,397.7 297.0,399.1 298.0,396.8 298.9,396.8 299.9,395.7 300.9,395.6 301.9,394.1 302.9,396.1 303.9,394.2 304.9,392.9 305.9,391.1 306.9,391.7 307.9,391.3 308.8,390.6 309.8,389.1 310.8,388.9 311.8,389.4 312.8,388.4 313.8,388.1 314.8,386.8 315.8,386.0 316.8,384.1 317.7,384.1 318.7,384.5 319.7,383.0 320.7,383.1 321.7,382.1 322.7,381.0 323.7,379.7 324.7,379.1 325.7,377.6 326.7,376.1 327.6,375.1 328.6,373.7 329.6,374.8 330.6,374.5 331.6,373.6 332.6,371.8 333.6,371.6 334.6,370.8 335.6,371.2 336.6,369.6 337.5,367.2 338.5,368.5 339.5,367.5 340.5,366.2 341.5,364.4 342.5,364.6 343.5,362.3 344.5,361.1 345.5,359.8 346.4,359.9 347.4,359.6 348.4,359.7 349.4,358.1 350.4,357.2 351.4,358.4 352.4,355.7 353.4,354.5 354.4,353.2 355.4,350.6 356.3,351.6 357.3,350.7 358.3,349.5 359.3,349.6 360.3,348.5 361.3,349.4 362.3,348.2 363.3,346.6 364.3,346.8 365.3,343.3 366.2,342.5 367.2,341.6 368.2,341.2 369.2,343.0 370.2,339.1 371.2,338.7 372.2,335.9 373.2,335.9 374.2,337.2 375.1,336.9 376.1,334.5 377.1,333.0 378.1,331.7 379.1,329.0 380.1,327.6 381.1,327.6 382.1,327.2 383.1,327.1 384.1,325.5 385.0,327.1 386.0,323.9 387.0,323.3 388.0,320.9 389.0,323.3 390.0,320.2 391.0,319.2 392.0,319.0 393.0,316.5 393.9,318.0 394.9,317.9 395.9,316.5 396.9,313.9 397.9,312.9 398.9,314.2 399.9,311.8 400.9,308.6 401.9,310.6 402.9,310.2 403.8,308.7 404.8,307.0 405.8,307.3 406.8,305.5 407.8,304.9 408.8,304.1 409.8,305.6 410.8,303.4 411.8,302.8 412.8,300.9 413.7,303.7 414.7,299.1 415.7,297.8 416.7,299.2 417.7,296.9 418.7,297.5 419.7,297.0 420.7,293.9 421.7,292.3 422.6,292.8 423.6,290.8 424.6,291.5 425.6,289.0 426.6,288.7 427.6,287.0 428.6,286.1 429.6,286.2 430.6,285.9 431.6,284.3 432.5,283.1 433.5,281.5 434.5,282.7 435.5,281.4 436.5,281.1 437.5,278.2 438.5,280.3 439.5,278.7 440.5,276.5 441.4,275.9 442.4,275.9 443.4,274.2 444.4,272.6 445.4,272.5 446.4,271.3 447.4,271.1 448.4,267.9 449.4,269.0 450.4,268.1 451.3,268.3 452.3,267.9 453.3,266.5 454.3,264.2 455.3,264.3 456.3,262.7 457.3,263.0 458.3,263.3 459.3,260.8 460.3,260.5 461.2,259.4 462.2,258.2 463.2,256.9 464.2,256.2 465.2,255.9 466.2,256.4 467.2,254.3 468.2,254.3 469.2,253.0 470.1,252.6 471.1,252.6 472.1,250.1 473.1,247.6 474.1,248.0 475.1,248.4 476.1,248.1 477.1,245.6 478.1,245.8 479.1,245.6 480.0,243.6 481.0,242.5 482.0,241.3 483.0,240.0 484.0,240.4 485.0,239.0 486.0,237.4 487.0,236.7 488.0,234.8 489.0,235.5 489.9,235.1 490.9,234.7 491.9,232.1 492.9,231.9 493.9,230.7 494.9,231.1 495.9,229.8 496.9,228.9 497.9,228.0 498.8,228.1 499.8,226.7 500.8,226.7 501.8,224.0 502.8,225.3 503.8,224.0 504.8,225.0 505.8,225.3 506.8,223.6 507.8,220.2 508.7,218.6 509.7,219.3 510.7,219.1 511.7,219.7 512.7,217.0 513.7,216.4 514.7,216.0 515.7,214.9 516.7,214.8 517.6,211.4 518.6,214.0 519.6,212.0 520.6,211.5 521.6,210.5 522.6,210.0 523.6,209.7 524.6,210.0 525.6,208.4 526.6,208.1 527.5,207.4 528.5,206.8 529.5,207.0 530.5,205.7 531.5,205.0 532.5,202.4 533.5,201.9 534.5,203.2 535.5,201.1 536.5,202.3 537.4,201.4 538.4,198.9 539.4,199.2 540.4,198.0 541.4,197.0 542.4,197.7 543.4,195.2 544.4,195.1 545.4,195.1 546.3,192.9 547.3,192.3 548.3,190.4 549.3,190.2 550.3,189.8 551.3,190.5 552.3,188.8 553.3,188.8 554.3,187.9 555.3,186.4 556.2,186.9 557.2,184.3 558.2,184.1 559.2,184.7 560.2,183.3 561.2,182.3 562.2,181.6 563.2,182.0 564.2,182.7 565.1,181.4 566.1,180.1 567.1,179.4 568.1,179.4 569.1,177.9 570.1,177.2 571.1,176.0 572.1,175.5 573.1,174.6 574.1,176.5 575.0,174.2 576.0,176.3 577.0,173.7 578.0,172.5 579.0,173.0 580.0,170.4 581.0,169.6 582.0,170.0 583.0,168.7 584.0,167.9 584.9,170.6 585.9,168.4 586.9,167.4 587.9,164.2 588.9,166.6 589.9,165.4 590.9,162.9 591.9,163.8 592.9,163.5 593.8,160.1 594.8,162.4 595.8,161.8 596.8,161.5 597.8,163.7 598.8,162.6 599.8,162.3 600.8,161.3 601.8,160.4 602.8,158.5 603.7,157.7 604.7,157.0 605.7,157.3 606.7,157.5 607.7,158.1 608.7,160.4 609.7,155.9 610.7,155.5 611.7,155.7 612.7,155.5 613.6,154.8 614.6,154.6 615.6,154.2 616.6,153.3 617.6,153.7 618.6,154.0 619.6,153.1 620.6,152.6 621.6,151.3 622.5,150.8 623.5,150.8 624.5,147.1 625.5,149.2 626.5,149.4 627.5,148.9 628.5,147.4 629.5,147.1 630.5,147.6 631.5,147.8 632.4,144.3 633.4,146.3 634.4,146.2 635.4,145.0 636.4,144.5 637.4,143.9 638.4,144.5 639.4,142.5 640.4,142.8 641.3,141.4 642.3,141.9 643.3,140.8 644.3,141.0 645.3,139.7 646.3,139.4 647.3,140.6 648.3,139.4 649.3,138.0 650.3,138.8 651.2,137.8 652.2,138.6 653.2,138.3 654.2,136.3 655.2,137.4 656.2,137.9 657.2,136.6 658.2,135.8 659.2,135.1 660.2,134.9 661.1,134.2 662.1,132.9 663.1,132.8 664.1,134.1 665.1,134.0 666.1,131.2 667.1,131.6 668.1,131.2 669.1,131.7 670.0,130.7 671.0,130.6 672.0,131.5 673.0,129.0 674.0,130.5 675.0,129.1 676.0,129.2 677.0,128.3 678.0,127.9 679.0,128.6 679.9,126.5 680.9,126.3 681.9,127.4 682.9,127.0 683.9,126.1 684.9,124.5 685.9,125.3 686.9,125.3 687.9,123.3 688.8,124.2 689.8,124.3 690.8,122.8 691.8,123.9 692.8,121.0 693.8,121.1 694.8,120.8 695.8,119.4 696.8,121.1 697.8,120.7 698.7,118.6 699.7,121.8 700.7,120.1 701.7,119.4 702.7,118.8 703.7,117.9 704.7,119.3 705.7,119.8 706.7,118.6 707.7,119.8 708.6,117.4 709.6,116.9 710.6,118.7 711.6,117.0 712.6,117.2 713.6,114.9 714.6,115.4 715.6,114.4 716.6,115.5 717.5,114.0 718.5,113.2 719.5,114.4 720.5,113.6 721.5,112.5 722.5,112.5 723.5,114.1 724.5,112.7 725.5,111.9 726.5,112.6 727.4,111.0 728.4,112.7 729.4,110.1 730.4,110.7 731.4,109.3 732.4,110.1 733.4,109.8 734.4,109.3 735.4,107.1 736.4,108.5 737.3,109.0 738.3,107.7 739.3,108.0 740.3,106.6 741.3,106.7 742.3,107.2 743.3,106.2 744.3,105.5 745.3,106.7 746.2,108.3 747.2,106.5 748.2,105.8 749.2,106.2 750.2,103.7 751.2,104.6 752.2,104.8 753.2,107.0 754.2,105.0 755.2,106.2 756.1,104.8 757.1,103.4 758.1,103.8 759.1,102.5 760.1,103.0 761.1,102.4 762.1,103.7 763.1,102.5 764.1,103.3 765.0,101.8 766.0,99.9 767.0,100.8 768.0,102.8 769.0,102.0 770.0,101.7 771.0,100.6 772.0,99.8 773.0,100.0 774.0,98.4 774.9,99.0 775.9,97.8 776.9,98.8 777.9,98.5 778.9,98.8 779.9,98.6 780.9,98.9 781.9,97.3 782.9,98.1 783.9,97.0 784.8,97.1 785.8,97.1 786.8,96.1 787.8,96.9 788.8,96.8 789.8,98.7 790.8,97.2 791.8,96.5 792.8,95.5 793.7,94.9 794.7,95.5 795.7,97.6 796.7,94.5 797.7,94.5 798.7,95.3 799.7,94.7 800.7,92.9 801.7,93.4 802.7,92.6 803.6,93.5 804.6,92.9 805.6,92.0 806.6,93.0 807.6,92.8 808.6,92.4 809.6,91.9 810.6,93.2 811.6,90.8 812.5,89.7 813.5,90.4 814.5,89.9 815.5,90.7 816.5,91.3 817.5,89.5 818.5,88.6 819.5,88.3 820.5,89.9 821.5,87.7 822.4,87.9 823.4,88.5 824.4,87.7 825.4,87.6 826.4,88.4 827.4,87.4 828.4,85.8 829.4,87.4 830.4,87.1 831.4,87.9 832.3,87.2 833.3,86.6 834.3,84.3 835.3,84.7 836.3,85.4 837.3,83.9 838.3,84.2 839.3,85.9 840.3,84.3 841.2,84.2 842.2,85.1 843.2,84.4 844.2,84.3 845.2,86.3 846.2,84.4 847.2,83.8 848.2,83.6 849.2,85.0 850.2,86.3 851.1,83.4 852.1,84.6 853.1,83.0 854.1,84.6 855.1,83.3 856.1,84.3 857.1,82.9 858.1,81.1 859.1,82.7 860.1,83.6 861.0,85.1 862.0,84.2 863.0,82.7 864.0,81.4 865.0,81.7 866.0,82.3 867.0,82.9 868.0,83.3 869.0,79.7 869.9,78.7 870.9,81.6 871.9,80.7 872.9,82.6 873.9,81.3 874.9,81.8 875.9,79.4 876.9,76.6 877.9,80.0 878.9,78.1 879.8,77.6 880.8,78.1 881.8,80.0 882.8,78.5 883.8,79.8 884.8,79.2 885.8,81.5 886.8,82.0 887.8,81.3 888.7,82.5 889.7,81.9 890.7,81.1 891.7,81.5 892.7,83.1 893.7,82.6 894.7,83.1 895.7,86.4"/>
<path stroke="#997300" stroke-width="3.3" d="M895.7,86.4L896.4,96.8V316.7"/>
<path stroke="#255E91" d="M94.1,494.3 95.1,493.8 96.1,493.0 97.1,492.9 98.1,493.6 99.0,492.4 100.0,491.3 101.0,490.2 102.0,489.0 103.0,491.6 104.0,490.9 105.0,490.0 106.0,488.4 107.0,488.8 108.0,488.8 108.9,488.1 109.9,488.5 110.9,487.7 111.9,486.4 112.9,486.2 113.9,487.2 114.9,487.5 115.9,484.4 116.9,483.2 117.9,484.2 118.8,484.0 119.8,482.7 120.8,482.0 121.8,481.2 122.8,480.1 123.8,481.0 124.8,483.2 125.8,480.5 126.8,480.7 127.7,481.8 128.7,479.3 129.7,477.6 130.7,479.1 131.7,478.0 132.7,477.1 133.7,477.0 134.7,476.2 135.7,476.7 136.7,476.5 137.6,475.9 138.6,475.1 139.6,475.0 140.6,475.7 141.6,475.1 142.6,473.8 143.6,473.5 144.6,473.6 145.6,472.6 146.5,472.9 147.5,470.5 148.5,471.4 149.5,468.4 150.5,469.9 151.5,471.5 152.5,469.3 153.5,469.8 154.5,469.6 155.5,468.9 156.4,466.7 157.4,467.7 158.4,468.6 159.4,468.9 160.4,467.5 161.4,466.7 162.4,466.7 163.4,465.6 164.4,465.7 165.4,465.1 166.3,467.1 167.3,463.3 168.3,465.2 169.3,463.8 170.3,463.3 171.3,462.5 172.3,461.5 173.3,461.3 174.3,460.1 175.2,462.1 176.2,459.5 177.2,460.2 178.2,458.7 179.2,458.9 180.2,458.1 181.2,457.8 182.2,456.4 183.2,458.7 184.2,457.8 185.1,456.4 186.1,456.6 187.1,454.2 188.1,456.4 189.1,453.7 190.1,455.2 191.1,456.4 192.1,453.6 193.1,455.7 194.0,453.9 195.0,452.0 196.0,451.5 197.0,451.4 198.0,452.0 199.0,451.4 200.0,452.3 201.0,451.2 202.0,451.0 203.0,450.6 203.9,448.4 204.9,449.2 205.9,449.3 206.9,449.1 207.9,446.6 208.9,447.2 209.9,446.6 210.9,446.0 211.9,445.9 212.9,444.6 213.8,444.2 214.8,445.0 215.8,444.4 216.8,444.1 217.8,442.8 218.8,440.1 219.8,441.6 220.8,440.1 221.8,441.3 222.7,440.0 223.7,438.6 224.7,438.8 225.7,438.1 226.7,436.3 227.7,438.6 228.7,436.7 229.7,435.2 230.7,434.5 231.7,435.5 232.6,435.9 233.6,434.5 234.6,434.6 235.6,434.3 236.6,434.1 237.6,434.6 238.6,431.3 239.6,430.2 240.6,429.5 241.6,430.0 242.5,430.7 243.5,430.6 244.5,429.1 245.5,429.1 246.5,427.2 247.5,428.1 248.5,427.4 249.5,425.6 250.5,427.1 251.4,427.7 252.4,427.2 253.4,424.3 254.4,424.1 255.4,425.5 256.4,423.5 257.4,423.6 258.4,421.6 259.4,422.0 260.4,422.0 261.3,421.7 262.3,420.7 263.3,418.9 264.3,420.9 265.3,419.0 266.3,420.4 267.3,419.2 268.3,419.8 269.3,418.0 270.2,419.2 271.2,416.3 272.2,416.3 273.2,417.2 274.2,416.5 275.2,417.0 276.2,414.6 277.2,414.7 278.2,412.9 279.2,414.6 280.1,412.1 281.1,412.2 282.1,409.8 283.1,410.5 284.1,409.9 285.1,408.9 286.1,408.4 287.1,409.7 288.1,408.0 289.1,407.1 290.0,407.0 291.0,408.3 292.0,406.3 293.0,406.1 294.0,404.4 295.0,404.8 296.0,404.4 297.0,403.6 298.0,402.7 298.9,402.6 299.9,403.5 300.9,403.0 301.9,400.4 302.9,399.6 303.9,399.8 304.9,397.6 305.9,399.2 306.9,397.3 307.9,398.8 308.8,397.9 309.8,396.1 310.8,395.7 311.8,393.9 312.8,394.9 313.8,394.9 314.8,392.5 315.8,391.4 316.8,393.5 317.7,394.4 318.7,393.2 319.7,389.2 320.7,390.9 321.7,388.2 322.7,387.6 323.7,387.1 324.7,384.7 325.7,385.3 326.7,381.7 327.6,381.9 328.6,381.8 329.6,383.0 330.6,381.9 331.6,380.1 332.6,380.1 333.6,379.7 334.6,378.4 335.6,377.1 336.6,375.5 337.5,375.2 338.5,373.5 339.5,373.3 340.5,370.6 341.5,370.8 342.5,370.4 343.5,370.4 344.5,369.8 345.5,369.2 346.4,367.8 347.4,369.1 348.4,367.7 349.4,366.1 350.4,365.1 351.4,365.0 352.4,363.1 353.4,360.9 354.4,362.2 355.4,359.9 356.3,360.7 357.3,359.5 358.3,357.1 359.3,356.2 360.3,356.4 361.3,355.7 362.3,352.5 363.3,355.5 364.3,352.2 365.3,353.0 366.2,353.5 367.2,349.6 368.2,350.5 369.2,348.5 370.2,348.4 371.2,346.1 372.2,345.7 373.2,343.3 374.2,344.0 375.1,343.2 376.1,343.1 377.1,339.2 378.1,338.6 379.1,338.1 380.1,337.4 381.1,335.5 382.1,335.0 383.1,334.1 384.1,333.4 385.0,330.1 386.0,331.2 387.0,330.8 388.0,331.2 389.0,328.0 390.0,327.0 391.0,326.4 392.0,325.2 393.0,324.4 393.9,325.5 394.9,325.6 395.9,325.4 396.9,321.8 397.9,322.6 398.9,320.5 399.9,320.9 400.9,322.1 401.9,318.1 402.9,319.3 403.8,318.8 404.8,319.1 405.8,317.7 406.8,318.3 407.8,318.5 408.8,316.8 409.8,314.9 410.8,313.8 411.8,313.9 412.8,313.0 413.7,310.9 414.7,311.8 415.7,311.0 416.7,308.5 417.7,308.3 418.7,306.9 419.7,305.8 420.7,306.0 421.7,304.5 422.6,303.0 423.6,302.5 424.6,301.3 425.6,300.9 426.6,301.6 427.6,299.9 428.6,298.0 429.6,297.8 430.6,296.6 431.6,294.4 432.5,294.5 433.5,294.4 434.5,292.5 435.5,290.5 436.5,291.2 437.5,290.1 438.5,291.5 439.5,288.4 440.5,288.2 441.4,288.4 442.4,285.6 443.4,286.9 444.4,282.9 445.4,285.1 446.4,284.2 447.4,283.9 448.4,284.0 449.4,283.5 450.4,280.4 451.3,279.6 452.3,280.0 453.3,279.8 454.3,280.2 455.3,275.9 456.3,278.3 457.3,276.1 458.3,276.2 459.3,274.4 460.3,273.9 461.2,273.0 462.2,273.5 463.2,271.5 464.2,273.5 465.2,272.3 466.2,272.0 467.2,270.8 468.2,269.6 469.2,268.6 470.1,269.2 471.1,267.3 472.1,266.2 473.1,267.2 474.1,264.5 475.1,263.1 476.1,264.0 477.1,265.3 478.1,261.3 479.1,261.7 480.0,259.3 481.0,259.8 482.0,258.3 483.0,256.9 484.0,256.2 485.0,257.2 486.0,254.2 487.0,254.5 488.0,254.7 489.0,253.6 489.9,254.1 490.9,250.6 491.9,252.3 492.9,251.6 493.9,251.5 494.9,249.0 495.9,249.3 496.9,248.0 497.9,247.9 498.8,248.3 499.8,245.7 500.8,244.6 501.8,244.6 502.8,244.0 503.8,245.3 504.8,243.4 505.8,242.7 506.8,243.9 507.8,244.1 508.7,241.6 509.7,239.9 510.7,239.8 511.7,238.7 512.7,238.5 513.7,239.4 514.7,238.3 515.7,236.6 516.7,238.2 517.6,236.7 518.6,236.9 519.6,234.6 520.6,234.2 521.6,233.8 522.6,232.4 523.6,233.1 524.6,232.4 525.6,232.5 526.6,234.3 527.5,232.1 528.5,230.4 529.5,231.1 530.5,230.1 531.5,228.9 532.5,229.9 533.5,227.6 534.5,227.6 535.5,228.5 536.5,224.5 537.4,226.5 538.4,226.5 539.4,225.8 540.4,225.2 541.4,223.3 542.4,224.3 543.4,224.1 544.4,224.1 545.4,223.0 546.3,222.4 547.3,223.8 548.3,222.5 549.3,222.6 550.3,221.7 551.3,219.5 552.3,220.0 553.3,218.4 554.3,219.3 555.3,220.2 556.2,218.3 557.2,218.0 558.2,216.3 559.2,218.6 560.2,218.3 561.2,217.9 562.2,217.1 563.2,217.2 564.2,216.6 565.1,215.8 566.1,214.5 567.1,216.1 568.1,214.1 569.1,215.3 570.1,214.7 571.1,213.9 572.1,214.3 573.1,213.8 574.1,210.1 575.0,210.4 576.0,211.8 577.0,212.2 578.0,209.8 579.0,210.7 580.0,210.2 581.0,210.8 582.0,210.4 583.0,210.1 584.0,207.9 584.9,209.7 585.9,210.2 586.9,208.5 587.9,207.1 588.9,205.0 589.9,208.5 590.9,208.4 591.9,208.0 592.9,208.4 593.8,207.8 594.8,204.6 595.8,204.9 596.8,205.5 597.8,205.6 598.8,205.4 599.8,205.2 600.8,206.2 601.8,204.3 602.8,204.1 603.7,203.4 604.7,203.6 605.7,204.3 606.7,202.6 607.7,202.7 608.7,202.1 609.7,202.0 610.7,200.4 611.7,202.5 612.7,199.1 613.6,200.9 614.6,202.0 615.6,201.8 616.6,200.2 617.6,200.9 618.6,199.7 619.6,198.9 620.6,198.4 621.6,198.4 622.5,198.5 623.5,198.5 624.5,197.2 625.5,199.4 626.5,198.3 627.5,198.1 628.5,198.7 629.5,198.2 630.5,197.2 631.5,195.6 632.4,195.2 633.4,194.9 634.4,196.2 635.4,195.1 636.4,195.6 637.4,194.8 638.4,196.0 639.4,193.8 640.4,194.9 641.3,193.5 642.3,193.5 643.3,194.6 644.3,195.7 645.3,194.8 646.3,191.7 647.3,192.2 648.3,192.6 649.3,190.6 650.3,189.5 651.2,190.4 652.2,190.2 653.2,189.7 654.2,190.9 655.2,188.4 656.2,187.7 657.2,189.1 658.2,188.1 659.2,189.5 660.2,189.4 661.1,189.2 662.1,186.9 663.1,185.8 664.1,189.6 665.1,186.8 666.1,184.9 667.1,187.3 668.1,185.3 669.1,185.4 670.0,186.0 671.0,184.5 672.0,184.4 673.0,184.3 674.0,183.2 675.0,182.9 676.0,183.9 677.0,183.2 678.0,181.1 679.0,181.3 679.9,182.9 680.9,183.5 681.9,183.9 682.9,183.4 683.9,183.2 684.9,180.9 685.9,180.3 686.9,181.7 687.9,180.3 688.8,181.0 689.8,181.7 690.8,178.9 691.8,178.8 692.8,179.8 693.8,177.4 694.8,178.6 695.8,178.6 696.8,178.3 697.8,179.4 698.7,176.4 699.7,176.9 700.7,177.9 701.7,176.2 702.7,177.4 703.7,175.4 704.7,174.7 705.7,173.4 706.7,173.8 707.7,175.4 708.6,174.6 709.6,172.7 710.6,173.7 711.6,173.6 712.6,174.2 713.6,173.2 714.6,171.3 715.6,174.1 716.6,173.3 717.5,171.1 718.5,170.3 719.5,171.1 720.5,170.7 721.5,172.4 722.5,168.6 723.5,171.1 724.5,170.7 725.5,170.1 726.5,170.1 727.4,169.1 728.4,170.9 729.4,168.0 730.4,167.4 731.4,167.3 732.4,167.8 733.4,167.7 734.4,167.6 735.4,166.4 736.4,166.9 737.3,166.9 738.3,167.2 739.3,167.5 740.3,167.3 741.3,165.9 742.3,165.7 743.3,165.4 744.3,165.8 745.3,166.7 746.2,167.0 747.2,163.6 748.2,163.2 749.2,162.6 750.2,165.0 751.2,164.0 752.2,161.4 753.2,163.1 754.2,162.5 755.2,163.3 756.1,161.0 757.1,161.7 758.1,161.0 759.1,160.5 760.1,161.2 761.1,159.7 762.1,161.2 763.1,161.8 764.1,159.4 765.0,159.9 766.0,157.0 767.0,158.9 768.0,159.3 769.0,159.0 770.0,159.0 771.0,159.1 772.0,157.7 773.0,156.7 774.0,158.0 774.9,157.9 775.9,157.5 776.9,157.6 777.9,155.9 778.9,155.7 779.9,156.0 780.9,156.2 781.9,155.2 782.9,154.4 783.9,156.2 784.8,155.1 785.8,154.5 786.8,155.7 787.8,154.0 788.8,153.5 789.8,154.3 790.8,152.3 791.8,153.9 792.8,152.5 793.7,153.1 794.7,152.6 795.7,152.5 796.7,153.7 797.7,152.1 798.7,151.6 799.7,150.7 800.7,151.1 801.7,149.5 802.7,148.2 803.6,147.8 804.6,149.2 805.6,148.7 806.6,149.0 807.6,148.7 808.6,148.8 809.6,147.6 810.6,149.8 811.6,148.1 812.5,148.3 813.5,149.5 814.5,149.1 815.5,145.8 816.5,146.7 817.5,146.9 818.5,147.0 819.5,146.7 820.5,145.6 821.5,146.6 822.4,142.7 823.4,144.5 824.4,145.2 825.4,145.7 826.4,146.5 827.4,144.9 828.4,144.9 829.4,144.3 830.4,144.4 831.4,142.9 832.3,141.8 833.3,143.2 834.3,143.9 835.3,143.3 836.3,143.9 837.3,144.1 838.3,142.9 839.3,142.9 840.3,144.3 841.2,143.9 842.2,143.0 843.2,143.0 844.2,144.0 845.2,141.3 846.2,141.8 847.2,139.8 848.2,141.3 849.2,138.9 850.2,140.5 851.1,139.9 852.1,139.7 853.1,139.8 854.1,139.5 855.1,138.5 856.1,138.7 857.1,137.8 858.1,137.2 859.1,138.0 860.1,136.7 861.0,139.0 862.0,138.3 863.0,136.7 864.0,135.2 865.0,134.8 866.0,136.4 867.0,136.8 868.0,135.8 869.0,135.6 869.9,136.6 870.9,135.4 871.9,133.7 872.9,132.9 873.9,133.7 874.9,133.1 875.9,132.4 876.9,133.9 877.9,132.2 878.9,130.5 879.8,133.0 880.8,131.2 881.8,130.6 882.8,132.1 883.8,132.9 884.8,130.9 885.8,132.8 886.8,131.3 887.8,130.6 888.7,130.3 889.7,131.7 890.7,130.6 891.7,129.7 892.7,128.7 893.7,128.7 894.7,128.0 895.7,129.3 896.7,127.8 897.7,128.9 898.6,128.0 899.6,129.1 900.6,128.0 901.6,128.9 902.6,130.3 903.6,127.5 904.6,126.8 905.6,127.9 906.6,128.8 907.6,128.0 908.5,128.8 909.5,126.7 910.5,127.8 911.5,125.9 912.5,126.4 913.5,126.0 914.5,126.6 915.5,126.6 916.5,125.2 917.4,124.7 918.4,124.3 919.4,124.6 920.4,124.5 921.4,125.0 922.4,125.5 923.4,123.3 924.4,123.2 925.4,123.9 926.4,123.4 927.3,123.0 928.3,123.1 929.3,122.9 930.3,123.7 931.3,121.6 932.3,123.5 933.3,122.4 934.3,122.2 935.3,122.0 936.2,121.1 937.2,120.9 938.2,120.8 939.2,122.4 940.2,120.9 941.2,121.4 942.2,120.4 943.2,119.1 944.2,120.4 945.2,120.0 946.1,118.8 947.1,119.6 948.1,119.3 949.1,118.0 950.1,118.6 951.1,117.4 952.1,116.8 953.1,118.6 954.1,116.9 955.1,117.7 956.0,118.1 957.0,116.5 958.0,115.4 959.0,115.7 960.0,115.9 961.0,116.3 962.0,116.1 963.0,115.0 964.0,114.1 964.9,115.5 965.9,113.3 966.9,114.4 967.9,113.3 968.9,114.5 969.9,113.1 970.9,112.7 971.9,112.4 972.9,112.6 973.9,111.5 974.8,111.8 975.8,112.1 976.8,112.3 977.8,110.4 978.8,112.0 979.8,111.6 980.8,112.6 981.8,109.5 982.8,111.7 983.8,113.0 984.7,112.2 985.7,112.1 986.7,111.6 987.7,110.9 988.7,110.9 989.7,112.1 990.7,112.4 991.7,112.4 992.7,111.5 993.6,112.0 994.6,110.9 995.6,112.7 996.6,111.7 997.6,113.0 998.6,112.1 999.6,111.6 1000.6,113.7 1001.6,112.3 1002.6,111.9 1003.5,111.2 1004.5,112.2 1005.5,112.5 1006.5,111.8 1007.5,111.1 1008.5,109.0 1009.5,108.8 1010.5,109.0 1011.5,109.1 1012.4,108.3 1013.4,107.6 1014.4,107.2 1015.4,105.9 1016.4,106.9 1017.4,107.4 1018.4,106.2 1019.4,107.6 1020.4,106.8 1021.4,105.6 1022.3,107.8 1023.3,106.2 1024.3,107.6 1025.3,107.7 1026.3,106.2 1027.3,106.9 1028.3,106.2 1029.3,106.6 1030.3,106.1 1031.3,107.6 1032.2,108.3 1033.2,108.1 1034.2,109.1 1035.2,108.0 1036.2,107.2 1037.2,108.2 1038.2,106.8 1039.2,108.3 1040.2,107.7 1041.1,106.7 1042.1,107.6 1043.1,108.5 1044.1,108.7 1045.1,108.7 1046.1,108.6 1047.1,107.4 1048.1,108.9 1049.1,107.9 1050.1,107.2 1051.0,107.6 1052.0,109.0 1053.0,110.7 1054.0,110.1 1055.0,110.9 1056.0,110.6 1057.0,111.1 1058.0,110.7 1059.0,115.1 1059.9,117.2 1060.9,118.5 1061.9,118.5 1062.9,123.3 1063.9,129.1 1064.9,130.8 1065.9,132.2 1066.9,131.5 1067.9,131.0 1068.9,128.3 1069.8,128.1 1070.8,124.9 1071.8,122.0 1072.8,120.6 1073.8,119.7 1074.8,120.2 1075.8,120.5 1076.8,118.9 1077.8,118.4 1078.8,116.4 1079.7,115.9 1080.7,115.2 1081.7,115.4 1082.7,114.1 1083.7,113.6 1084.7,112.5 1085.7,112.2 1086.7,113.2 1087.7,110.3 1088.6,109.5 1089.6,109.1 1090.6,109.2 1091.6,108.8 1092.6,108.6 1093.6,107.6 1094.6,108.1 1095.6,106.4 1096.6,108.9 1097.6,107.4 1098.5,105.0 1099.5,105.5 1100.5,105.1 1101.5,105.4 1102.5,106.4 1103.5,106.6 1104.5,107.6 1105.5,109.8 1106.2,112.1"/>
<path stroke="#255E91" stroke-width="3.3" d="M1106.2,112.1L1107.0,122.5V440.2"/>
<path stroke="#7030A0" d="M94.1,495.7 95.1,495.4 96.1,494.8 97.1,494.7 98.1,493.8 99.0,491.4 100.0,492.2 101.0,491.5 102.0,492.4 103.0,492.3 104.0,490.1 105.0,491.3 106.0,491.0 107.0,489.2 108.0,489.4 108.9,488.0 109.9,488.6 110.9,486.6 111.9,488.8 112.9,487.4 113.9,487.4 114.9,485.6 115.9,486.6 116.9,484.0 117.9,485.2 118.8,483.2 119.8,483.5 120.8,482.1 121.8,481.1 122.8,482.4 123.8,481.5 124.8,480.3 125.8,480.2 126.8,478.6 127.7,478.0 128.7,479.1 129.7,480.4 130.7,478.7 131.7,476.9 132.7,477.7 133.7,477.7 134.7,477.2 135.7,476.1 136.7,474.8 137.6,477.6 138.6,475.2 139.6,475.7 140.6,476.4 141.6,473.7 142.6,474.2 143.6,474.2 144.6,473.4 145.6,473.9 146.5,471.8 147.5,472.1 148.5,469.2 149.5,469.7 150.5,470.4 151.5,469.9 152.5,470.2 153.5,468.2 154.5,467.3 155.5,469.5 156.4,467.4 157.4,466.4 158.4,465.8 159.4,466.5 160.4,466.5 161.4,465.5 162.4,464.2 163.4,464.0 164.4,463.8 165.4,463.9 166.3,463.8 167.3,464.0 168.3,461.9 169.3,462.0 170.3,460.7 171.3,458.2 172.3,461.1 173.3,458.5 174.3,459.9 175.2,459.1 176.2,458.7 177.2,457.6 178.2,456.6 179.2,456.3 180.2,454.5 181.2,455.7 182.2,454.0 183.2,454.7 184.2,454.6 185.1,453.6 186.1,454.3 187.1,451.4 188.1,450.2 189.1,451.5 190.1,452.4 191.1,450.2 192.1,449.9 193.1,448.9 194.0,449.7 195.0,448.4 196.0,447.5 197.0,445.6 198.0,447.6 199.0,445.9 200.0,446.7 201.0,446.0 202.0,443.9 203.0,446.2 203.9,446.2 204.9,444.5 205.9,444.0 206.9,441.4 207.9,443.5 208.9,440.3 209.9,441.6 210.9,440.4 211.9,441.2 212.9,441.7 213.8,440.1 214.8,438.4 215.8,439.1 216.8,439.1 217.8,437.1 218.8,440.4 219.8,437.8 220.8,436.5 221.8,437.3 222.7,436.2 223.7,434.6 224.7,434.6 225.7,435.7 226.7,433.9 227.7,434.4 228.7,431.9 229.7,430.9 230.7,430.7 231.7,429.8 232.6,430.1 233.6,431.4 234.6,430.2 235.6,429.0 236.6,427.2 237.6,427.5 238.6,425.6 239.6,427.2 240.6,425.1 241.6,428.0 242.5,425.0 243.5,425.7 244.5,423.8 245.5,423.9 246.5,423.9 247.5,422.8 248.5,421.5 249.5,421.4 250.5,419.7 251.4,421.5 252.4,421.0 253.4,421.4 254.4,420.1 255.4,418.8 256.4,417.6 257.4,418.2 258.4,419.3 259.4,417.9 260.4,416.5 261.3,415.8 262.3,414.4 263.3,413.4 264.3,414.7 265.3,415.0 266.3,415.2 267.3,413.1 268.3,410.9 269.3,411.7 270.2,410.3 271.2,412.0 272.2,411.3 273.2,410.3 274.2,410.2 275.2,409.3 276.2,408.1 277.2,407.7 278.2,406.6 279.2,406.3 280.1,405.8 281.1,406.9 282.1,406.0 283.1,405.2 284.1,403.1 285.1,403.7 286.1,403.3 287.1,403.0 288.1,401.0 289.1,401.6 290.0,401.8 291.0,401.6 292.0,400.9 293.0,398.3 294.0,399.5 295.0,397.1 296.0,395.4 297.0,396.5 298.0,395.0 298.9,393.6 299.9,395.7 300.9,394.3 301.9,390.8 302.9,392.2 303.9,391.7 304.9,390.3 305.9,391.4 306.9,390.5 307.9,389.5 308.8,386.3 309.8,387.2 310.8,388.6 311.8,385.8 312.8,386.0 313.8,385.2 314.8,384.6 315.8,384.6 316.8,382.4 317.7,383.5 318.7,381.4 319.7,379.9 320.7,378.9 321.7,378.8 322.7,377.1 323.7,376.3 324.7,376.2 325.7,374.8 326.7,375.6 327.6,373.3 328.6,372.1 329.6,373.3 330.6,371.8 331.6,369.9 332.6,371.0 333.6,369.3 334.6,367.5 335.6,365.8 336.6,363.7 337.5,363.7 338.5,365.3 339.5,365.1 340.5,364.3 341.5,362.2 342.5,360.7 343.5,360.5 344.5,359.7 345.5,357.7 346.4,356.4 347.4,355.1 348.4,356.0 349.4,353.9 350.4,355.2 351.4,353.5 352.4,351.8 353.4,351.4 354.4,351.0 355.4,349.7 356.3,348.6 357.3,347.2 358.3,345.7 359.3,346.5 360.3,345.7 361.3,343.8 362.3,343.6 363.3,342.9 364.3,341.7 365.3,340.6 366.2,341.2 367.2,338.7 368.2,339.5 369.2,338.6 370.2,336.5 371.2,334.8 372.2,334.4 373.2,332.9 374.2,331.8 375.1,330.1 376.1,327.4 377.1,328.6 378.1,328.3 379.1,327.8 380.1,325.2 381.1,325.7 382.1,324.8 383.1,325.8 384.1,322.6 385.0,322.2 386.0,320.7 387.0,317.8 388.0,317.6 389.0,317.2 390.0,317.5 391.0,314.6 392.0,315.1 393.0,314.3 393.9,313.3 394.9,312.8 395.9,312.9 396.9,310.5 397.9,309.4 398.9,308.4 399.9,307.2 400.9,305.6 401.9,305.4 402.9,305.2 403.8,304.4 404.8,303.6 405.8,301.8 406.8,300.7 407.8,300.1 408.8,300.9 409.8,298.1 410.8,298.1 411.8,298.0 412.8,296.1 413.7,294.7 414.7,294.2 415.7,294.1 416.7,293.5 417.7,291.7 418.7,291.2 419.7,290.6 420.7,288.9 421.7,287.4 422.6,286.4 423.6,286.0 424.6,284.3 425.6,283.5 426.6,282.0 427.6,279.6 428.6,280.1 429.6,279.2 430.6,277.5 431.6,276.4 432.5,278.1 433.5,277.8 434.5,275.2 435.5,272.9 436.5,273.0 437.5,271.0 438.5,271.3 439.5,269.7 440.5,269.6 441.4,268.9 442.4,270.4 443.4,268.2 444.4,266.6 445.4,264.9 446.4,264.6 447.4,265.1 448.4,263.9 449.4,263.6 450.4,265.5 451.3,263.3 452.3,261.7 453.3,260.4 454.3,262.4 455.3,262.0 456.3,260.6 457.3,259.7 458.3,259.2 459.3,258.4 460.3,258.1 461.2,258.4 462.2,258.2 463.2,257.7 464.2,255.5 465.2,255.4 466.2,253.9 467.2,253.4 468.2,251.2 469.2,250.3 470.1,247.2 471.1,248.0 472.1,246.3 473.1,244.1 474.1,240.7 475.1,242.4 476.1,241.9 477.1,239.9 478.1,239.1 479.1,238.4 480.0,237.7 481.0,236.1 482.0,237.3 483.0,236.9 484.0,235.7 485.0,234.1 486.0,232.1 487.0,232.5 488.0,232.5 489.0,229.8 489.9,231.7 490.9,230.8 491.9,228.0 492.9,228.7 493.9,229.2 494.9,227.1 495.9,226.3 496.9,224.0 497.9,225.6 498.8,224.3 499.8,223.1 500.8,224.5 501.8,222.1 502.8,222.2 503.8,219.9 504.8,221.7 505.8,219.9 506.8,218.7 507.8,217.5 508.7,216.8 509.7,218.2 510.7,216.7 511.7,216.6 512.7,216.1 513.7,215.9 514.7,215.3 515.7,213.1 516.7,213.3 517.6,211.7 518.6,212.3 519.6,210.8 520.6,212.0 521.6,210.3 522.6,210.4 523.6,209.1 524.6,208.1 525.6,208.5 526.6,208.2 527.5,208.3 528.5,205.9 529.5,205.6 530.5,206.2 531.5,203.5 532.5,203.5 533.5,204.2 534.5,202.3 535.5,200.9 536.5,200.7 537.4,200.9 538.4,199.6 539.4,198.6 540.4,197.3 541.4,196.4 542.4,197.6 543.4,195.8 544.4,193.3 545.4,191.0 546.3,192.7 547.3,194.4 548.3,192.8 549.3,192.3 550.3,191.5 551.3,190.6 552.3,189.0 553.3,188.9 554.3,188.0 555.3,188.4 556.2,187.9 557.2,185.0 558.2,186.7 559.2,185.1 560.2,183.2 561.2,183.7 562.2,183.9 563.2,181.8 564.2,181.1 565.1,179.6 566.1,181.1 567.1,179.2 568.1,178.3 569.1,180.2 570.1,177.3 571.1,176.5 572.1,176.8 573.1,176.7 574.1,178.2 575.0,176.2 576.0,175.7 577.0,174.8 578.0,174.3 579.0,174.2 580.0,172.3 581.0,170.5 582.0,171.9 583.0,172.3 584.0,172.1 584.9,169.1 585.9,170.0 586.9,169.7 587.9,168.4 588.9,170.7 589.9,167.2 590.9,166.8 591.9,167.6 592.9,168.9 593.8,166.4 594.8,166.1 595.8,165.7 596.8,166.6 597.8,165.4 598.8,164.0 599.8,166.1 600.8,164.4 601.8,166.7 602.8,165.3 603.7,162.6 604.7,162.2 605.7,164.3 606.7,162.5 607.7,160.8 608.7,161.8 609.7,160.2 610.7,160.0 611.7,158.8 612.7,161.4 613.6,158.9 614.6,158.9 615.6,160.1 616.6,159.8 617.6,158.7 618.6,158.8 619.6,157.5 620.6,157.8 621.6,159.1 622.5,155.5 623.5,155.6 624.5,153.5 625.5,153.6 626.5,152.5 627.5,152.6 628.5,151.9 629.5,151.9 630.5,151.4 631.5,150.1 632.4,149.4 633.4,150.7 634.4,149.5 635.4,148.5 636.4,149.4 637.4,149.0 638.4,146.9 639.4,148.8 640.4,147.0 641.3,147.0 642.3,148.0 643.3,146.8 644.3,146.2 645.3,145.3 646.3,144.9 647.3,145.2 648.3,143.1 649.3,143.4 650.3,144.6 651.2,143.2 652.2,145.0 653.2,144.7 654.2,141.7 655.2,140.9 656.2,142.4 657.2,141.5 658.2,141.1 659.2,140.9 660.2,140.7 661.1,141.7 662.1,140.1 663.1,141.3 664.1,139.3 665.1,140.3 666.1,140.7 667.1,138.8 668.1,138.1 669.1,137.2 670.0,137.6 671.0,136.0 672.0,137.2 673.0,137.6 674.0,138.2 675.0,137.5 676.0,135.5 677.0,135.9 678.0,136.6 679.0,135.8 679.9,134.7 680.9,135.4 681.9,135.5 682.9,132.5 683.9,132.2 684.9,133.3 685.9,134.2 686.9,133.4 687.9,131.8 688.8,133.5 689.8,132.7 690.8,132.0 691.8,133.2 692.8,132.2 693.8,130.5 694.8,130.4 695.8,129.5 696.8,132.1 697.8,129.3 698.7,129.2 699.7,127.5 700.7,127.7 701.7,129.1 702.7,128.6 703.7,127.9 704.7,128.2 705.7,127.7 706.7,126.9 707.7,126.5 708.6,126.3 709.6,127.0 710.6,125.4 711.6,124.9 712.6,126.5 713.6,124.6 714.6,126.3 715.6,126.2 716.6,124.8 717.5,123.8 718.5,124.3 719.5,124.9 720.5,123.9 721.5,123.6 722.5,123.4 723.5,124.0 724.5,122.0 725.5,121.2 726.5,120.6 727.4,120.1 728.4,122.4 729.4,122.5 730.4,119.2 731.4,119.5 732.4,118.7 733.4,121.3 734.4,119.6 735.4,122.2 736.4,120.7 737.3,120.7 738.3,119.0 739.3,120.0 740.3,119.3 741.3,117.8 742.3,118.5 743.3,118.3 744.3,117.3 745.3,118.7 746.2,116.6 747.2,117.2 748.2,117.3 749.2,116.1 750.2,114.8 751.2,114.8 752.2,114.9 753.2,115.2 754.2,114.4 755.2,113.4 756.1,114.2 757.1,113.5 758.1,112.9 759.1,112.3 760.1,112.8 761.1,111.9 762.1,110.6 763.1,110.0 764.1,111.9 765.0,110.0 766.0,111.2 767.0,110.4 768.0,109.6 769.0,110.6 770.0,108.2 771.0,111.0 772.0,110.4 773.0,108.5 774.0,107.1 774.9,108.9 775.9,108.6 776.9,109.8 777.9,106.9 778.9,107.7 779.9,108.8 780.9,108.7 781.9,107.3 782.9,107.6 783.9,106.9 784.8,107.6 785.8,107.9 786.8,106.6 787.8,105.2 788.8,105.7 789.8,105.5 790.8,106.2 791.8,106.3 792.8,105.6 793.7,104.6 794.7,105.8 795.7,105.7 796.7,104.8 797.7,105.0 798.7,104.5 799.7,102.1 800.7,102.6 801.7,103.1 802.7,104.6 803.6,104.7 804.6,103.4 805.6,103.7 806.6,102.2 807.6,104.5 808.6,102.1 809.6,100.2 810.6,101.4 811.6,103.3 812.5,104.8 813.5,103.5 814.5,101.4 815.5,100.8 816.5,101.5 817.5,100.2 818.5,100.9 819.5,100.1 820.5,99.7 821.5,98.6 822.4,98.4 823.4,99.4 824.4,97.9 825.4,98.5 826.4,98.4 827.4,98.0 828.4,98.4 829.4,99.0 830.4,98.7 831.4,99.3 832.3,97.4 833.3,97.5 834.3,98.5 835.3,97.3 836.3,99.4 837.3,97.1 838.3,97.5 839.3,97.0 840.3,96.6 841.2,95.9 842.2,96.0 843.2,95.7 844.2,96.3 845.2,94.2 846.2,94.8 847.2,94.8 848.2,94.9 849.2,93.6 850.2,96.4 851.1,94.9 852.1,96.0 853.1,94.3 854.1,95.4 855.1,93.4 856.1,93.7 857.1,94.4 858.1,92.2 859.1,93.0 860.1,96.0 861.0,94.1 862.0,92.2 863.0,93.7 864.0,96.0 865.0,93.0 866.0,92.1 867.0,93.8 868.0,97.1 869.0,103.3 869.9,113.2 870.9,126.7 871.9,130.1 872.9,129.9 873.9,130.2 874.9,130.4 875.9,128.1 876.9,127.9 877.9,126.7 878.9,125.0 879.8,123.7 880.8,123.8 881.8,121.4 882.8,121.9 883.8,119.7 884.8,117.9 885.8,117.8 886.8,116.9 887.8,115.2 888.7,114.6 889.7,113.1 890.7,112.2 891.7,111.7 892.7,110.0 893.7,110.5 894.7,108.1 895.7,108.0 896.7,107.6 897.7,107.3 898.6,108.7 899.6,108.0 900.6,107.7 901.6,107.9 902.6,106.6 903.6,107.2 904.6,107.8 905.6,108.0 906.6,109.9 907.6,111.2 908.5,112.9 909.5,116.7 910.5,121.3 911.5,122.5 912.5,127.0 913.5,133.4 914.5,133.9 915.5,135.5 916.5,137.9 917.4,138.3 918.4,136.7 919.4,138.1 920.4,139.1 921.4,139.0 922.4,138.2 923.4,139.5 924.4,138.0 925.4,137.2 926.4,136.3 927.3,136.2 928.3,134.4 929.3,134.7 930.3,132.6 931.3,131.7 932.3,130.3 933.3,128.8 934.3,128.1 935.3,128.4 936.2,126.3 937.2,124.9 938.2,126.3 939.2,125.9 940.2,124.8 941.2,121.1 942.2,125.2 943.2,123.9 944.2,124.7 945.2,123.0 946.1,124.0 947.1,124.2 948.1,125.3"/>
<path stroke="#7030A0" stroke-width="3.3" d="M948.1,125.3L949.1,135.7V411.1"/>
<path stroke="#698ED0" d="M94.1,494.3 95.1,493.7 96.1,493.6 97.1,492.9 98.1,493.3 99.0,490.8 100.0,492.9 101.0,491.7 102.0,491.6 103.0,488.8 104.0,490.0 105.0,491.3 106.0,490.7 107.0,490.5 108.0,490.2 108.9,488.8 109.9,489.6 110.9,487.2 111.9,488.7 112.9,486.8 113.9,485.6 114.9,485.3 115.9,483.7 116.9,484.7 117.9,483.7 118.8,484.8 119.8,482.1 120.8,485.7 121.8,483.3 122.8,483.5 123.8,481.5 124.8,482.7 125.8,481.9 126.8,480.8 127.7,481.6 128.7,480.2 129.7,479.4 130.7,479.8 131.7,479.9 132.7,479.1 133.7,476.6 134.7,478.4 135.7,476.7 136.7,478.8 137.6,477.7 138.6,476.2 139.6,475.2 140.6,475.7 141.6,475.2 142.6,476.4 143.6,475.8 144.6,473.8 145.6,473.9 146.5,473.9 147.5,475.0 148.5,471.9 149.5,471.3 150.5,472.7 151.5,471.8 152.5,473.1 153.5,470.9 154.5,471.0 155.5,470.9 156.4,472.5 157.4,471.5 158.4,471.8 159.4,469.2 160.4,470.3 161.4,468.0 162.4,468.7 163.4,469.5 164.4,467.4 165.4,466.9 166.3,467.5 167.3,469.5 168.3,466.9 169.3,465.9 170.3,465.8 171.3,466.8 172.3,467.1 173.3,467.1 174.3,467.2 175.2,466.2 176.2,464.0 177.2,463.1 178.2,464.1 179.2,464.4 180.2,462.8 181.2,462.9 182.2,462.0 183.2,462.9 184.2,463.1 185.1,461.0 186.1,462.4 187.1,460.8 188.1,461.9 189.1,460.8 190.1,460.9 191.1,460.2 192.1,460.4 193.1,458.2 194.0,459.3 195.0,459.2 196.0,459.1 197.0,456.8 198.0,458.1 199.0,458.6 200.0,458.6 201.0,456.9 202.0,457.0 203.0,456.7 203.9,455.5 204.9,453.6 205.9,454.3 206.9,453.3 207.9,454.5 208.9,452.7 209.9,452.2 210.9,452.0 211.9,451.6 212.9,452.9 213.8,450.5 214.8,451.2 215.8,451.6 216.8,450.4 217.8,449.8 218.8,449.9 219.8,449.1 220.8,448.5 221.8,449.2 222.7,449.2 223.7,448.4 224.7,448.0 225.7,447.9 226.7,445.8 227.7,444.1 228.7,447.1 229.7,445.4 230.7,445.8 231.7,445.6 232.6,444.3 233.6,443.5 234.6,444.8 235.6,443.1 236.6,442.5 237.6,443.3 238.6,441.7 239.6,441.7 240.6,442.0 241.6,441.9 242.5,441.0 243.5,441.1 244.5,438.9 245.5,439.8 246.5,440.5 247.5,438.7 248.5,439.7 249.5,439.2 250.5,439.0 251.4,438.1 252.4,438.1 253.4,435.6 254.4,437.3 255.4,437.0 256.4,436.4 257.4,434.7 258.4,436.6 259.4,436.8 260.4,434.7 261.3,435.7 262.3,435.6 263.3,435.3 264.3,433.9 265.3,433.5 266.3,436.2 267.3,432.8 268.3,431.8 269.3,431.5 270.2,432.3 271.2,430.5 272.2,432.7 273.2,428.5 274.2,429.7 275.2,429.6 276.2,428.1 277.2,425.8 278.2,427.5 279.2,426.2 280.1,426.5 281.1,425.7 282.1,423.3 283.1,421.6 284.1,422.7 285.1,422.7 286.1,422.0 287.1,421.1 288.1,420.9 289.1,420.4 290.0,420.7 291.0,419.8 292.0,419.0 293.0,415.9 294.0,418.2 295.0,415.8 296.0,416.8 297.0,416.5 298.0,415.3 298.9,414.3 299.9,415.3 300.9,415.4 301.9,414.1 302.9,413.7 303.9,413.7 304.9,413.2 305.9,413.1 306.9,413.4 307.9,412.0 308.8,410.0 309.8,410.2 310.8,411.1 311.8,410.4 312.8,410.2 313.8,410.4 314.8,410.0 315.8,409.6 316.8,407.2 317.7,407.3 318.7,408.6 319.7,407.7 320.7,406.5 321.7,407.1 322.7,406.0 323.7,406.5 324.7,404.7 325.7,403.3 326.7,404.0 327.6,403.0 328.6,402.4 329.6,401.6 330.6,400.3 331.6,401.5 332.6,400.1 333.6,398.8 334.6,399.9 335.6,397.0 336.6,396.8 337.5,395.2 338.5,395.2 339.5,394.2 340.5,393.4 341.5,393.4 342.5,391.9 343.5,392.3 344.5,393.4 345.5,391.8 346.4,390.5 347.4,388.7 348.4,389.0 349.4,388.1 350.4,386.9 351.4,386.0 352.4,388.1 353.4,386.0 354.4,385.8 355.4,383.4 356.3,381.8 357.3,381.6 358.3,382.5 359.3,381.6 360.3,379.2 361.3,379.2 362.3,379.6 363.3,377.7 364.3,377.1 365.3,377.6 366.2,375.8 367.2,375.7 368.2,374.2 369.2,373.9 370.2,373.0 371.2,374.8 372.2,372.0 373.2,371.5 374.2,369.0 375.1,369.4 376.1,368.7 377.1,369.5 378.1,369.1 379.1,367.3 380.1,365.2 381.1,366.2 382.1,363.2 383.1,362.6 384.1,363.5 385.0,361.0 386.0,362.5 387.0,360.8 388.0,361.4 389.0,359.9 390.0,358.2 391.0,359.2 392.0,357.2 393.0,357.7 393.9,356.9 394.9,354.9 395.9,354.5 396.9,353.6 397.9,354.7 398.9,351.4 399.9,352.9 400.9,353.2 401.9,351.1 402.9,350.5 403.8,348.2 404.8,348.4 405.8,348.7 406.8,348.7 407.8,346.3 408.8,346.2 409.8,346.2 410.8,346.7 411.8,343.7 412.8,343.7 413.7,342.5 414.7,342.0 415.7,342.2 416.7,342.5 417.7,340.1 418.7,339.1 419.7,340.3 420.7,339.7 421.7,337.2 422.6,337.8 423.6,336.7 424.6,337.8 425.6,336.8 426.6,335.9 427.6,335.1 428.6,335.7 429.6,334.2 430.6,333.6 431.6,334.4 432.5,332.0 433.5,330.5 434.5,332.1 435.5,329.6 436.5,330.8 437.5,327.7 438.5,328.3 439.5,329.5 440.5,324.7 441.4,325.0 442.4,324.4 443.4,325.0 444.4,322.8 445.4,322.6 446.4,322.8 447.4,321.5 448.4,320.9 449.4,320.7 450.4,320.2 451.3,318.0 452.3,319.0 453.3,316.3 454.3,316.8 455.3,316.0 456.3,315.4 457.3,313.6 458.3,311.6 459.3,312.8 460.3,310.8 461.2,311.4 462.2,309.8 463.2,309.2 464.2,308.1 465.2,307.9 466.2,305.4 467.2,306.3 468.2,304.0 469.2,303.6 470.1,304.0 471.1,302.9 472.1,300.7 473.1,301.5 474.1,300.0 475.1,301.2 476.1,296.5 477.1,298.6 478.1,296.2 479.1,295.6 480.0,295.3 481.0,295.1 482.0,294.4 483.0,295.3 484.0,292.0 485.0,293.6 486.0,293.0 487.0,292.9 488.0,292.2 489.0,289.9 489.9,290.3 490.9,286.7 491.9,286.5 492.9,285.3 493.9,285.5 494.9,283.9 495.9,282.6 496.9,282.6 497.9,283.3 498.8,280.5 499.8,279.5 500.8,278.8 501.8,279.4 502.8,278.4 503.8,278.2 504.8,276.7 505.8,276.6 506.8,276.1 507.8,273.9 508.7,272.3 509.7,271.7 510.7,274.0 511.7,272.2 512.7,270.2 513.7,269.4 514.7,269.6 515.7,268.2 516.7,267.7 517.6,267.5 518.6,267.1 519.6,264.9 520.6,264.7 521.6,266.0 522.6,264.5 523.6,263.2 524.6,263.0 525.6,261.8 526.6,260.4 527.5,261.0 528.5,260.9 529.5,257.9 530.5,258.9 531.5,257.4 532.5,256.8 533.5,256.7 534.5,257.9 535.5,255.8 536.5,253.8 537.4,253.2 538.4,252.6 539.4,252.8 540.4,252.5 541.4,251.7 542.4,253.2 543.4,251.7 544.4,251.8 545.4,250.4 546.3,250.6 547.3,250.0 548.3,249.5 549.3,249.4 550.3,250.0 551.3,248.7 552.3,248.2 553.3,245.5 554.3,247.1 555.3,248.3 556.2,245.5 557.2,246.0 558.2,246.3 559.2,244.4 560.2,245.4 561.2,245.9 562.2,243.5 563.2,245.2 564.2,244.7 565.1,242.6 566.1,239.5 567.1,241.0 568.1,240.2 569.1,237.8 570.1,239.1 571.1,237.9 572.1,237.4 573.1,235.0 574.1,236.1 575.0,234.9 576.0,234.6 577.0,234.0 578.0,232.7 579.0,232.5 580.0,232.0 581.0,230.8 582.0,229.6 583.0,231.9 584.0,229.7 584.9,227.9 585.9,229.3 586.9,229.9 587.9,230.2 588.9,227.2 589.9,227.9 590.9,226.4 591.9,224.8 592.9,224.0 593.8,225.4 594.8,226.6 595.8,224.8 596.8,224.6 597.8,224.2 598.8,221.9 599.8,223.7 600.8,221.0 601.8,222.8 602.8,221.7 603.7,221.7 604.7,221.2 605.7,220.4 606.7,219.2 607.7,220.0 608.7,221.0 609.7,219.1 610.7,218.2 611.7,215.6 612.7,216.4 613.6,216.9 614.6,216.9 615.6,216.1 616.6,215.5 617.6,214.5 618.6,215.2 619.6,214.9 620.6,215.7 621.6,213.5 622.5,212.0 623.5,213.3 624.5,213.2 625.5,211.9 626.5,212.8 627.5,210.9 628.5,210.7 629.5,211.1 630.5,211.0 631.5,208.9 632.4,208.8 633.4,209.4 634.4,209.9 635.4,211.2 636.4,209.3 637.4,208.0 638.4,208.5 639.4,209.8 640.4,208.2 641.3,207.4 642.3,206.1 643.3,204.9 644.3,206.3 645.3,205.5 646.3,205.9 647.3,204.3 648.3,205.2 649.3,204.4 650.3,201.5 651.2,202.6 652.2,201.6 653.2,201.7 654.2,203.2 655.2,202.8 656.2,202.4 657.2,201.2 658.2,201.5 659.2,200.0 660.2,198.8 661.1,199.4 662.1,200.0 663.1,197.6 664.1,197.3 665.1,197.6 666.1,198.9 667.1,196.6 668.1,197.0 669.1,197.0 670.0,196.3 671.0,195.0 672.0,195.8 673.0,195.7 674.0,194.7 675.0,194.3 676.0,194.7 677.0,195.0 678.0,195.8 679.0,193.7 679.9,193.4 680.9,191.2 681.9,192.2 682.9,193.1 683.9,191.3 684.9,193.1 685.9,189.3 686.9,192.0 687.9,190.9 688.8,191.9 689.8,188.7 690.8,189.9 691.8,189.1 692.8,189.3 693.8,190.0 694.8,188.9 695.8,187.9 696.8,189.7 697.8,189.0 698.7,188.8 699.7,188.9 700.7,189.2 701.7,188.9 702.7,187.1 703.7,187.6 704.7,187.3 705.7,188.7 706.7,187.5 707.7,186.8 708.6,185.8 709.6,186.4 710.6,186.5 711.6,185.1 712.6,186.7 713.6,186.2 714.6,184.4 715.6,183.4 716.6,184.2 717.5,184.9 718.5,184.6 719.5,183.8 720.5,184.6 721.5,184.1 722.5,182.3 723.5,183.4 724.5,184.8 725.5,183.7 726.5,182.8 727.4,183.5 728.4,181.6 729.4,180.3 730.4,181.4 731.4,181.8 732.4,182.6 733.4,180.8 734.4,181.2 735.4,180.9 736.4,179.9 737.3,181.7 738.3,180.8 739.3,180.1 740.3,179.1 741.3,179.0 742.3,179.5 743.3,177.2 744.3,179.2 745.3,176.6 746.2,179.1 747.2,178.7 748.2,178.2 749.2,178.7 750.2,178.3 751.2,176.7 752.2,176.2 753.2,176.9 754.2,178.1 755.2,177.1 756.1,175.6 757.1,177.0 758.1,178.2 759.1,176.1 760.1,174.8 761.1,175.2 762.1,173.6 763.1,175.4 764.1,175.9 765.0,174.8 766.0,173.8 767.0,174.0 768.0,175.4 769.0,174.6 770.0,173.4 771.0,174.6 772.0,173.4 773.0,173.5 774.0,174.7 774.9,174.5 775.9,171.7 776.9,170.7 777.9,171.6 778.9,171.7 779.9,172.1 780.9,172.6 781.9,173.2 782.9,170.6 783.9,171.9 784.8,171.4 785.8,171.9 786.8,170.6 787.8,169.5 788.8,171.6 789.8,170.6 790.8,171.9 791.8,171.4 792.8,170.0 793.7,171.5 794.7,170.8 795.7,169.8 796.7,169.6 797.7,170.0 798.7,169.0 799.7,169.9 800.7,169.9 801.7,170.0 802.7,171.1 803.6,169.3 804.6,170.2 805.6,170.2 806.6,171.2 807.6,170.8 808.6,169.1 809.6,169.1 810.6,171.2 811.6,170.1 812.5,168.6 813.5,167.8 814.5,167.6 815.5,168.7 816.5,169.8 817.5,167.9 818.5,170.9 819.5,167.9 820.5,168.3 821.5,166.3 822.4,167.6 823.4,165.9 824.4,165.8 825.4,168.2 826.4,167.0 827.4,167.7 828.4,166.4 829.4,164.8 830.4,167.5 831.4,167.4 832.3,166.8 833.3,166.5 834.3,166.9 835.3,166.8 836.3,165.6 837.3,168.9 838.3,167.4 839.3,167.3 840.3,166.3 841.2,166.5 842.2,166.1 843.2,167.5 844.2,166.9 845.2,164.2 846.2,167.1 847.2,166.4 848.2,165.7 849.2,166.2 850.2,166.7 851.1,166.8 852.1,166.7 853.1,165.6 854.1,166.5 855.1,164.2 856.1,164.5 857.1,167.7 858.1,165.9 859.1,165.4 860.1,165.3 861.0,165.6 862.0,165.3 863.0,164.1 864.0,165.9 865.0,164.6 866.0,165.1 867.0,164.9 868.0,162.8 869.0,163.2 869.9,163.2 870.9,162.9 871.9,162.4 872.9,162.9 873.9,163.5 874.9,161.8 875.9,161.7 876.9,161.9 877.9,161.4 878.9,160.5 879.8,161.0 880.8,161.6 881.8,161.6 882.8,162.7 883.8,159.5 884.8,161.7 885.8,160.7 886.8,161.7 887.8,159.6 888.7,162.0 889.7,162.2 890.7,161.7 891.7,160.1 892.7,160.0 893.7,160.4 894.7,159.8 895.7,160.3 896.7,160.9 897.7,161.1 898.6,160.8 899.6,162.0 900.6,159.9 901.6,160.1 902.6,160.1 903.6,160.0 904.6,160.5 905.6,160.4 906.6,159.7 907.6,159.4 908.5,158.9 909.5,158.0 910.5,160.8 911.5,158.4 912.5,158.6 913.5,156.9 914.5,161.1 915.5,159.1 916.5,158.2 917.4,159.0 918.4,159.0 919.4,158.4 920.4,158.9 921.4,160.0 922.4,158.3 923.4,157.7 924.4,155.9 925.4,158.3 926.4,155.3 927.3,157.2 928.3,156.5 929.3,157.3 930.3,156.7 931.3,157.3 932.3,157.4 933.3,157.6 934.3,157.4 935.3,156.9 936.2,157.2 937.2,156.7 938.2,155.9 939.2,156.2 940.2,155.1 941.2,155.3 942.2,154.5 943.2,156.0 944.2,155.9 945.2,156.4 946.1,154.5 947.1,153.8 948.1,156.9 949.1,155.8 950.1,155.8 951.1,156.1 952.1,154.9 953.1,153.8 954.1,153.6 955.1,153.8 956.0,153.5 957.0,154.4 958.0,154.0 959.0,153.3 960.0,152.4 961.0,152.0 962.0,154.8 963.0,152.3 964.0,153.4 964.9,151.5 965.9,153.7 966.9,153.9 967.9,153.8 968.9,152.3 969.9,155.0 970.9,154.2 971.9,152.3 972.9,153.5 973.9,153.6 974.8,153.0 975.8,153.0 976.8,152.6 977.8,150.2 978.8,151.1 979.8,150.9 980.8,150.3 981.8,151.7 982.8,150.9 983.8,150.4 984.7,150.5 985.7,151.7 986.7,150.5 987.7,150.9 988.7,150.0 989.7,150.1 990.7,150.4 991.7,150.1 992.7,150.4 993.6,151.4 994.6,149.7 995.6,151.4 996.6,150.9 997.6,150.8 998.6,150.6 999.6,148.8 1000.6,148.5 1001.6,149.1 1002.6,149.4 1003.5,149.7 1004.5,149.1 1005.5,149.1 1006.5,149.9 1007.5,150.4 1008.5,148.4 1009.5,149.7 1010.5,147.5 1011.5,148.9 1012.4,148.1 1013.4,148.4 1014.4,150.4 1015.4,150.4 1016.4,149.1 1017.4,149.9 1018.4,149.6 1019.4,149.2 1020.4,149.0 1021.4,149.6 1022.3,150.2 1023.3,146.6 1024.3,146.7 1025.3,147.0 1026.3,147.8 1027.3,148.1 1028.3,147.4 1029.3,146.4 1030.3,148.7 1031.3,147.7 1032.2,147.5 1033.2,148.2 1034.2,146.9 1035.2,147.9 1036.2,147.8 1037.2,147.0 1038.2,147.9 1039.2,148.5 1040.2,147.3 1041.1,145.6 1042.1,146.4 1043.1,148.2 1044.1,146.0 1045.1,147.3 1046.1,146.8 1047.1,147.8 1048.1,145.4 1049.1,144.6 1050.1,145.5 1051.0,145.5 1052.0,147.4 1053.0,147.7 1054.0,146.7 1055.0,145.8 1056.0,146.2 1057.0,145.7 1058.0,145.6 1059.0,145.4 1059.9,145.2 1060.9,145.3 1061.9,145.4 1062.9,142.6 1063.9,146.0 1064.9,144.3 1065.9,143.6 1066.9,144.6 1067.9,145.7 1068.9,145.2 1069.8,144.0 1070.8,144.4 1071.8,145.5 1072.8,144.8 1073.8,146.9 1074.8,145.4 1075.8,145.2 1076.8,145.5 1077.8,146.2 1078.8,146.5 1079.7,145.3 1080.7,147.5 1081.7,146.8 1082.7,146.8 1083.7,146.3 1084.7,145.8 1085.7,145.4 1086.7,146.1 1087.7,145.4 1088.6,145.9 1089.6,145.5 1090.6,144.3 1091.6,144.2 1092.6,146.5 1093.6,146.2 1094.6,146.6 1095.6,146.2 1096.6,145.7 1097.6,144.8 1098.5,144.1 1099.5,145.5 1100.5,145.4 1101.5,144.5 1102.5,145.3 1103.5,145.6 1104.5,145.4 1105.5,144.6 1106.5,145.1 1107.5,143.7 1108.4,143.6 1109.4,143.8 1110.4,145.1 1111.4,144.0 1112.4,144.7 1113.4,144.9 1114.4,144.2 1115.4,141.8 1116.4,143.4 1117.3,142.3 1118.3,143.1 1119.3,142.6 1120.3,143.6 1121.3,143.7 1122.3,144.4 1123.3,144.7 1124.3,144.0 1125.3,143.8 1126.3,145.2 1127.2,142.1 1128.2,144.0 1129.2,142.9 1130.2,144.5 1131.2,145.1 1132.2,143.4 1133.2,146.7 1134.2,146.1 1135.2,145.7 1136.1,146.5 1137.1,147.7 1138.1,148.2 1139.1,145.9 1140.1,148.4 1141.1,148.4 1142.1,149.6 1143.1,150.1 1144.1,150.9"/>
<path stroke="#698ED0" stroke-width="3.3" d="M1144.1,150.9L1145.3,161.3V445.8"/>
<path stroke="#F1975A" d="M94.1,487.4 95.1,486.9 96.1,486.5 97.1,487.0 98.1,485.1 99.0,483.0 100.0,481.8 101.0,483.2 102.0,484.1 103.0,482.3 104.0,484.5 105.0,483.2 106.0,481.6 107.0,481.1 108.0,480.7 108.9,482.2 109.9,482.7 110.9,480.2 111.9,478.7 112.9,479.5 113.9,480.2 114.9,478.6 115.9,477.2 116.9,477.7 117.9,478.3 118.8,475.2 119.8,475.4 120.8,476.2 121.8,476.1 122.8,476.6 123.8,474.2 124.8,475.4 125.8,475.6 126.8,474.4 127.7,471.6 128.7,476.3 129.7,474.9 130.7,472.2 131.7,471.9 132.7,471.9 133.7,471.6 134.7,471.8 135.7,470.7 136.7,470.5 137.6,470.7 138.6,471.4 139.6,470.8 140.6,471.3 141.6,469.1 142.6,469.0 143.6,468.0 144.6,467.0 145.6,468.1 146.5,467.3 147.5,467.9 148.5,466.7 149.5,468.1 150.5,466.9 151.5,466.8 152.5,465.7 153.5,465.5 154.5,466.5 155.5,463.9 156.4,464.7 157.4,465.3 158.4,463.7 159.4,464.5 160.4,464.9 161.4,462.4 162.4,462.2 163.4,463.4 164.4,462.5 165.4,460.9 166.3,461.4 167.3,461.0 168.3,461.2 169.3,460.0 170.3,459.0 171.3,459.4 172.3,459.9 173.3,459.7 174.3,458.6 175.2,458.7 176.2,457.7 177.2,457.5 178.2,457.3 179.2,457.3 180.2,456.1 181.2,455.8 182.2,459.5 183.2,458.5 184.2,456.6 185.1,455.6 186.1,455.2 187.1,456.7 188.1,456.2 189.1,456.4 190.1,454.0 191.1,454.5 192.1,456.0 193.1,454.2 194.0,454.0 195.0,452.4 196.0,453.3 197.0,453.1 198.0,452.3 199.0,450.4 200.0,451.7 201.0,451.0 202.0,450.9 203.0,449.9 203.9,447.9 204.9,447.6 205.9,446.2 206.9,446.8 207.9,447.0 208.9,445.2 209.9,446.3 210.9,444.2 211.9,444.8 212.9,445.9 213.8,443.4 214.8,443.7 215.8,442.9 216.8,442.3 217.8,442.6 218.8,443.1 219.8,441.2 220.8,441.8 221.8,441.4 222.7,442.3 223.7,440.3 224.7,439.5 225.7,442.2 226.7,442.0 227.7,440.8 228.7,439.7 229.7,438.7 230.7,438.8 231.7,437.0 232.6,436.6 233.6,438.5 234.6,436.9 235.6,437.0 236.6,437.2 237.6,437.8 238.6,436.7 239.6,437.0 240.6,438.6 241.6,436.1 242.5,436.5 243.5,436.3 244.5,437.6 245.5,437.4 246.5,437.2 247.5,435.9 248.5,435.6 249.5,436.3 250.5,433.0 251.4,436.1 252.4,437.6 253.4,435.1 254.4,436.7 255.4,436.9 256.4,435.2 257.4,437.1 258.4,436.2 259.4,435.6 260.4,435.2 261.3,434.7 262.3,435.8 263.3,434.4 264.3,437.0 265.3,436.7 266.3,436.1 267.3,435.7 268.3,435.2 269.3,433.8 270.2,433.7 271.2,432.7 272.2,432.7 273.2,434.6 274.2,430.6 275.2,430.5 276.2,431.1 277.2,430.9 278.2,429.3 279.2,429.2 280.1,427.6 281.1,426.2 282.1,426.5 283.1,424.9 284.1,424.1 285.1,425.1 286.1,424.3 287.1,424.2 288.1,424.1 289.1,423.3 290.0,423.5 291.0,422.1 292.0,421.5 293.0,420.0 294.0,419.2 295.0,419.6 296.0,419.8 297.0,418.9 298.0,418.8 298.9,418.3 299.9,416.2 300.9,415.9 301.9,416.3 302.9,415.4 303.9,416.1 304.9,416.9 305.9,416.5 306.9,415.9 307.9,415.8 308.8,413.7 309.8,413.4 310.8,413.9 311.8,412.8 312.8,412.6 313.8,411.5 314.8,409.9 315.8,412.6 316.8,410.5 317.7,410.9 318.7,410.9 319.7,410.7 320.7,407.6 321.7,409.2 322.7,406.9 323.7,407.5 324.7,408.2 325.7,406.7 326.7,404.9 327.6,404.5 328.6,405.7 329.6,404.4 330.6,404.2 331.6,403.9 332.6,403.2 333.6,402.5 334.6,403.0 335.6,400.9 336.6,401.9 337.5,400.7 338.5,398.8 339.5,399.9 340.5,399.3 341.5,397.9 342.5,398.2 343.5,398.7 344.5,397.3 345.5,396.7 346.4,396.5 347.4,396.8 348.4,393.2 349.4,393.1 350.4,393.4 351.4,392.5 352.4,391.9 353.4,391.4 354.4,389.4 355.4,388.2 356.3,389.5 357.3,389.1 358.3,388.4 359.3,388.3 360.3,383.1 361.3,385.2 362.3,384.6 363.3,383.4 364.3,384.2 365.3,384.6 366.2,381.2 367.2,382.5 368.2,380.7 369.2,381.2 370.2,377.8 371.2,377.9 372.2,378.4 373.2,379.4 374.2,378.5 375.1,379.0 376.1,377.3 377.1,377.3 378.1,374.8 379.1,374.5 380.1,374.1 381.1,370.8 382.1,372.9 383.1,371.9 384.1,371.4 385.0,371.8 386.0,371.8 387.0,368.5 388.0,370.4 389.0,368.9 390.0,369.1 391.0,367.3 392.0,365.5 393.0,367.5 393.9,365.7 394.9,364.0 395.9,365.3 396.9,365.4 397.9,363.8 398.9,363.0 399.9,361.4 400.9,362.8 401.9,360.7 402.9,362.0 403.8,359.6 404.8,359.1 405.8,361.1 406.8,357.7 407.8,357.9 408.8,355.4 409.8,355.3 410.8,356.5 411.8,356.5 412.8,354.8 413.7,354.8 414.7,350.6 415.7,350.9 416.7,351.5 417.7,350.5 418.7,350.5 419.7,349.1 420.7,350.3 421.7,348.8 422.6,347.3 423.6,348.3 424.6,346.7 425.6,346.6 426.6,344.3 427.6,344.0 428.6,346.0 429.6,346.0 430.6,344.4 431.6,341.3 432.5,340.6 433.5,340.8 434.5,341.0 435.5,340.8 436.5,339.4 437.5,339.3 438.5,340.1 439.5,339.4 440.5,337.1 441.4,335.3 442.4,335.9 443.4,337.1 444.4,335.5 445.4,335.0 446.4,333.0 447.4,332.7 448.4,333.4 449.4,330.2 450.4,330.2 451.3,330.5 452.3,329.0 453.3,328.6 454.3,326.1 455.3,325.8 456.3,325.7 457.3,324.6 458.3,323.2 459.3,324.3 460.3,323.8 461.2,323.0 462.2,321.3 463.2,321.9 464.2,318.6 465.2,321.3 466.2,319.8 467.2,320.0 468.2,316.8 469.2,317.5 470.1,315.8 471.1,314.5 472.1,312.3 473.1,312.4 474.1,312.9 475.1,312.1 476.1,310.6 477.1,309.9 478.1,308.1 479.1,309.3 480.0,308.0 481.0,307.2 482.0,306.6 483.0,304.0 484.0,304.7 485.0,304.7 486.0,304.3 487.0,303.4 488.0,303.6 489.0,302.1 489.9,300.8 490.9,300.5 491.9,301.7 492.9,301.0 493.9,299.0 494.9,298.4 495.9,298.0 496.9,297.7 497.9,297.6 498.8,296.4 499.8,297.1 500.8,296.9 501.8,295.1 502.8,293.1 503.8,293.0 504.8,292.1 505.8,292.0 506.8,290.4 507.8,290.7 508.7,289.9 509.7,287.9 510.7,289.4 511.7,287.6 512.7,288.7 513.7,286.0 514.7,286.8 515.7,287.4 516.7,286.4 517.6,284.4 518.6,285.6 519.6,284.8 520.6,283.1 521.6,284.0 522.6,283.3 523.6,283.0 524.6,283.1 525.6,282.3 526.6,280.4 527.5,281.5 528.5,280.7 529.5,279.1 530.5,279.2 531.5,278.5 532.5,276.6 533.5,277.6 534.5,276.6 535.5,276.5 536.5,275.4 537.4,276.5 538.4,275.8 539.4,274.2 540.4,272.5 541.4,273.4 542.4,273.0 543.4,271.7 544.4,273.5 545.4,270.9 546.3,270.3 547.3,267.9 548.3,268.8 549.3,269.9 550.3,269.1 551.3,268.7 552.3,268.6 553.3,270.4 554.3,268.3 555.3,267.4 556.2,266.8 557.2,266.2 558.2,266.4 559.2,265.0 560.2,265.7 561.2,265.6 562.2,264.7 563.2,263.1 564.2,262.5 565.1,262.2 566.1,261.0 567.1,260.5 568.1,260.8 569.1,260.1 570.1,261.4 571.1,259.8 572.1,257.5 573.1,257.8 574.1,257.4 575.0,257.5 576.0,256.4 577.0,256.3 578.0,256.6 579.0,255.8 580.0,254.2 581.0,252.0 582.0,253.1 583.0,254.0 584.0,252.3 584.9,251.4 585.9,251.6 586.9,251.3 587.9,252.0 588.9,249.7 589.9,251.1 590.9,250.1 591.9,248.9 592.9,246.0 593.8,246.3 594.8,245.9 595.8,245.5 596.8,245.2 597.8,245.9 598.8,244.6 599.8,245.4 600.8,243.6 601.8,245.4 602.8,244.1 603.7,241.4 604.7,241.2 605.7,241.0 606.7,241.6 607.7,240.9 608.7,241.3 609.7,240.4 610.7,240.0 611.7,239.6 612.7,240.4 613.6,241.5 614.6,238.9 615.6,237.6 616.6,237.0 617.6,237.7 618.6,235.6 619.6,235.7 620.6,234.6 621.6,233.6 622.5,235.6 623.5,232.2 624.5,233.0 625.5,232.9 626.5,229.9 627.5,231.5 628.5,231.8 629.5,231.4 630.5,230.6 631.5,231.3 632.4,231.1 633.4,228.8 634.4,229.7 635.4,229.4 636.4,228.6 637.4,228.1 638.4,227.0 639.4,227.3 640.4,226.4 641.3,227.4 642.3,226.7 643.3,226.1 644.3,224.9 645.3,223.6 646.3,223.5 647.3,225.1 648.3,222.1 649.3,223.7 650.3,223.2 651.2,222.9 652.2,222.1 653.2,220.4 654.2,219.6 655.2,220.1 656.2,219.4 657.2,221.1 658.2,218.5 659.2,220.7 660.2,219.8 661.1,219.3 662.1,219.7 663.1,216.9 664.1,217.1 665.1,219.0 666.1,218.1 667.1,217.1 668.1,215.9 669.1,217.0 670.0,216.9 671.0,216.9 672.0,216.1 673.0,215.6 674.0,216.6 675.0,214.1 676.0,215.9 677.0,213.8 678.0,214.0 679.0,213.4 679.9,211.7 680.9,212.4 681.9,212.4 682.9,211.9 683.9,213.1 684.9,212.0 685.9,210.9 686.9,210.9 687.9,210.8 688.8,208.3 689.8,209.7 690.8,209.9 691.8,209.7 692.8,208.5 693.8,208.5 694.8,208.4 695.8,209.6 696.8,209.4 697.8,207.1 698.7,207.5 699.7,206.4 700.7,207.0 701.7,206.5 702.7,207.0 703.7,205.7 704.7,205.2 705.7,206.0 706.7,204.0 707.7,204.1 708.6,202.3 709.6,205.1 710.6,202.1 711.6,202.4 712.6,203.0 713.6,203.5 714.6,202.7 715.6,202.7 716.6,204.0 717.5,202.1 718.5,201.3 719.5,200.9 720.5,202.1 721.5,202.4 722.5,201.4 723.5,201.1 724.5,198.0 725.5,199.7 726.5,200.0 727.4,199.9 728.4,198.4 729.4,197.4 730.4,197.4 731.4,197.6 732.4,197.8 733.4,198.1 734.4,199.7 735.4,197.2 736.4,195.7 737.3,195.5 738.3,196.4 739.3,196.7 740.3,195.7 741.3,194.9 742.3,196.1 743.3,194.8 744.3,195.4 745.3,191.8 746.2,192.9 747.2,191.9 748.2,190.9 749.2,192.2 750.2,192.9 751.2,193.1 752.2,192.6 753.2,192.9 754.2,193.8 755.2,191.7 756.1,191.2 757.1,191.5 758.1,191.9 759.1,191.0 760.1,191.5 761.1,191.3 762.1,190.4 763.1,188.9 764.1,191.0 765.0,190.7 766.0,189.9 767.0,190.2 768.0,189.6 769.0,189.0 770.0,189.4 771.0,189.0 772.0,188.9 773.0,188.5 774.0,188.9 774.9,187.5 775.9,188.4 776.9,189.5 777.9,188.1 778.9,188.0 779.9,188.2 780.9,189.7 781.9,188.3 782.9,186.3 783.9,188.0 784.8,189.0 785.8,188.4 786.8,185.5 787.8,184.6 788.8,184.8 789.8,186.0 790.8,185.4 791.8,185.9 792.8,186.5 793.7,185.2 794.7,186.4 795.7,185.9 796.7,185.8 797.7,185.0 798.7,186.5 799.7,185.4 800.7,186.1 801.7,185.6 802.7,185.0 803.6,183.1 804.6,182.6 805.6,185.1 806.6,185.6 807.6,184.4 808.6,185.7 809.6,182.3 810.6,184.1 811.6,183.6 812.5,183.3 813.5,182.1 814.5,183.0 815.5,182.3 816.5,181.8 817.5,182.9 818.5,181.2 819.5,181.9 820.5,180.7 821.5,180.3 822.4,180.1 823.4,180.3 824.4,179.7 825.4,181.5 826.4,180.0 827.4,181.0 828.4,180.6 829.4,180.0 830.4,179.8 831.4,178.9 832.3,180.5 833.3,177.0 834.3,179.2 835.3,177.9 836.3,177.6 837.3,178.3 838.3,177.1 839.3,177.8 840.3,175.9 841.2,176.3 842.2,176.6 843.2,177.3 844.2,178.1 845.2,178.9 846.2,178.9 847.2,176.0 848.2,177.4 849.2,175.6 850.2,176.5 851.1,175.0 852.1,175.7 853.1,174.9 854.1,174.8 855.1,176.3 856.1,172.6 857.1,173.8 858.1,174.1 859.1,172.7 860.1,173.6 861.0,173.6 862.0,173.0 863.0,175.0 864.0,174.7 865.0,173.5 866.0,173.5 867.0,172.3 868.0,172.5 869.0,172.2 869.9,171.8 870.9,171.8 871.9,173.0 872.9,171.5 873.9,170.6 874.9,172.4 875.9,172.6 876.9,172.0 877.9,171.1 878.9,171.4 879.8,169.3 880.8,169.7 881.8,170.1 882.8,169.6 883.8,169.9 884.8,167.7 885.8,167.9 886.8,168.6 887.8,169.6 888.7,168.1 889.7,169.5 890.7,168.9 891.7,170.1 892.7,169.1 893.7,168.4 894.7,167.2 895.7,168.4 896.7,165.6 897.7,165.6 898.6,167.7 899.6,167.9 900.6,166.1 901.6,164.3 902.6,167.2 903.6,166.3 904.6,166.8 905.6,165.4 906.6,166.4 907.6,167.5 908.5,168.1 909.5,166.4 910.5,166.1 911.5,166.3 912.5,165.5 913.5,165.1 914.5,163.0 915.5,163.8 916.5,165.8 917.4,164.5 918.4,164.4 919.4,164.9 920.4,165.1 921.4,163.9 922.4,165.5 923.4,164.6 924.4,166.2 925.4,165.1 926.4,165.1 927.3,163.9 928.3,162.6 929.3,163.6 930.3,162.6 931.3,163.0 932.3,161.9 933.3,161.3 934.3,162.7 935.3,163.2 936.2,163.3 937.2,163.1 938.2,160.6 939.2,161.2 940.2,162.6 941.2,162.9 942.2,160.8 943.2,161.1 944.2,161.3 945.2,160.3 946.1,160.8 947.1,161.7 948.1,161.8 949.1,159.0 950.1,160.6 951.1,159.2 952.1,160.3 953.1,159.4 954.1,158.3 955.1,158.8 956.0,159.5 957.0,160.4 958.0,158.9 959.0,159.1 960.0,158.9 961.0,157.2 962.0,157.0 963.0,156.8 964.0,155.1 964.9,155.7 965.9,157.4 966.9,157.7 967.9,156.3 968.9,155.7 969.9,154.6 970.9,155.0 971.9,155.5 972.9,155.2 973.9,155.0 974.8,155.7 975.8,153.7 976.8,153.9 977.8,152.7 978.8,152.5 979.8,152.8 980.8,152.4 981.8,149.9 982.8,153.4 983.8,151.4 984.7,152.3 985.7,151.9 986.7,149.7 987.7,152.6 988.7,150.3 989.7,151.9 990.7,151.3 991.7,150.4 992.7,150.6 993.6,151.4 994.6,150.6 995.6,149.0 996.6,152.0 997.6,150.0 998.6,148.5 999.6,149.3 1000.6,149.0 1001.6,149.3 1002.6,149.0 1003.5,149.8 1004.5,147.6 1005.5,147.0 1006.5,149.3 1007.5,148.2 1008.5,148.1 1009.5,147.0 1010.5,148.9 1011.5,147.9 1012.4,147.3 1013.4,146.4 1014.4,146.3 1015.4,149.1 1016.4,145.8 1017.4,147.4 1018.4,146.3 1019.4,146.2 1020.4,146.5 1021.4,146.0 1022.3,144.1 1023.3,144.7 1024.3,145.7 1025.3,144.7 1026.3,144.0 1027.3,144.1 1028.3,145.1 1029.3,145.6 1030.3,145.3 1031.3,143.7 1032.2,143.8 1033.2,145.9 1034.2,143.0 1035.2,144.0 1036.2,144.6 1037.2,144.1 1038.2,141.6 1039.2,143.7 1040.2,143.5 1041.1,145.5 1042.1,143.8 1043.1,143.8 1044.1,142.7 1045.1,142.2 1046.1,143.1 1047.1,142.7 1048.1,143.3 1049.1,141.9 1050.1,143.4 1051.0,141.9 1052.0,140.7 1053.0,141.9 1054.0,143.5 1055.0,143.4 1056.0,140.6 1057.0,141.6 1058.0,141.0 1059.0,138.3 1059.9,138.7 1060.9,138.5 1061.9,138.1 1062.9,138.8 1063.9,140.8 1064.9,139.2 1065.9,139.8 1066.9,141.6 1067.9,141.1 1068.9,138.6 1069.8,139.7 1070.8,138.3 1071.8,138.4 1072.8,138.0 1073.8,137.2 1074.8,137.4 1075.8,137.9 1076.8,138.4 1077.8,136.2 1078.8,135.1 1079.7,134.8 1080.7,136.2 1081.7,135.5 1082.7,133.6 1083.7,138.1 1084.7,136.7 1085.7,137.2 1086.7,134.6 1087.7,136.1 1088.6,136.6 1089.6,134.1 1090.6,135.4 1091.6,132.7 1092.6,132.4 1093.6,133.4 1094.6,133.0 1095.6,133.4 1096.6,132.5 1097.6,132.1 1098.5,132.2 1099.5,131.7 1100.5,132.4 1101.5,132.1 1102.5,130.7 1103.5,130.9 1104.5,129.7 1105.5,131.8 1106.5,129.8 1107.5,130.0 1108.4,130.5 1109.4,130.0 1110.4,129.1 1111.4,128.3 1112.4,129.1 1113.4,128.7 1114.4,127.3 1115.4,127.5 1116.4,127.9 1117.3,126.0 1118.3,129.9 1119.3,127.2 1120.3,127.5 1121.3,127.1 1122.3,125.9 1123.3,127.6 1124.3,126.4 1125.3,126.0 1126.3,125.5 1127.2,126.9 1128.2,126.8 1129.2,125.3 1130.2,125.2 1131.2,126.1 1132.2,124.6 1133.2,125.8 1134.2,126.0 1135.2,125.4 1136.1,127.3 1137.1,126.3 1138.1,126.4 1139.1,125.3 1140.1,124.9 1141.1,124.1 1142.1,123.8 1143.1,124.0 1144.1,125.8 1145.1,126.0 1146.0,125.3 1147.0,125.4 1148.0,124.9 1149.0,124.7 1150.0,124.7 1151.0,122.6 1152.0,124.2 1153.0,123.4 1154.0,123.8 1155.0,122.6 1155.9,122.7 1156.9,122.6 1157.9,121.2 1158.9,121.5 1159.9,120.0 1160.9,123.5 1161.9,118.5 1162.9,120.5 1163.9,120.7 1164.8,120.4 1165.8,119.9 1166.8,120.6 1167.8,120.0 1168.8,119.7 1169.8,118.1 1170.8,118.4 1171.8,118.2 1172.8,117.1 1173.8,117.9 1174.7,118.7 1175.7,118.4 1176.7,117.5 1177.7,117.8 1178.7,119.1 1179.7,119.1 1180.7,118.2 1181.7,117.3 1182.7,117.4 1183.6,120.1 1184.6,117.8 1185.6,118.0 1186.6,119.5 1187.6,119.1 1188.6,120.1 1189.6,119.4 1190.6,120.5 1191.6,120.1 1192.6,119.6 1193.5,120.3 1194.5,117.5 1195.5,119.4 1196.5,118.6 1197.5,117.5 1198.5,119.7 1199.5,118.5 1200.5,120.3 1201.5,118.6 1202.5,118.5 1203.4,119.4 1204.4,117.4 1205.4,118.3 1206.4,117.4 1207.4,117.6 1208.4,114.6 1209.4,115.9 1210.4,116.4 1211.4,116.1 1212.3,114.5 1213.3,114.6 1214.3,113.1 1215.3,116.0 1216.3,115.8 1217.3,115.7 1218.3,115.1 1219.3,113.6 1220.3,114.1 1221.3,113.1 1222.2,113.2 1223.2,113.6 1224.2,114.0 1225.2,113.2 1226.2,114.6 1227.2,113.7 1228.2,112.2 1229.2,114.5 1230.2,112.6 1231.2,112.7 1232.1,113.3 1233.1,112.9 1234.1,112.7 1235.1,113.0 1236.1,114.9 1237.1,114.1 1238.1,113.4 1239.1,114.5 1240.1,115.9 1241.0,113.9 1242.0,116.1 1243.0,115.9 1244.0,115.1 1245.0,115.4 1246.0,114.6 1247.0,115.4 1248.0,114.4 1249.0,114.6 1250.0,115.1 1250.9,116.1 1251.9,115.4 1252.9,115.4 1253.9,116.9 1254.9,117.3 1255.9,115.2 1256.9,115.9 1257.9,115.7 1258.9,116.9 1259.8,115.2 1260.8,113.8 1261.8,114.2 1262.8,114.5 1263.8,113.7 1264.8,115.6 1265.8,115.2 1266.8,113.9 1267.8,114.5 1268.8,114.0 1269.7,111.3 1270.7,111.9 1271.7,113.2 1272.7,112.3 1273.7,113.5 1274.7,112.5 1275.7,113.1 1276.7,112.4 1277.7,112.2 1278.7,112.1 1279.6,112.1 1280.6,111.8 1281.6,111.5 1282.6,111.4 1283.6,110.1 1284.6,109.8 1285.6,111.9 1286.6,111.4 1287.6,110.9 1288.5,111.5 1289.5,111.0 1290.5,109.8 1291.5,108.8 1292.5,108.8 1293.5,111.1 1294.5,110.9 1295.5,112.1 1296.5,110.6 1297.5,110.6 1298.4,110.0 1299.4,111.3 1300.4,113.5 1301.4,114.8 1302.4,117.7 1302.9,119.0"/>
<path stroke="#F1975A" stroke-width="3.3" d="M1302.9,119.0L1303.6,129.4V435.6"/>
<path stroke="#B7B7B7" d="M94.1,491.5 95.1,491.1 96.1,491.0 97.1,490.0 98.1,489.1 99.0,489.2 100.0,489.6 101.0,488.7 102.0,488.5 103.0,488.6 104.0,487.9 105.0,486.9 106.0,485.7 107.0,485.6 108.0,486.4 108.9,487.3 109.9,486.4 110.9,485.5 111.9,483.7 112.9,484.1 113.9,485.3 114.9,482.4 115.9,481.8 116.9,482.2 117.9,483.4 118.8,482.4 119.8,481.2 120.8,480.5 121.8,481.1 122.8,480.7 123.8,478.2 124.8,480.7 125.8,477.7 126.8,479.3 127.7,477.2 128.7,477.2 129.7,477.0 130.7,477.0 131.7,475.1 132.7,475.8 133.7,476.1 134.7,477.3 135.7,475.4 136.7,474.7 137.6,475.2 138.6,475.4 139.6,473.9 140.6,473.3 141.6,473.3 142.6,471.4 143.6,471.7 144.6,473.2 145.6,472.6 146.5,469.4 147.5,470.0 148.5,469.6 149.5,470.5 150.5,469.8 151.5,469.7 152.5,470.5 153.5,470.3 154.5,468.9 155.5,468.6 156.4,469.1 157.4,467.9 158.4,468.0 159.4,465.2 160.4,467.7 161.4,464.2 162.4,465.8 163.4,465.5 164.4,465.5 165.4,464.7 166.3,463.8 167.3,464.1 168.3,463.8 169.3,463.3 170.3,463.0 171.3,462.0 172.3,460.8 173.3,463.1 174.3,462.0 175.2,462.2 176.2,462.6 177.2,462.3 178.2,462.2 179.2,461.6 180.2,461.3 181.2,458.5 182.2,457.4 183.2,458.9 184.2,457.3 185.1,460.7 186.1,457.6 187.1,459.1 188.1,458.2 189.1,458.7 190.1,457.6 191.1,456.6 192.1,457.7 193.1,456.4 194.0,455.3 195.0,455.1 196.0,455.2 197.0,455.2 198.0,455.4 199.0,455.0 200.0,455.2 201.0,455.8 202.0,454.8 203.0,454.3 203.9,451.9 204.9,452.3 205.9,451.4 206.9,452.7 207.9,452.1 208.9,451.4 209.9,451.1 210.9,450.0 211.9,451.5 212.9,449.2 213.8,448.6 214.8,449.1 215.8,449.2 216.8,447.9 217.8,447.4 218.8,448.6 219.8,446.2 220.8,447.9 221.8,446.9 222.7,444.7 223.7,445.2 224.7,446.3 225.7,443.5 226.7,446.1 227.7,443.8 228.7,444.2 229.7,442.0 230.7,442.2 231.7,442.3 232.6,442.9 233.6,442.3 234.6,443.6 235.6,443.2 236.6,441.4 237.6,440.6 238.6,442.4 239.6,441.1 240.6,440.3 241.6,438.9 242.5,439.6 243.5,439.7 244.5,438.9 245.5,438.5 246.5,439.4 247.5,438.3 248.5,437.5 249.5,437.5 250.5,438.4 251.4,439.4 252.4,438.8 253.4,437.0 254.4,437.7 255.4,436.7 256.4,437.0 257.4,436.2 258.4,438.2 259.4,438.1 260.4,438.5 261.3,437.0 262.3,435.1 263.3,436.7 264.3,435.8 265.3,435.9 266.3,433.9 267.3,434.2 268.3,432.0 269.3,432.6 270.2,431.6 271.2,432.7 272.2,430.7 273.2,433.0 274.2,432.7 275.2,430.4 276.2,430.1 277.2,428.4 278.2,428.3 279.2,427.2 280.1,428.4 281.1,425.6 282.1,424.8 283.1,423.8 284.1,423.9 285.1,423.2 286.1,423.4 287.1,423.1 288.1,421.2 289.1,419.6 290.0,420.1 291.0,420.7 292.0,421.7 293.0,420.6 294.0,418.6 295.0,417.5 296.0,416.8 297.0,417.9 298.0,417.0 298.9,415.1 299.9,415.2 300.9,414.4 301.9,414.4 302.9,415.1 303.9,413.8 304.9,412.4 305.9,413.0 306.9,414.6 307.9,414.0 308.8,412.0 309.8,410.7 310.8,410.1 311.8,411.9 312.8,410.0 313.8,410.8 314.8,409.5 315.8,409.7 316.8,407.9 317.7,410.0 318.7,408.5 319.7,407.6 320.7,408.1 321.7,407.5 322.7,405.5 323.7,405.9 324.7,404.4 325.7,405.4 326.7,405.5 327.6,405.6 328.6,403.1 329.6,403.2 330.6,401.6 331.6,401.9 332.6,401.5 333.6,400.3 334.6,399.6 335.6,399.9 336.6,397.9 337.5,398.4 338.5,397.7 339.5,393.6 340.5,394.0 341.5,395.0 342.5,395.0 343.5,395.4 344.5,394.7 345.5,392.6 346.4,392.1 347.4,391.9 348.4,390.4 349.4,390.0 350.4,388.5 351.4,389.4 352.4,387.8 353.4,389.1 354.4,386.9 355.4,385.8 356.3,386.5 357.3,385.4 358.3,383.7 359.3,384.1 360.3,382.2 361.3,380.9 362.3,382.6 363.3,379.7 364.3,379.9 365.3,380.3 366.2,377.5 367.2,378.2 368.2,377.0 369.2,377.1 370.2,376.9 371.2,377.1 372.2,375.5 373.2,372.1 374.2,373.7 375.1,373.2 376.1,372.6 377.1,370.5 378.1,371.0 379.1,370.4 380.1,369.8 381.1,369.3 382.1,368.0 383.1,368.4 384.1,368.7 385.0,366.7 386.0,365.0 387.0,364.4 388.0,364.6 389.0,365.6 390.0,362.4 391.0,363.2 392.0,363.2 393.0,361.3 393.9,358.9 394.9,361.3 395.9,359.8 396.9,358.9 397.9,358.7 398.9,356.4 399.9,357.6 400.9,358.6 401.9,356.6 402.9,355.5 403.8,353.3 404.8,353.0 405.8,352.2 406.8,350.6 407.8,352.5 408.8,350.5 409.8,349.1 410.8,349.5 411.8,349.4 412.8,349.2 413.7,347.6 414.7,348.9 415.7,346.3 416.7,347.2 417.7,345.1 418.7,344.9 419.7,343.6 420.7,345.3 421.7,345.1 422.6,342.1 423.6,342.1 424.6,342.3 425.6,341.5 426.6,339.2 427.6,340.1 428.6,339.7 429.6,338.9 430.6,338.3 431.6,338.1 432.5,338.6 433.5,337.5 434.5,336.1 435.5,335.6 436.5,333.5 437.5,335.0 438.5,333.4 439.5,332.7 440.5,332.6 441.4,333.0 442.4,332.1 443.4,332.8 444.4,331.0 445.4,330.8 446.4,327.1 447.4,327.6 448.4,326.5 449.4,327.8 450.4,326.4 451.3,326.5 452.3,324.6 453.3,321.6 454.3,321.0 455.3,321.0 456.3,321.8 457.3,318.4 458.3,318.6 459.3,320.1 460.3,317.7 461.2,316.0 462.2,315.2 463.2,315.8 464.2,316.2 465.2,314.0 466.2,313.5 467.2,311.1 468.2,310.2 469.2,309.9 470.1,309.2 471.1,309.7 472.1,306.8 473.1,307.5 474.1,307.2 475.1,304.6 476.1,304.8 477.1,303.2 478.1,303.8 479.1,303.2 480.0,300.2 481.0,300.4 482.0,299.4 483.0,300.2 484.0,298.9 485.0,299.5 486.0,295.0 487.0,297.0 488.0,295.7 489.0,293.8 489.9,292.9 490.9,293.3 491.9,291.5 492.9,291.4 493.9,291.3 494.9,290.1 495.9,289.2 496.9,287.3 497.9,287.3 498.8,288.0 499.8,285.1 500.8,286.6 501.8,285.3 502.8,284.0 503.8,282.8 504.8,283.6 505.8,280.9 506.8,282.0 507.8,281.5 508.7,281.3 509.7,280.9 510.7,278.7 511.7,277.5 512.7,278.3 513.7,276.4 514.7,274.4 515.7,276.0 516.7,275.6 517.6,275.7 518.6,274.1 519.6,272.4 520.6,272.3 521.6,272.2 522.6,270.9 523.6,271.0 524.6,269.9 525.6,269.7 526.6,270.3 527.5,265.7 528.5,267.3 529.5,265.9 530.5,265.4 531.5,264.8 532.5,263.2 533.5,262.9 534.5,261.5 535.5,262.1 536.5,261.4 537.4,259.1 538.4,259.5 539.4,259.5 540.4,257.7 541.4,258.5 542.4,257.6 543.4,258.1 544.4,256.1 545.4,256.7 546.3,255.5 547.3,254.7 548.3,253.6 549.3,254.2 550.3,252.8 551.3,252.6 552.3,251.9 553.3,254.3 554.3,252.0 555.3,250.0 556.2,251.0 557.2,250.8 558.2,250.0 559.2,250.1 560.2,249.4 561.2,249.0 562.2,248.9 563.2,247.7 564.2,248.3 565.1,248.2 566.1,246.2 567.1,246.4 568.1,246.1 569.1,246.7 570.1,246.4 571.1,244.8 572.1,246.3 573.1,244.3 574.1,243.5 575.0,243.4 576.0,244.0 577.0,242.9 578.0,243.2 579.0,241.3 580.0,242.4 581.0,239.3 582.0,241.1 583.0,240.7 584.0,238.8 584.9,238.0 585.9,236.1 586.9,237.1 587.9,235.6 588.9,235.1 589.9,235.2 590.9,235.6 591.9,234.6 592.9,234.5 593.8,233.9 594.8,234.0 595.8,234.0 596.8,233.4 597.8,231.7 598.8,233.5 599.8,232.6 600.8,232.7 601.8,232.2 602.8,233.2 603.7,230.2 604.7,229.6 605.7,230.3 606.7,228.5 607.7,228.9 608.7,229.6 609.7,229.0 610.7,227.2 611.7,227.9 612.7,227.3 613.6,227.9 614.6,226.3 615.6,227.4 616.6,225.7 617.6,226.5 618.6,225.4 619.6,225.6 620.6,225.7 621.6,222.9 622.5,224.1 623.5,224.7 624.5,222.2 625.5,224.5 626.5,224.1 627.5,224.0 628.5,219.8 629.5,221.2 630.5,221.2 631.5,219.0 632.4,220.6 633.4,219.7 634.4,219.9 635.4,220.8 636.4,219.9 637.4,218.4 638.4,218.4 639.4,216.9 640.4,216.1 641.3,216.6 642.3,217.2 643.3,217.0 644.3,216.7 645.3,212.9 646.3,214.3 647.3,214.4 648.3,213.8 649.3,213.8 650.3,211.9 651.2,212.8 652.2,212.2 653.2,211.9 654.2,210.6 655.2,209.6 656.2,211.7 657.2,210.0 658.2,209.5 659.2,208.8 660.2,209.3 661.1,209.5 662.1,206.9 663.1,207.0 664.1,208.7 665.1,207.0 666.1,205.8 667.1,206.6 668.1,206.3 669.1,207.4 670.0,204.2 671.0,203.4 672.0,204.3 673.0,202.8 674.0,203.2 675.0,202.7 676.0,202.3 677.0,202.8 678.0,202.3 679.0,202.1 679.9,202.9 680.9,200.4 681.9,197.5 682.9,200.6 683.9,197.7 684.9,197.5 685.9,198.1 686.9,198.0 687.9,198.4 688.8,196.5 689.8,197.3 690.8,195.2 691.8,195.1 692.8,195.3 693.8,196.8 694.8,195.8 695.8,195.6 696.8,194.9 697.8,193.9 698.7,194.6 699.7,193.2 700.7,190.5 701.7,191.3 702.7,191.6 703.7,191.4 704.7,190.6 705.7,190.6 706.7,190.9 707.7,191.0 708.6,188.6 709.6,189.7 710.6,188.8 711.6,187.8 712.6,187.8 713.6,187.6 714.6,187.5 715.6,186.0 716.6,188.7 717.5,187.1 718.5,187.3 719.5,186.3 720.5,186.0 721.5,185.5 722.5,183.8 723.5,184.0 724.5,184.4 725.5,184.4 726.5,184.2 727.4,183.3 728.4,184.2 729.4,182.4 730.4,183.1 731.4,182.1 732.4,180.3 733.4,182.3 734.4,180.2 735.4,180.7 736.4,181.4 737.3,179.5 738.3,179.1 739.3,177.9 740.3,178.8 741.3,177.0 742.3,176.5 743.3,176.5 744.3,176.8 745.3,176.1 746.2,174.3 747.2,176.8 748.2,178.5 749.2,175.7 750.2,173.7 751.2,174.0 752.2,175.6 753.2,175.4 754.2,174.4 755.2,175.0 756.1,173.2 757.1,173.8 758.1,172.8 759.1,176.3 760.1,173.3 761.1,174.5 762.1,174.8 763.1,172.4 764.1,170.4 765.0,172.0 766.0,170.8 767.0,172.7 768.0,171.0 769.0,169.8 770.0,169.6 771.0,169.5 772.0,169.9 773.0,168.6 774.0,168.8 774.9,170.4 775.9,170.9 776.9,169.9 777.9,167.1 778.9,168.1 779.9,169.1 780.9,168.5 781.9,167.2 782.9,167.9 783.9,166.4 784.8,167.3 785.8,168.0 786.8,168.5 787.8,166.4 788.8,165.4 789.8,164.9 790.8,165.7 791.8,167.8 792.8,165.0 793.7,164.3 794.7,165.3 795.7,163.5 796.7,164.9 797.7,162.8 798.7,166.1 799.7,163.9 800.7,162.8 801.7,163.2 802.7,161.8 803.6,161.0 804.6,162.5 805.6,162.7 806.6,160.8 807.6,160.9 808.6,162.3 809.6,161.5 810.6,161.4 811.6,160.2 812.5,160.9 813.5,159.6 814.5,159.5 815.5,158.3 816.5,159.7 817.5,159.3 818.5,159.9 819.5,159.5 820.5,158.1 821.5,158.8 822.4,158.2 823.4,156.4 824.4,157.5 825.4,156.0 826.4,158.3 827.4,157.6 828.4,155.4 829.4,155.9 830.4,157.7 831.4,156.2 832.3,156.5 833.3,155.0 834.3,156.6 835.3,156.5 836.3,153.5 837.3,156.1 838.3,154.8 839.3,153.6 840.3,154.6 841.2,154.0 842.2,153.3 843.2,152.0 844.2,152.5 845.2,152.3 846.2,151.9 847.2,152.4 848.2,150.9 849.2,153.3 850.2,152.9 851.1,152.9 852.1,152.8 853.1,153.0 854.1,149.8 855.1,151.2 856.1,151.1 857.1,148.8 858.1,151.1 859.1,149.2 860.1,149.0 861.0,149.6 862.0,147.8 863.0,148.5 864.0,148.2 865.0,147.6 866.0,147.5 867.0,148.2 868.0,148.3 869.0,145.9 869.9,145.8 870.9,146.9 871.9,146.2 872.9,147.8 873.9,147.7 874.9,147.7 875.9,146.7 876.9,146.2 877.9,145.4 878.9,143.5 879.8,142.1 880.8,143.2 881.8,143.5 882.8,143.3 883.8,144.6 884.8,144.9 885.8,142.6 886.8,144.5 887.8,144.9 888.7,143.6 889.7,144.5 890.7,143.5 891.7,142.9 892.7,143.5 893.7,142.3 894.7,142.9 895.7,141.9 896.7,141.9 897.7,142.2 898.6,140.9 899.6,142.9 900.6,140.5 901.6,141.5 902.6,142.0 903.6,138.9 904.6,141.4 905.6,140.4 906.6,142.8 907.6,141.4 908.5,140.9 909.5,140.4 910.5,142.0 911.5,143.0 912.5,141.3 913.5,141.3 914.5,138.9 915.5,141.3 916.5,140.0 917.4,139.6 918.4,139.3 919.4,138.5 920.4,139.5 921.4,137.0 922.4,137.4 923.4,138.3 924.4,139.2 925.4,138.4 926.4,138.1 927.3,138.4 928.3,137.8 929.3,136.1 930.3,139.0 931.3,138.1 932.3,138.6 933.3,138.3 934.3,137.5 935.3,137.9 936.2,137.6 937.2,136.5 938.2,137.3 939.2,135.5 940.2,136.4 941.2,136.5 942.2,136.0 943.2,134.0 944.2,135.4 945.2,135.1 946.1,134.4 947.1,135.8 948.1,136.1 949.1,134.7 950.1,136.1 951.1,135.8 952.1,134.0 953.1,133.7 954.1,135.1 955.1,133.4 956.0,135.6 957.0,134.4 958.0,133.7 959.0,133.9 960.0,134.2 961.0,133.5 962.0,132.9 963.0,132.4 964.0,133.6 964.9,132.3 965.9,131.9 966.9,132.6 967.9,132.8 968.9,132.8 969.9,132.6 970.9,132.5 971.9,130.7 972.9,130.8 973.9,131.9 974.8,130.7 975.8,132.0 976.8,131.1 977.8,130.7 978.8,130.7 979.8,131.7 980.8,132.3 981.8,130.8 982.8,130.7 983.8,131.8 984.7,129.4 985.7,128.9 986.7,128.5 987.7,129.8 988.7,129.3 989.7,129.2 990.7,129.0 991.7,128.4 992.7,129.0 993.6,129.3 994.6,128.8 995.6,130.4 996.6,129.3 997.6,129.0 998.6,129.7 999.6,130.0 1000.6,127.9 1001.6,128.4 1002.6,127.9 1003.5,128.0 1004.5,125.7 1005.5,126.9 1006.5,129.0 1007.5,129.8 1008.5,131.7 1009.5,136.8 1010.5,136.6 1011.5,138.2 1012.4,140.8 1013.4,142.0 1014.4,139.0 1015.4,138.3 1016.4,137.4 1017.4,135.4 1018.4,136.8 1019.4,134.1 1020.4,134.8 1021.4,133.6 1022.3,133.0 1023.3,132.4 1024.3,129.8 1025.3,131.1 1026.3,130.2 1027.3,130.0 1028.3,128.6 1029.3,129.9 1030.3,129.4 1031.3,127.0 1032.2,128.0 1033.2,126.3 1034.2,128.1 1035.2,127.8 1036.2,124.8 1037.2,124.8 1038.2,125.2 1039.2,125.4 1040.2,125.7 1041.1,125.7 1042.1,123.9 1043.1,125.5 1044.1,124.4 1045.1,126.8 1046.1,125.7 1047.1,125.5 1048.1,125.9 1049.1,125.2 1050.1,125.4 1051.0,125.9 1052.0,124.8 1053.0,124.5 1054.0,123.8 1055.0,123.1 1056.0,122.6 1057.0,123.3 1058.0,124.2 1059.0,123.5 1059.9,123.3 1060.9,121.1 1061.9,123.8 1062.9,122.4 1063.9,122.8 1064.9,122.7 1065.9,123.3 1066.9,122.5 1067.9,122.2 1068.9,120.1 1069.8,121.2 1070.8,122.6 1071.8,121.2 1072.8,122.5 1073.8,122.4 1074.8,122.3 1075.8,123.4 1076.8,123.1 1077.8,120.7 1078.8,121.6 1079.7,122.8 1080.7,120.9 1081.7,120.9 1082.7,122.6 1083.7,121.0 1084.7,122.5 1085.7,121.7 1086.7,118.7 1087.7,118.6 1088.6,120.3 1089.6,122.7 1090.6,121.2 1091.6,119.6 1092.6,119.8 1093.6,120.3 1094.6,118.3 1095.6,118.7 1096.6,118.6 1097.6,119.4 1098.5,120.1 1099.5,119.0 1100.5,118.9 1101.5,117.8 1102.5,118.7 1103.5,119.3 1104.5,117.9 1105.5,116.4 1106.5,114.9 1107.5,116.4 1108.4,117.9 1109.4,118.1 1110.4,117.5 1111.4,118.4 1112.4,118.1 1113.4,118.8 1114.4,117.6 1115.4,118.3 1116.4,116.7 1117.3,117.8 1118.3,117.0 1119.3,117.9 1120.3,117.4 1121.3,117.8 1122.3,118.7 1123.3,117.0 1124.3,118.2 1125.3,117.1 1126.3,118.4 1127.2,120.1 1128.2,118.6 1129.2,120.3 1130.2,122.3 1131.2,124.6"/>
<path stroke="#B7B7B7" stroke-width="3.3" d="M1131.2,124.6L1132.4,135.0V418.7"/>
</g>
<g font-size="25.3">
<path d="M221.1,648.9h59.7" stroke="#4472C4" stroke-width="3.5" stroke-linecap="round" fill="none"/><text y="657.2"><tspan x="287.35" textLength="178.89" lengthAdjust="spacingAndGlyphs">Newton-Leipnik</tspan> <tspan x="473.81" textLength="84.93" lengthAdjust="spacingAndGlyphs">Chaotic</tspan> <tspan x="565.10" textLength="138.61" lengthAdjust="spacingAndGlyphs">Trajectory-1</tspan></text>
<path d="M866.0,648.9h59.7" stroke="#ED7D31" stroke-width="3.5" stroke-linecap="round" fill="none"/><text y="657.2"><tspan x="932.55" textLength="178.89" lengthAdjust="spacingAndGlyphs">Newton-Leipnik</tspan> <tspan x="1119.01" textLength="84.93" lengthAdjust="spacingAndGlyphs">Chaotic</tspan> <tspan x="1210.30" textLength="138.61" lengthAdjust="spacingAndGlyphs">Trajectory-2</tspan></text>
<path d="M221.1,683.5h59.7" stroke="#A5A5A5" stroke-width="3.5" stroke-linecap="round" fill="none"/><text y="691.8"><tspan x="287.35" textLength="178.89" lengthAdjust="spacingAndGlyphs">Newton-Leipnik</tspan> <tspan x="473.81" textLength="84.93" lengthAdjust="spacingAndGlyphs">Chaotic</tspan> <tspan x="565.10" textLength="138.61" lengthAdjust="spacingAndGlyphs">Trajectory-3</tspan></text>
<path d="M866.0,683.5h59.7" stroke="#FFC000" stroke-width="3.5" stroke-linecap="round" fill="none"/><text y="691.8"><tspan x="932.62" textLength="77.93" lengthAdjust="spacingAndGlyphs">Hadley</tspan> <tspan x="1017.51" textLength="84.93" lengthAdjust="spacingAndGlyphs">Chaotic</tspan> <tspan x="1108.80" textLength="138.71" lengthAdjust="spacingAndGlyphs">Trajectory-1</tspan></text>
<path d="M221.1,718.2h59.7" stroke="#5B9BD5" stroke-width="3.5" stroke-linecap="round" fill="none"/><text y="726.5"><tspan x="287.42" textLength="77.93" lengthAdjust="spacingAndGlyphs">Hadley</tspan> <tspan x="372.31" textLength="84.93" lengthAdjust="spacingAndGlyphs">Chaotic</tspan> <tspan x="463.60" textLength="138.71" lengthAdjust="spacingAndGlyphs">Trajectory-2</tspan></text>
<path d="M866.0,718.2h59.7" stroke="#70AD47" stroke-width="3.5" stroke-linecap="round" fill="none"/><text y="726.5"><tspan x="932.62" textLength="77.93" lengthAdjust="spacingAndGlyphs">Hadley</tspan> <tspan x="1017.51" textLength="84.93" lengthAdjust="spacingAndGlyphs">Chaotic</tspan> <tspan x="1108.80" textLength="138.71" lengthAdjust="spacingAndGlyphs">Trajectory-3</tspan></text>
<path d="M221.1,752.8h59.7" stroke="#264478" stroke-width="3.5" stroke-linecap="round" fill="none"/><text y="761.1"><tspan x="287.37" textLength="69.56" lengthAdjust="spacingAndGlyphs">Sprott</tspan> <tspan x="365.70" textLength="22.4" lengthAdjust="spacingAndGlyphs">A.</tspan> <tspan x="394.01" textLength="84.83" lengthAdjust="spacingAndGlyphs">Chaotic</tspan> <tspan x="485.30" textLength="138.61" lengthAdjust="spacingAndGlyphs">Trajectory-1</tspan></text>
<path d="M866.0,752.8h59.7" stroke="#9E480E" stroke-width="3.5" stroke-linecap="round" fill="none"/><text y="761.1"><tspan x="932.57" textLength="69.56" lengthAdjust="spacingAndGlyphs">Sprott</tspan> <tspan x="1010.90" textLength="22.4" lengthAdjust="spacingAndGlyphs">A.</tspan> <tspan x="1039.21" textLength="84.83" lengthAdjust="spacingAndGlyphs">Chaotic</tspan> <tspan x="1130.50" textLength="138.61" lengthAdjust="spacingAndGlyphs">Trajectory-2</tspan></text>
<path d="M221.1,787.5h59.7" stroke="#548235" stroke-width="3.5" stroke-linecap="round" fill="none"/><text y="795.8"><tspan x="287.37" textLength="69.56" lengthAdjust="spacingAndGlyphs">Sprott</tspan> <tspan x="365.70" textLength="22.4" lengthAdjust="spacingAndGlyphs">A.</tspan> <tspan x="394.01" textLength="84.83" lengthAdjust="spacingAndGlyphs">Chaotic</tspan> <tspan x="485.30" textLength="138.61" lengthAdjust="spacingAndGlyphs">Trajectory-3</tspan></text>
<path d="M866.0,787.5h59.7" stroke="#997300" stroke-width="3.5" stroke-linecap="round" fill="none"/><text y="795.8"><tspan x="932.61" textLength="113.35" lengthAdjust="spacingAndGlyphs">Halvorsen</tspan> <tspan x="1052.71" textLength="84.93" lengthAdjust="spacingAndGlyphs">Chaotic</tspan> <tspan x="1144.00" textLength="139.01" lengthAdjust="spacingAndGlyphs">Trajectory-1</tspan></text>
<path d="M221.1,822.1h59.7" stroke="#255E91" stroke-width="3.5" stroke-linecap="round" fill="none"/><text y="830.4"><tspan x="287.41" textLength="113.35" lengthAdjust="spacingAndGlyphs">Halvorsen</tspan> <tspan x="407.51" textLength="84.93" lengthAdjust="spacingAndGlyphs">Chaotic</tspan> <tspan x="498.80" textLength="139.01" lengthAdjust="spacingAndGlyphs">Trajectory-2</tspan></text>
<path d="M866.0,822.1h59.7" stroke="#7030A0" stroke-width="3.5" stroke-linecap="round" fill="none"/><text y="830.4"><tspan x="932.61" textLength="113.35" lengthAdjust="spacingAndGlyphs">Halvorsen</tspan> <tspan x="1052.71" textLength="84.93" lengthAdjust="spacingAndGlyphs">Chaotic</tspan> <tspan x="1144.00" textLength="139.01" lengthAdjust="spacingAndGlyphs">Trajectory-3</tspan></text>
<path d="M221.1,856.8h59.7" stroke="#698ED0" stroke-width="3.5" stroke-linecap="round" fill="none"/><text y="865.1"><tspan x="287.81" textLength="85.9" lengthAdjust="spacingAndGlyphs">Circular</tspan> <tspan x="380.90" textLength="138.61" lengthAdjust="spacingAndGlyphs">Trajectory-1</tspan></text>
<path d="M866.0,856.8h59.7" stroke="#F1975A" stroke-width="3.5" stroke-linecap="round" fill="none"/><text y="865.1"><tspan x="933.01" textLength="85.9" lengthAdjust="spacingAndGlyphs">Circular</tspan> <tspan x="1026.10" textLength="138.61" lengthAdjust="spacingAndGlyphs">Trajectory-2</tspan></text>
<path d="M221.1,891.4h59.7" stroke="#B7B7B7" stroke-width="3.5" stroke-linecap="round" fill="none"/><text y="899.7"><tspan x="287.81" textLength="85.9" lengthAdjust="spacingAndGlyphs">Circular</tspan> <tspan x="380.90" textLength="138.61" lengthAdjust="spacingAndGlyphs">Trajectory-3</tspan></text>
</g>
</svg>
</body></html>
